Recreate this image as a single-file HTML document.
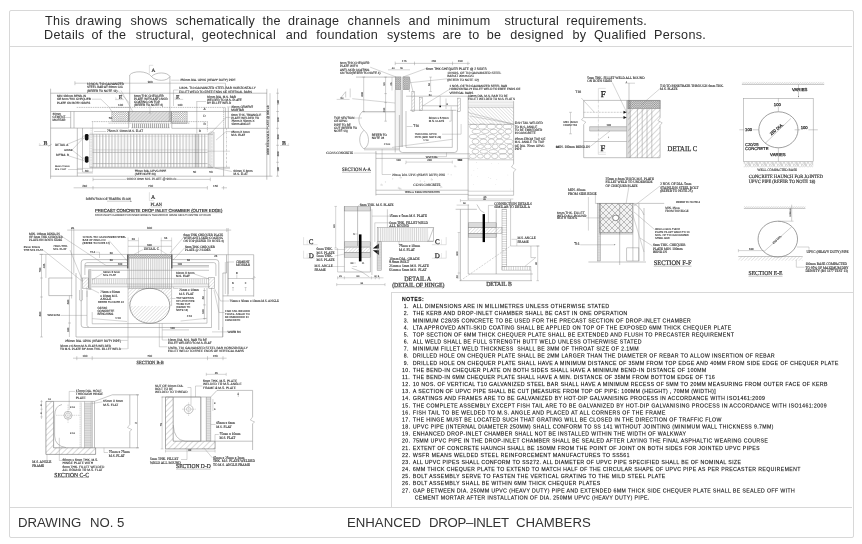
<!DOCTYPE html>
<html><head><meta charset="utf-8">
<style>
html,body{margin:0;padding:0;background:#fff;}
body{width:862px;height:544px;position:relative;overflow:hidden;font-family:"Liberation Sans",sans-serif;}
.hl,#notes,.tb{will-change:transform;}
.box{position:absolute;border:1px solid #d8d8d8;}
.hl{position:absolute;left:0;font-size:12.6px;letter-spacing:0.3px;color:#2a2a2a;white-space:nowrap;line-height:15px;}
.hl span{position:absolute;top:0;}
#notes{position:absolute;left:402.2px;top:295.65px;font-size:10.4px;line-height:14.18px;letter-spacing:0.82px;color:#1a1a1a;white-space:nowrap;transform:scale(0.5);transform-origin:0 0;-webkit-text-stroke:0.3px #1a1a1a;}
#notes .l{position:relative;height:14.18px;}
#notes .n{position:absolute;left:0;}
#notes .t{position:absolute;left:21.8px;}
.tb{position:absolute;top:515.3px;font-size:13.2px;color:#333;white-space:nowrap;line-height:15px;}
svg{position:absolute;left:0;top:0;will-change:transform;}
</style></head><body>
<div class="box" style="left:9px;top:10px;width:843px;height:526px;border-radius:2px;"></div>
<div class="box" style="left:9px;top:46px;width:843px;height:0;border-width:1px 0 0 0"></div>
<div class="box" style="left:9px;top:507px;width:843px;height:0;border-width:1px 0 0 0"></div>
<div class="box" style="left:391px;top:292px;width:461px;height:215px;border-width:1px 0 0 1px"></div>
<div class="hl" style="top:14.2px"><span style="left:45.1px">This</span><span style="left:75.5px">drawing</span><span style="left:130.5px">shows</span><span style="left:175.7px">schematically</span><span style="left:262.5px">the</span><span style="left:288.0px">drainage</span><span style="left:347.6px">channels</span><span style="left:408.4px">and</span><span style="left:437.3px">minimum</span><span style="left:504.4px">structural</span><span style="left:566.2px">requirements.</span></div>
<div class="hl" style="top:27.8px"><span style="left:44.1px">Details</span><span style="left:91.5px">of</span><span style="left:108.0px">the</span><span style="left:135.8px">structural,</span><span style="left:201.7px">geotechnical</span><span style="left:285.7px">and</span><span style="left:316.3px">foundation</span><span style="left:387.0px">systems</span><span style="left:442.5px">are</span><span style="left:468.4px">to</span><span style="left:486.7px">be</span><span style="left:510.2px">designed</span><span style="left:572.4px">by</span><span style="left:594.0px">Qualified</span><span style="left:654.0px">Persons.</span></div>
<div class="tb" style="left:17.7px">DRAWING</div>
<div class="tb" style="left:89.7px">NO. 5</div>
<div class="tb" style="left:346.5px">ENHANCED</div>
<div class="tb" style="left:428.9px;letter-spacing:-0.3px">DROP–INLET</div>
<div class="tb" style="left:516px">CHAMBERS</div>
<svg width="862" height="544" viewBox="0 0 862 544" text-rendering="geometricPrecision"><defs>
<pattern id="xh" width="2.2" height="2.2" patternUnits="userSpaceOnUse"><path d="M0,0L2.2,2.2M2.2,0L0,2.2" stroke="#777" stroke-width="0.35"/></pattern>
<pattern id="dh" width="2.4" height="2.4" patternUnits="userSpaceOnUse" patternTransform="rotate(45)"><line x1="0" y1="0" x2="0" y2="2.4" stroke="#888" stroke-width="0.4"/></pattern>
<pattern id="dh2" width="2.4" height="2.4" patternUnits="userSpaceOnUse" patternTransform="rotate(-45)"><line x1="0" y1="0" x2="0" y2="2.4" stroke="#888" stroke-width="0.4"/></pattern>
<pattern id="dhw" width="4" height="4" patternUnits="userSpaceOnUse" patternTransform="rotate(45)"><line x1="0" y1="0" x2="0" y2="4" stroke="#666" stroke-width="0.5"/></pattern>
<pattern id="dhw2" width="4" height="4" patternUnits="userSpaceOnUse" patternTransform="rotate(-45)"><line x1="0" y1="0" x2="0" y2="4" stroke="#666" stroke-width="0.5"/></pattern>
</defs><line x1="50.6" y1="93.2" x2="267.0" y2="93.2" stroke="#858585" stroke-width="0.5"/>
<line x1="50.6" y1="88.7" x2="50.6" y2="178.8" stroke="#858585" stroke-width="0.5"/>
<line x1="266.8" y1="88.9" x2="266.8" y2="179.7" stroke="#858585" stroke-width="0.5"/>
<line x1="50.6" y1="111.5" x2="266.5" y2="111.5" stroke="#858585" stroke-width="0.5"/>
<line x1="50.6" y1="128.1" x2="128.7" y2="128.1" stroke="#858585" stroke-width="0.5"/>
<line x1="171.8" y1="128.3" x2="266.5" y2="128.3" stroke="#858585" stroke-width="0.5"/>
<line x1="50.6" y1="176.2" x2="272.4" y2="176.2" stroke="#858585" stroke-width="0.5"/>
<line x1="70.7" y1="111.5" x2="70.7" y2="128.1" stroke="#858585" stroke-width="0.5"/>
<line x1="74.0" y1="111.5" x2="74.0" y2="128.1" stroke="#858585" stroke-width="0.5"/>
<path d="M266.8,142.5 L265.2,144.3 L268.3,145.3 L266.8,147" fill="none" stroke="#858585" stroke-width="0.4"/>
<line x1="76.7" y1="107.4" x2="224.8" y2="107.4" stroke="#858585" stroke-width="0.5" stroke-dasharray="1.6,0.7"/>
<line x1="91.8" y1="121.6" x2="207.5" y2="121.6" stroke="#858585" stroke-width="0.5" stroke-dasharray="1.6,0.7"/>
<line x1="108.6" y1="123.2" x2="190.0" y2="123.2" stroke="#858585" stroke-width="0.5" stroke-dasharray="1.2,0.6"/>
<line x1="223.6" y1="107.4" x2="223.6" y2="128.3" stroke="#858585" stroke-width="0.5" stroke-dasharray="1.4,0.7"/>
<line x1="225.4" y1="107.4" x2="225.4" y2="128.3" stroke="#858585" stroke-width="0.5"/>
<line x1="228.3" y1="107.4" x2="228.3" y2="128.3" stroke="#858585" stroke-width="0.5"/>
<line x1="207.4" y1="121.6" x2="207.4" y2="131.5" stroke="#858585" stroke-width="0.5" stroke-dasharray="1.2,0.6"/>
<rect x="111.9" y="111.5" width="16.8" height="9.9" fill="url(#xh)"/>
<rect x="111.9" y="111.5" width="16.8" height="9.9" fill="none" stroke="#858585" stroke-width="0.4"/>
<rect x="128.7" y="111.5" width="43.1" height="9.9" fill="rgba(0,0,0,0.13)"/>
<rect x="128.7" y="111.5" width="43.1" height="9.9" fill="url(#dh)"/>
<rect x="128.7" y="111.5" width="43.1" height="9.9" fill="none" stroke="#858585" stroke-width="0.4"/>
<rect x="128.7" y="111.5" width="1.2" height="9.9" fill="rgba(0,0,0,0.2)"/>
<rect x="168.7" y="111.5" width="3.1" height="9.9" fill="rgba(0,0,0,0.15)"/>
<rect x="171.8" y="111.5" width="15.3" height="11.7" fill="url(#xh)"/>
<rect x="171.8" y="111.5" width="15.3" height="11.7" fill="none" stroke="#858585" stroke-width="0.4"/>
<line x1="128.7" y1="121.4" x2="128.7" y2="128.1" stroke="#858585" stroke-width="0.5"/>
<line x1="171.8" y1="121.4" x2="171.8" y2="128.3" stroke="#858585" stroke-width="0.5"/>
<rect x="132.2" y="123.6" width="0.9" height="4.4" fill="#999"/>
<rect x="134.2" y="123.6" width="0.9" height="4.4" fill="#999"/>
<rect x="136.2" y="123.6" width="0.9" height="4.4" fill="#999"/>
<rect x="138.2" y="123.6" width="0.9" height="4.4" fill="#999"/>
<rect x="140.2" y="123.6" width="0.9" height="4.4" fill="#999"/>
<rect x="142.2" y="123.6" width="0.9" height="4.4" fill="#999"/>
<rect x="144.2" y="123.6" width="0.9" height="4.4" fill="#999"/>
<rect x="146.2" y="123.6" width="0.9" height="4.4" fill="#999"/>
<rect x="148.2" y="123.6" width="0.9" height="4.4" fill="#999"/>
<rect x="150.2" y="123.6" width="0.9" height="4.4" fill="#999"/>
<rect x="152.2" y="123.6" width="0.9" height="4.4" fill="#999"/>
<rect x="154.2" y="123.6" width="0.9" height="4.4" fill="#999"/>
<rect x="156.2" y="123.6" width="0.9" height="4.4" fill="#999"/>
<rect x="158.2" y="123.6" width="0.9" height="4.4" fill="#999"/>
<rect x="160.2" y="123.6" width="0.9" height="4.4" fill="#999"/>
<rect x="162.2" y="123.6" width="0.9" height="4.4" fill="#999"/>
<rect x="164.2" y="123.6" width="0.9" height="4.4" fill="#999"/>
<rect x="166.2" y="123.6" width="0.9" height="4.4" fill="#999"/>
<rect x="168.2" y="123.6" width="0.9" height="4.4" fill="#999"/>
<line x1="131.0" y1="127.9" x2="170.0" y2="127.9" stroke="#858585" stroke-width="0.4"/>
<line x1="129.7" y1="75.0" x2="129.7" y2="111.5" stroke="#858585" stroke-width="0.5"/>
<line x1="169.9" y1="76.5" x2="169.9" y2="111.5" stroke="#858585" stroke-width="0.5"/>
<path d="M129.65,75 C133,70.5 147,70.5 151.5,76.5 C155.5,71.8 167.5,71.8 169.9,76.5 C167.5,81.6 155.5,81.6 151.5,76.5" fill="none" stroke="#858585" stroke-width="0.5"/>
<line x1="149.4" y1="65.2" x2="149.4" y2="73.6" stroke="#b6b6b6" stroke-width="0.4"/>
<line x1="149.4" y1="65.3" x2="153.2" y2="65.3" stroke="#b6b6b6" stroke-width="0.4"/>
<text x="153.3" y="71.9" font-size="5.2" font-family='"Liberation Serif",serif' fill="#333" stroke="#333" stroke-width="0.18" text-anchor="middle">A</text>
<line x1="74.9" y1="83.2" x2="225.5" y2="83.2" stroke="#858585" stroke-width="0.4"/>
<line x1="74.9" y1="81.2" x2="74.9" y2="85.2" stroke="#858585" stroke-width="0.4"/>
<line x1="225.5" y1="83.2" x2="225.5" y2="93.2" stroke="#858585" stroke-width="0.4"/>
<text x="150.2" y="82.5" font-size="3.0" font-family='"Liberation Sans",sans-serif' fill="#444" stroke="#444" stroke-width="0.11" text-anchor="middle">900</text>
<text x="87.0" y="84.9" font-size="3.11" font-family='"Liberation Sans",sans-serif' fill="#333" stroke="#333" stroke-width="0.11" textLength="37.0" lengthAdjust="spacingAndGlyphs">10 NOS. T10 GALVANIZED</text>
<text x="87.0" y="88.2" font-size="3.11" font-family='"Liberation Sans",sans-serif' fill="#333" stroke="#333" stroke-width="0.11" textLength="35.9" lengthAdjust="spacingAndGlyphs">STEEL BAR AT 20mm C/C</text>
<text x="87.0" y="91.5" font-size="3.11" font-family='"Liberation Sans",sans-serif' fill="#333" stroke="#333" stroke-width="0.11" textLength="30.5" lengthAdjust="spacingAndGlyphs">(REFER TO NOTE 12)</text>
<line x1="118.0" y1="90.5" x2="129.9" y2="103.5" stroke="#858585" stroke-width="0.35"/>
<line x1="121.0" y1="90.5" x2="133.0" y2="112.0" stroke="#858585" stroke-width="0.35"/>
<text x="56.9" y="97.1" font-size="3.07" font-family='"Liberation Sans",sans-serif' fill="#333" stroke="#333" stroke-width="0.11" textLength="29.3" lengthAdjust="spacingAndGlyphs">MIN 100mm BEND-IN</text>
<text x="56.9" y="100.3" font-size="3.07" font-family='"Liberation Sans",sans-serif' fill="#333" stroke="#333" stroke-width="0.11" textLength="34.0" lengthAdjust="spacingAndGlyphs">OF 6mm THK CHEQUER</text>
<text x="56.9" y="103.5" font-size="3.07" font-family='"Liberation Sans",sans-serif' fill="#333" stroke="#333" stroke-width="0.11" textLength="33.3" lengthAdjust="spacingAndGlyphs">PLATE ON BOTH SIDES</text>
<line x1="92.0" y1="99.2" x2="100.9" y2="99.2" stroke="#858585" stroke-width="0.35"/>
<line x1="100.9" y1="99.2" x2="108.4" y2="106.4" stroke="#858585" stroke-width="0.35"/>
<line x1="108.4" y1="106.4" x2="111.9" y2="111.5" stroke="#858585" stroke-width="0.35"/>
<line x1="115.2" y1="99.6" x2="123.8" y2="99.6" stroke="#9d9d9d" stroke-width="0.4"/>
<line x1="115.7" y1="99.6" x2="115.7" y2="97.2" stroke="#b6b6b6" stroke-width="0.35"/>
<line x1="116.6" y1="99.6" x2="116.6" y2="98.0" stroke="#c2c2c2" stroke-width="0.3"/>
<text x="120.5" y="99.0" font-size="5.9" font-family='"Liberation Serif",serif' fill="#333" stroke="#333" stroke-width="0.21" text-anchor="middle">E</text>
<text x="120.6" y="106.0" font-size="3.0" font-family='"Liberation Sans",sans-serif' fill="#444" stroke="#444" stroke-width="0.11" text-anchor="middle">100</text>
<line x1="110.5" y1="107.4" x2="129.6" y2="107.4" stroke="#858585" stroke-width="0.35"/>
<text x="134.0" y="96.7" font-size="3.12" font-family='"Liberation Sans",sans-serif' fill="#333" stroke="#333" stroke-width="0.11" textLength="29.6" lengthAdjust="spacingAndGlyphs">6mm THK CHEQUER</text>
<text x="134.0" y="99.8" font-size="3.12" font-family='"Liberation Sans",sans-serif' fill="#333" stroke="#333" stroke-width="0.11" textLength="33.6" lengthAdjust="spacingAndGlyphs">PLATE WITH ANTI-SKID</text>
<text x="134.0" y="102.9" font-size="3.12" font-family='"Liberation Sans",sans-serif' fill="#333" stroke="#333" stroke-width="0.11" textLength="25.9" lengthAdjust="spacingAndGlyphs">COATING ON TOP</text>
<text x="134.0" y="106.0" font-size="3.12" font-family='"Liberation Sans",sans-serif' fill="#333" stroke="#333" stroke-width="0.11" textLength="29.0" lengthAdjust="spacingAndGlyphs">(REFER TO NOTE 4)</text>
<line x1="150.0" y1="105.0" x2="150.0" y2="113.0" stroke="#858585" stroke-width="0.35"/>
<polygon points="150.0,114.0 149.6,112.8 150.4,112.8" fill="#555"/>
<text x="52.5" y="114.7" font-size="3.16" font-family='"Liberation Sans",sans-serif' fill="#333" stroke="#333" stroke-width="0.11" textLength="8.5" lengthAdjust="spacingAndGlyphs">20mm</text>
<text x="52.5" y="117.7" font-size="3.16" font-family='"Liberation Sans",sans-serif' fill="#333" stroke="#333" stroke-width="0.11" textLength="12.9" lengthAdjust="spacingAndGlyphs">CEMENT</text>
<text x="52.5" y="120.7" font-size="3.16" font-family='"Liberation Sans",sans-serif' fill="#333" stroke="#333" stroke-width="0.11" textLength="13.0" lengthAdjust="spacingAndGlyphs">MORTAR</text>
<line x1="63.0" y1="117.5" x2="70.7" y2="117.5" stroke="#858585" stroke-width="0.35"/>
<text x="110.5" y="118.5" font-size="3.0" font-family='"Liberation Sans",sans-serif' fill="#444" stroke="#444" stroke-width="0.11" text-anchor="middle">50</text>
<text x="107.0" y="132.4" font-size="3.16" font-family='"Liberation Sans",sans-serif' fill="#333" stroke="#333" stroke-width="0.11" textLength="36.0" lengthAdjust="spacingAndGlyphs">75mm X 10mm M.S. FLAT</text>
<line x1="94.0" y1="131.5" x2="106.0" y2="131.5" stroke="#858585" stroke-width="0.35"/>
<text x="180.2" y="81.3" font-size="3.1" font-family='"Liberation Sans",sans-serif' fill="#333" stroke="#333" stroke-width="0.11" textLength="55.3" lengthAdjust="spacingAndGlyphs">250mm DIA. UPVC (HEAVY DUTY) PIPE</text>
<line x1="171.2" y1="80.2" x2="179.5" y2="80.2" stroke="#858585" stroke-width="0.35"/>
<text x="179.0" y="89.2" font-size="3.16" font-family='"Liberation Sans",sans-serif' fill="#333" stroke="#333" stroke-width="0.11" textLength="76.8" lengthAdjust="spacingAndGlyphs">1/4/26. T10 GALVANIZED STEEL BAR HORIZONTALLY</text>
<text x="179.0" y="92.7" font-size="3.16" font-family='"Liberation Sans",sans-serif' fill="#333" stroke="#333" stroke-width="0.11" textLength="73.1" lengthAdjust="spacingAndGlyphs">FILLET WELD TO FREE ENDS OF VERTICAL BARS</text>
<line x1="173.5" y1="90.0" x2="178.5" y2="90.0" stroke="#858585" stroke-width="0.35"/>
<line x1="173.5" y1="90.0" x2="173.5" y2="106.0" stroke="#858585" stroke-width="0.35"/>
<line x1="174.6" y1="99.4" x2="183.2" y2="99.4" stroke="#9d9d9d" stroke-width="0.4"/>
<line x1="175.1" y1="99.4" x2="175.1" y2="97.0" stroke="#b6b6b6" stroke-width="0.35"/>
<line x1="176.0" y1="99.4" x2="176.0" y2="97.8" stroke="#c2c2c2" stroke-width="0.3"/>
<text x="177.8" y="98.8" font-size="5.9" font-family='"Liberation Serif",serif' fill="#333" stroke="#333" stroke-width="0.21" text-anchor="middle">E</text>
<text x="180.0" y="106.0" font-size="3.0" font-family='"Liberation Sans",sans-serif' fill="#444" stroke="#444" stroke-width="0.11" text-anchor="middle">100</text>
<text x="206.9" y="97.6" font-size="3.11" font-family='"Liberation Sans",sans-serif' fill="#333" stroke="#333" stroke-width="0.11" textLength="29.1" lengthAdjust="spacingAndGlyphs">10mm DIA. M.S. BAR</text>
<text x="206.9" y="100.8" font-size="3.11" font-family='"Liberation Sans",sans-serif' fill="#333" stroke="#333" stroke-width="0.11" textLength="35.0" lengthAdjust="spacingAndGlyphs">WELDED TO M.S. PLATE</text>
<text x="206.9" y="103.9" font-size="3.11" font-family='"Liberation Sans",sans-serif' fill="#333" stroke="#333" stroke-width="0.11" textLength="24.2" lengthAdjust="spacingAndGlyphs">BY FILLET WELD</text>
<line x1="196.4" y1="101.5" x2="206.0" y2="101.5" stroke="#858585" stroke-width="0.35"/>
<line x1="196.8" y1="101.5" x2="196.8" y2="133.5" stroke="#858585" stroke-width="0.4"/>
<text x="231.2" y="107.5" font-size="3.12" font-family='"Liberation Sans",sans-serif' fill="#333" stroke="#333" stroke-width="0.11" textLength="22.0" lengthAdjust="spacingAndGlyphs">20mm CEMENT</text>
<text x="231.2" y="110.6" font-size="3.12" font-family='"Liberation Sans",sans-serif' fill="#333" stroke="#333" stroke-width="0.11" textLength="12.8" lengthAdjust="spacingAndGlyphs">MORTAR</text>
<line x1="226.9" y1="107.0" x2="230.5" y2="107.0" stroke="#858585" stroke-width="0.35"/>
<text x="231.2" y="115.6" font-size="3.1" font-family='"Liberation Sans",sans-serif' fill="#333" stroke="#333" stroke-width="0.11" textLength="30.1" lengthAdjust="spacingAndGlyphs">6mm THK. TRIANGLE</text>
<text x="231.2" y="118.7" font-size="3.1" font-family='"Liberation Sans",sans-serif' fill="#333" stroke="#333" stroke-width="0.11" textLength="27.9" lengthAdjust="spacingAndGlyphs">PLATE WELDED TO</text>
<text x="231.2" y="121.8" font-size="3.1" font-family='"Liberation Sans",sans-serif' fill="#333" stroke="#333" stroke-width="0.11" textLength="23.2" lengthAdjust="spacingAndGlyphs">75mm X 50mm X</text>
<text x="231.2" y="124.9" font-size="3.1" font-family='"Liberation Sans",sans-serif' fill="#333" stroke="#333" stroke-width="0.11" textLength="19.2" lengthAdjust="spacingAndGlyphs">10mm ANGLE</text>
<line x1="230.6" y1="117.4" x2="226.0" y2="117.4" stroke="#858585" stroke-width="0.35"/>
<line x1="226.0" y1="117.4" x2="210.3" y2="133.6" stroke="#858585" stroke-width="0.35"/>
<text x="231.2" y="132.7" font-size="3.06" font-family='"Liberation Sans",sans-serif' fill="#333" stroke="#333" stroke-width="0.11" textLength="18.5" lengthAdjust="spacingAndGlyphs">65mm X 6mm</text>
<text x="231.2" y="135.7" font-size="3.06" font-family='"Liberation Sans",sans-serif' fill="#333" stroke="#333" stroke-width="0.11" textLength="14.0" lengthAdjust="spacingAndGlyphs">M.S. FLAT</text>
<line x1="230.6" y1="131.6" x2="226.0" y2="131.6" stroke="#858585" stroke-width="0.35"/>
<line x1="226.0" y1="131.6" x2="216.1" y2="140.0" stroke="#858585" stroke-width="0.35"/>
<text x="233.5" y="171.5" font-size="3.16" font-family='"Liberation Sans",sans-serif' fill="#333" stroke="#333" stroke-width="0.11" textLength="19.1" lengthAdjust="spacingAndGlyphs">60mm X 8mm</text>
<text x="233.5" y="174.6" font-size="3.16" font-family='"Liberation Sans",sans-serif' fill="#333" stroke="#333" stroke-width="0.11" textLength="14.4" lengthAdjust="spacingAndGlyphs">M.S. FLAT</text>
<line x1="231.8" y1="171.5" x2="215.0" y2="168.0" stroke="#858585" stroke-width="0.35"/>
<text x="204.5" y="110.2" font-size="3.25" font-family='"Liberation Sans",sans-serif' fill="#444" stroke="#444" stroke-width="0.11" text-anchor="middle">A</text>
<text x="204.5" y="117.1" font-size="3.25" font-family='"Liberation Sans",sans-serif' fill="#444" stroke="#444" stroke-width="0.11" text-anchor="middle">D</text>
<text x="204.5" y="125.3" font-size="3.25" font-family='"Liberation Sans",sans-serif' fill="#444" stroke="#444" stroke-width="0.11" text-anchor="middle">B</text>
<text x="199.9" y="132.0" font-size="3.25" font-family='"Liberation Sans",sans-serif' fill="#444" stroke="#444" stroke-width="0.11" text-anchor="middle">B</text>
<line x1="77.3" y1="128.1" x2="77.3" y2="176.2" stroke="#858585" stroke-width="0.5"/>
<line x1="82.5" y1="128.1" x2="82.5" y2="172.0" stroke="#858585" stroke-width="0.5"/>
<line x1="92.6" y1="121.6" x2="92.6" y2="172.0" stroke="#a9a9a9" stroke-width="0.4"/>
<line x1="91.1" y1="128.1" x2="91.1" y2="168.0" stroke="#858585" stroke-width="0.3" stroke-dasharray="1,0.8"/>
<line x1="82.5" y1="172.0" x2="92.6" y2="172.0" stroke="#858585" stroke-width="0.4"/>
<line x1="89.5" y1="134.2" x2="213.0" y2="134.2" stroke="#858585" stroke-width="0.5"/>
<line x1="92.6" y1="136.3" x2="207.5" y2="136.3" stroke="#b6b6b6" stroke-width="0.35"/>
<line x1="89.5" y1="167.3" x2="213.0" y2="167.3" stroke="#858585" stroke-width="0.6"/>
<line x1="92.6" y1="149.9" x2="207.5" y2="149.9" stroke="#858585" stroke-width="0.3"/>
<line x1="92.6" y1="152.4" x2="207.5" y2="152.4" stroke="#858585" stroke-width="0.5"/>
<line x1="92.6" y1="163.6" x2="207.5" y2="163.6" stroke="#858585" stroke-width="0.5"/>
<line x1="93.3" y1="134.2" x2="93.3" y2="167.3" stroke="#919191" stroke-width="0.45"/>
<line x1="94.1" y1="134.2" x2="94.1" y2="167.3" stroke="#b6b6b6" stroke-width="0.35"/>
<line x1="96.4" y1="134.2" x2="96.4" y2="167.3" stroke="#919191" stroke-width="0.45"/>
<line x1="97.2" y1="134.2" x2="97.2" y2="167.3" stroke="#b6b6b6" stroke-width="0.35"/>
<line x1="99.5" y1="134.2" x2="99.5" y2="167.3" stroke="#919191" stroke-width="0.45"/>
<line x1="100.3" y1="134.2" x2="100.3" y2="167.3" stroke="#b6b6b6" stroke-width="0.35"/>
<line x1="102.6" y1="134.2" x2="102.6" y2="167.3" stroke="#919191" stroke-width="0.45"/>
<line x1="103.4" y1="134.2" x2="103.4" y2="167.3" stroke="#b6b6b6" stroke-width="0.35"/>
<line x1="105.7" y1="134.2" x2="105.7" y2="167.3" stroke="#919191" stroke-width="0.45"/>
<line x1="106.5" y1="134.2" x2="106.5" y2="167.3" stroke="#b6b6b6" stroke-width="0.35"/>
<line x1="108.8" y1="134.2" x2="108.8" y2="167.3" stroke="#919191" stroke-width="0.45"/>
<line x1="109.6" y1="134.2" x2="109.6" y2="167.3" stroke="#b6b6b6" stroke-width="0.35"/>
<line x1="111.8" y1="134.2" x2="111.8" y2="167.3" stroke="#919191" stroke-width="0.45"/>
<line x1="112.6" y1="134.2" x2="112.6" y2="167.3" stroke="#b6b6b6" stroke-width="0.35"/>
<line x1="114.9" y1="134.2" x2="114.9" y2="167.3" stroke="#919191" stroke-width="0.45"/>
<line x1="115.7" y1="134.2" x2="115.7" y2="167.3" stroke="#b6b6b6" stroke-width="0.35"/>
<line x1="118.0" y1="134.2" x2="118.0" y2="167.3" stroke="#919191" stroke-width="0.45"/>
<line x1="118.8" y1="134.2" x2="118.8" y2="167.3" stroke="#b6b6b6" stroke-width="0.35"/>
<line x1="121.1" y1="134.2" x2="121.1" y2="167.3" stroke="#919191" stroke-width="0.45"/>
<line x1="121.9" y1="134.2" x2="121.9" y2="167.3" stroke="#b6b6b6" stroke-width="0.35"/>
<line x1="124.2" y1="134.2" x2="124.2" y2="167.3" stroke="#919191" stroke-width="0.45"/>
<line x1="125.0" y1="134.2" x2="125.0" y2="167.3" stroke="#b6b6b6" stroke-width="0.35"/>
<line x1="127.3" y1="134.2" x2="127.3" y2="167.3" stroke="#919191" stroke-width="0.45"/>
<line x1="128.1" y1="134.2" x2="128.1" y2="167.3" stroke="#b6b6b6" stroke-width="0.35"/>
<line x1="130.4" y1="134.2" x2="130.4" y2="167.3" stroke="#919191" stroke-width="0.45"/>
<line x1="131.2" y1="134.2" x2="131.2" y2="167.3" stroke="#b6b6b6" stroke-width="0.35"/>
<line x1="133.5" y1="134.2" x2="133.5" y2="167.3" stroke="#919191" stroke-width="0.45"/>
<line x1="134.3" y1="134.2" x2="134.3" y2="167.3" stroke="#b6b6b6" stroke-width="0.35"/>
<line x1="136.6" y1="134.2" x2="136.6" y2="167.3" stroke="#919191" stroke-width="0.45"/>
<line x1="137.4" y1="134.2" x2="137.4" y2="167.3" stroke="#b6b6b6" stroke-width="0.35"/>
<line x1="139.7" y1="134.2" x2="139.7" y2="167.3" stroke="#919191" stroke-width="0.45"/>
<line x1="140.5" y1="134.2" x2="140.5" y2="167.3" stroke="#b6b6b6" stroke-width="0.35"/>
<line x1="142.7" y1="134.2" x2="142.7" y2="167.3" stroke="#919191" stroke-width="0.45"/>
<line x1="143.5" y1="134.2" x2="143.5" y2="167.3" stroke="#b6b6b6" stroke-width="0.35"/>
<line x1="145.8" y1="134.2" x2="145.8" y2="167.3" stroke="#919191" stroke-width="0.45"/>
<line x1="146.6" y1="134.2" x2="146.6" y2="167.3" stroke="#b6b6b6" stroke-width="0.35"/>
<line x1="148.9" y1="134.2" x2="148.9" y2="167.3" stroke="#919191" stroke-width="0.45"/>
<line x1="149.7" y1="134.2" x2="149.7" y2="167.3" stroke="#b6b6b6" stroke-width="0.35"/>
<line x1="152.0" y1="134.2" x2="152.0" y2="167.3" stroke="#919191" stroke-width="0.45"/>
<line x1="152.8" y1="134.2" x2="152.8" y2="167.3" stroke="#b6b6b6" stroke-width="0.35"/>
<line x1="155.1" y1="134.2" x2="155.1" y2="167.3" stroke="#919191" stroke-width="0.45"/>
<line x1="155.9" y1="134.2" x2="155.9" y2="167.3" stroke="#b6b6b6" stroke-width="0.35"/>
<line x1="158.2" y1="134.2" x2="158.2" y2="167.3" stroke="#919191" stroke-width="0.45"/>
<line x1="159.0" y1="134.2" x2="159.0" y2="167.3" stroke="#b6b6b6" stroke-width="0.35"/>
<line x1="161.3" y1="134.2" x2="161.3" y2="167.3" stroke="#919191" stroke-width="0.45"/>
<line x1="162.1" y1="134.2" x2="162.1" y2="167.3" stroke="#b6b6b6" stroke-width="0.35"/>
<line x1="164.4" y1="134.2" x2="164.4" y2="167.3" stroke="#919191" stroke-width="0.45"/>
<line x1="165.2" y1="134.2" x2="165.2" y2="167.3" stroke="#b6b6b6" stroke-width="0.35"/>
<line x1="167.5" y1="134.2" x2="167.5" y2="167.3" stroke="#919191" stroke-width="0.45"/>
<line x1="168.3" y1="134.2" x2="168.3" y2="167.3" stroke="#b6b6b6" stroke-width="0.35"/>
<line x1="170.6" y1="134.2" x2="170.6" y2="167.3" stroke="#919191" stroke-width="0.45"/>
<line x1="171.4" y1="134.2" x2="171.4" y2="167.3" stroke="#b6b6b6" stroke-width="0.35"/>
<line x1="173.6" y1="134.2" x2="173.6" y2="167.3" stroke="#919191" stroke-width="0.45"/>
<line x1="174.4" y1="134.2" x2="174.4" y2="167.3" stroke="#b6b6b6" stroke-width="0.35"/>
<line x1="176.7" y1="134.2" x2="176.7" y2="167.3" stroke="#919191" stroke-width="0.45"/>
<line x1="177.5" y1="134.2" x2="177.5" y2="167.3" stroke="#b6b6b6" stroke-width="0.35"/>
<line x1="179.8" y1="134.2" x2="179.8" y2="167.3" stroke="#919191" stroke-width="0.45"/>
<line x1="180.6" y1="134.2" x2="180.6" y2="167.3" stroke="#b6b6b6" stroke-width="0.35"/>
<line x1="182.9" y1="134.2" x2="182.9" y2="167.3" stroke="#919191" stroke-width="0.45"/>
<line x1="183.7" y1="134.2" x2="183.7" y2="167.3" stroke="#b6b6b6" stroke-width="0.35"/>
<line x1="186.0" y1="134.2" x2="186.0" y2="167.3" stroke="#919191" stroke-width="0.45"/>
<line x1="186.8" y1="134.2" x2="186.8" y2="167.3" stroke="#b6b6b6" stroke-width="0.35"/>
<line x1="189.1" y1="134.2" x2="189.1" y2="167.3" stroke="#919191" stroke-width="0.45"/>
<line x1="189.9" y1="134.2" x2="189.9" y2="167.3" stroke="#b6b6b6" stroke-width="0.35"/>
<line x1="192.2" y1="134.2" x2="192.2" y2="167.3" stroke="#919191" stroke-width="0.45"/>
<line x1="193.0" y1="134.2" x2="193.0" y2="167.3" stroke="#b6b6b6" stroke-width="0.35"/>
<line x1="195.3" y1="134.2" x2="195.3" y2="167.3" stroke="#919191" stroke-width="0.45"/>
<line x1="196.1" y1="134.2" x2="196.1" y2="167.3" stroke="#b6b6b6" stroke-width="0.35"/>
<line x1="198.4" y1="134.2" x2="198.4" y2="167.3" stroke="#919191" stroke-width="0.45"/>
<line x1="199.2" y1="134.2" x2="199.2" y2="167.3" stroke="#b6b6b6" stroke-width="0.35"/>
<line x1="201.5" y1="134.2" x2="201.5" y2="167.3" stroke="#919191" stroke-width="0.45"/>
<line x1="202.3" y1="134.2" x2="202.3" y2="167.3" stroke="#b6b6b6" stroke-width="0.35"/>
<line x1="204.5" y1="134.2" x2="204.5" y2="167.3" stroke="#919191" stroke-width="0.45"/>
<line x1="205.3" y1="134.2" x2="205.3" y2="167.3" stroke="#b6b6b6" stroke-width="0.35"/>
<rect x="194.6" y="134.2" width="4.1" height="33.1" fill="rgba(0,0,0,0.12)"/>
<line x1="89.5" y1="134.2" x2="89.5" y2="167.3" stroke="#b6b6b6" stroke-width="0.35"/>
<line x1="89.5" y1="135.0" x2="92.3" y2="135.0" stroke="#c2c2c2" stroke-width="0.3"/>
<line x1="89.5" y1="136.5" x2="92.3" y2="136.5" stroke="#c2c2c2" stroke-width="0.3"/>
<line x1="89.5" y1="138.0" x2="92.3" y2="138.0" stroke="#c2c2c2" stroke-width="0.3"/>
<line x1="89.5" y1="139.5" x2="92.3" y2="139.5" stroke="#c2c2c2" stroke-width="0.3"/>
<line x1="89.5" y1="141.0" x2="92.3" y2="141.0" stroke="#c2c2c2" stroke-width="0.3"/>
<line x1="89.5" y1="142.5" x2="92.3" y2="142.5" stroke="#c2c2c2" stroke-width="0.3"/>
<line x1="89.5" y1="144.0" x2="92.3" y2="144.0" stroke="#c2c2c2" stroke-width="0.3"/>
<line x1="89.5" y1="145.5" x2="92.3" y2="145.5" stroke="#c2c2c2" stroke-width="0.3"/>
<line x1="89.5" y1="147.0" x2="92.3" y2="147.0" stroke="#c2c2c2" stroke-width="0.3"/>
<line x1="89.5" y1="148.5" x2="92.3" y2="148.5" stroke="#c2c2c2" stroke-width="0.3"/>
<line x1="89.5" y1="150.0" x2="92.3" y2="150.0" stroke="#c2c2c2" stroke-width="0.3"/>
<line x1="89.5" y1="151.5" x2="92.3" y2="151.5" stroke="#c2c2c2" stroke-width="0.3"/>
<line x1="89.5" y1="153.0" x2="92.3" y2="153.0" stroke="#c2c2c2" stroke-width="0.3"/>
<line x1="89.5" y1="154.5" x2="92.3" y2="154.5" stroke="#c2c2c2" stroke-width="0.3"/>
<line x1="89.5" y1="156.0" x2="92.3" y2="156.0" stroke="#c2c2c2" stroke-width="0.3"/>
<line x1="89.5" y1="157.5" x2="92.3" y2="157.5" stroke="#c2c2c2" stroke-width="0.3"/>
<line x1="89.5" y1="159.0" x2="92.3" y2="159.0" stroke="#c2c2c2" stroke-width="0.3"/>
<line x1="89.5" y1="160.5" x2="92.3" y2="160.5" stroke="#c2c2c2" stroke-width="0.3"/>
<line x1="89.5" y1="162.0" x2="92.3" y2="162.0" stroke="#c2c2c2" stroke-width="0.3"/>
<line x1="89.5" y1="163.5" x2="92.3" y2="163.5" stroke="#c2c2c2" stroke-width="0.3"/>
<line x1="89.5" y1="165.0" x2="92.3" y2="165.0" stroke="#c2c2c2" stroke-width="0.3"/>
<line x1="89.5" y1="166.5" x2="92.3" y2="166.5" stroke="#c2c2c2" stroke-width="0.3"/>
<rect x="208.2" y="133.0" width="5.8" height="34.3" fill="rgba(0,0,0,0.06)"/>
<line x1="208.2" y1="134.0" x2="208.2" y2="167.3" stroke="#858585" stroke-width="0.45"/>
<line x1="214.0" y1="132.1" x2="214.0" y2="167.3" stroke="#858585" stroke-width="0.45"/>
<line x1="210.0" y1="133.0" x2="210.0" y2="167.3" stroke="#b6b6b6" stroke-width="0.35"/>
<line x1="211.8" y1="134.0" x2="211.8" y2="166.0" stroke="#a9a9a9" stroke-width="0.4" stroke-dasharray="0.6,0.9"/>
<line x1="208.2" y1="134.0" x2="210.5" y2="132.1" stroke="#858585" stroke-width="0.4"/>
<line x1="210.5" y1="132.1" x2="214.0" y2="132.1" stroke="#858585" stroke-width="0.4"/>
<line x1="207.5" y1="167.5" x2="230.0" y2="167.3" stroke="#858585" stroke-width="0.45"/>
<line x1="208.7" y1="164.0" x2="212.0" y2="167.5" stroke="#858585" stroke-width="0.35"/>
<line x1="223.6" y1="128.3" x2="223.6" y2="176.2" stroke="#858585" stroke-width="0.5"/>
<line x1="226.5" y1="128.3" x2="226.5" y2="167.0" stroke="#858585" stroke-width="0.4" stroke-dasharray="2,0.8,0.5,0.8"/>
<line x1="207.5" y1="151.2" x2="230.0" y2="151.2" stroke="#858585" stroke-width="0.3"/>
<rect x="84.9" y="133.9" width="3.6" height="6.5" rx="1.4" fill="#111"/>
<rect x="84.9" y="156.2" width="3.6" height="6.5" rx="1.4" fill="#111"/>
<circle cx="83.6" cy="137.3" r="1.2" fill="none" stroke="#858585" stroke-width="0.35"/>
<circle cx="83.6" cy="159.2" r="1.2" fill="none" stroke="#858585" stroke-width="0.35"/>
<text x="55.0" y="145.5" font-size="3.18" font-family='"Liberation Sans",sans-serif' fill="#333" stroke="#333" stroke-width="0.11" textLength="13.2" lengthAdjust="spacingAndGlyphs">DETAIL A</text>
<text x="64.2" y="151.1" font-size="2.7" font-family='"Liberation Sans",sans-serif' fill="#333" stroke="#333" stroke-width="0.09" textLength="8.3" lengthAdjust="spacingAndGlyphs">HINGE</text>
<text x="56.0" y="156.0" font-size="3.07" font-family='"Liberation Sans",sans-serif' fill="#333" stroke="#333" stroke-width="0.11" textLength="12.9" lengthAdjust="spacingAndGlyphs">DETAIL B</text>
<text x="55.0" y="167.1" font-size="2.44" font-family='"Liberation Sans",sans-serif' fill="#333" stroke="#333" stroke-width="0.09" textLength="14.7" lengthAdjust="spacingAndGlyphs">65mm X 6mm</text>
<text x="55.0" y="170.3" font-size="2.43" font-family='"Liberation Sans",sans-serif' fill="#333" stroke="#333" stroke-width="0.09" textLength="11.1" lengthAdjust="spacingAndGlyphs">M.S. FLAT</text>
<line x1="68.0" y1="144.0" x2="82.4" y2="138.0" stroke="#858585" stroke-width="0.35"/>
<line x1="72.0" y1="150.0" x2="82.4" y2="139.0" stroke="#858585" stroke-width="0.35"/>
<line x1="72.0" y1="150.0" x2="82.4" y2="158.2" stroke="#858585" stroke-width="0.35"/>
<line x1="68.5" y1="155.8" x2="82.4" y2="160.2" stroke="#858585" stroke-width="0.35"/>
<line x1="68.0" y1="169.5" x2="82.5" y2="169.5" stroke="#858585" stroke-width="0.35"/>
<line x1="38.9" y1="145.5" x2="50.4" y2="145.5" stroke="#9d9d9d" stroke-width="0.4"/>
<line x1="39.4" y1="145.5" x2="39.4" y2="143.1" stroke="#b6b6b6" stroke-width="0.35"/>
<line x1="40.3" y1="145.5" x2="40.3" y2="143.9" stroke="#c2c2c2" stroke-width="0.3"/>
<text x="45.5" y="144.9" font-size="5.9" font-family='"Liberation Serif",serif' fill="#333" stroke="#333" stroke-width="0.21" text-anchor="middle">B</text>
<line x1="48.0" y1="146.5" x2="52.0" y2="144.0" stroke="#858585" stroke-width="0.35"/>
<line x1="270.0" y1="93.2" x2="270.0" y2="176.2" stroke="#858585" stroke-width="0.4"/>
<text x="269.4" y="130.0" font-size="3.12" font-family='"Liberation Sans",sans-serif' fill="#444" stroke="#444" stroke-width="0.11" text-anchor="middle" transform="rotate(-90 269.4 130.0)">1000 X 8mm M.S. PLATE @ 900 c/c</text>
<line x1="277.6" y1="88.5" x2="277.6" y2="176.2" stroke="#858585" stroke-width="0.4"/>
<line x1="276.2" y1="93.2" x2="279.0" y2="93.2" stroke="#858585" stroke-width="0.4"/>
<line x1="276.2" y1="111.5" x2="279.0" y2="111.5" stroke="#858585" stroke-width="0.4"/>
<line x1="276.2" y1="128.3" x2="279.0" y2="128.3" stroke="#858585" stroke-width="0.4"/>
<line x1="276.2" y1="145.3" x2="279.0" y2="145.3" stroke="#858585" stroke-width="0.4"/>
<line x1="276.2" y1="162.3" x2="279.0" y2="162.3" stroke="#858585" stroke-width="0.4"/>
<line x1="276.2" y1="176.2" x2="279.0" y2="176.2" stroke="#858585" stroke-width="0.4"/>
<text x="278.6" y="102.3" font-size="2.88" font-family='"Liberation Sans",sans-serif' fill="#444" stroke="#444" stroke-width="0.10" text-anchor="middle" transform="rotate(-90 278.6 102.3)">100</text>
<text x="278.6" y="119.9" font-size="2.88" font-family='"Liberation Sans",sans-serif' fill="#444" stroke="#444" stroke-width="0.10" text-anchor="middle" transform="rotate(-90 278.6 119.9)">100</text>
<text x="278.6" y="136.8" font-size="2.88" font-family='"Liberation Sans",sans-serif' fill="#444" stroke="#444" stroke-width="0.10" text-anchor="middle" transform="rotate(-90 278.6 136.8)">300</text>
<text x="278.6" y="153.8" font-size="2.88" font-family='"Liberation Sans",sans-serif' fill="#444" stroke="#444" stroke-width="0.10" text-anchor="middle" transform="rotate(-90 278.6 153.8)">300</text>
<text x="278.6" y="169.2" font-size="2.88" font-family='"Liberation Sans",sans-serif' fill="#444" stroke="#444" stroke-width="0.10" text-anchor="middle" transform="rotate(-90 278.6 169.2)">100</text>
<line x1="280.1" y1="145.5" x2="289.1" y2="145.5" stroke="#9d9d9d" stroke-width="0.4"/>
<line x1="288.6" y1="145.5" x2="288.6" y2="143.1" stroke="#b6b6b6" stroke-width="0.35"/>
<line x1="287.7" y1="145.5" x2="287.7" y2="143.9" stroke="#c2c2c2" stroke-width="0.3"/>
<text x="284.0" y="144.9" font-size="5.9" font-family='"Liberation Serif",serif' fill="#333" stroke="#333" stroke-width="0.21" text-anchor="middle">B</text>
<line x1="77.3" y1="173.0" x2="93.0" y2="173.0" stroke="#858585" stroke-width="0.35"/>
<text x="86.7" y="172.4" font-size="3.0" font-family='"Liberation Sans",sans-serif' fill="#444" stroke="#444" stroke-width="0.11" text-anchor="middle">60</text>
<line x1="77.3" y1="168.4" x2="230.0" y2="168.4" stroke="#858585" stroke-width="0.35"/>
<text x="194.6" y="173.2" font-size="3.0" font-family='"Liberation Sans",sans-serif' fill="#444" stroke="#444" stroke-width="0.11" text-anchor="middle">50</text>
<text x="210.9" y="173.2" font-size="3.0" font-family='"Liberation Sans",sans-serif' fill="#444" stroke="#444" stroke-width="0.11" text-anchor="middle">50</text>
<line x1="93.0" y1="179.4" x2="210.3" y2="179.4" stroke="#858585" stroke-width="0.4"/>
<line x1="93.0" y1="177.6" x2="93.0" y2="181.2" stroke="#858585" stroke-width="0.4"/>
<line x1="210.3" y1="177.6" x2="210.3" y2="181.2" stroke="#858585" stroke-width="0.4"/>
<rect x="126.0" y="177.6" width="51.0" height="3.6" fill="#fff"/>
<text x="151.5" y="180.4" font-size="3.19" font-family='"Liberation Sans",sans-serif' fill="#444" stroke="#444" stroke-width="0.11" text-anchor="middle" textLength="50.0" lengthAdjust="spacingAndGlyphs">1000 X 8mm M.S. PLATE @ 900 c/c</text>
<text x="134.7" y="172.4" font-size="3.06" font-family='"Liberation Sans",sans-serif' fill="#333" stroke="#333" stroke-width="0.11" textLength="31.5" lengthAdjust="spacingAndGlyphs">75mm DIA. UPVC PIPE</text>
<text x="134.7" y="175.4" font-size="3.06" font-family='"Liberation Sans",sans-serif' fill="#333" stroke="#333" stroke-width="0.11" textLength="21.1" lengthAdjust="spacingAndGlyphs">(SEE NOTE 20)</text>
<line x1="73.6" y1="187.8" x2="207.4" y2="187.8" stroke="#858585" stroke-width="0.4"/>
<line x1="93.0" y1="186.0" x2="93.0" y2="189.6" stroke="#858585" stroke-width="0.4"/>
<line x1="207.4" y1="186.0" x2="207.4" y2="189.6" stroke="#858585" stroke-width="0.4"/>
<text x="84.7" y="187.1" font-size="3.0" font-family='"Liberation Sans",sans-serif' fill="#444" stroke="#444" stroke-width="0.11" text-anchor="middle">240</text>
<text x="150.6" y="187.1" font-size="3.0" font-family='"Liberation Sans",sans-serif' fill="#444" stroke="#444" stroke-width="0.11" text-anchor="middle">700</text>
<text x="215.5" y="187.1" font-size="3.0" font-family='"Liberation Sans",sans-serif' fill="#444" stroke="#444" stroke-width="0.11" text-anchor="middle">150</text>
<line x1="223.6" y1="186.0" x2="223.6" y2="189.6" stroke="#858585" stroke-width="0.4"/>
<line x1="221.6" y1="187.8" x2="227.0" y2="187.8" stroke="#858585" stroke-width="0.4"/>
<text x="85.7" y="199.7" font-size="3.15" font-family='"Liberation Sans",sans-serif' fill="#333" stroke="#333" stroke-width="0.11" textLength="45.3" lengthAdjust="spacingAndGlyphs">DIRECTION OF TRAFFIC FLOW</text>
<line x1="107.0" y1="201.2" x2="131.0" y2="201.2" stroke="#858585" stroke-width="0.4"/>
<polygon points="132.0,201.2 130.4,201.8 130.4,200.6" fill="#555"/>
<line x1="149.4" y1="192.2" x2="149.4" y2="200.6" stroke="#b6b6b6" stroke-width="0.4"/>
<line x1="149.4" y1="200.6" x2="153.6" y2="200.6" stroke="#b6b6b6" stroke-width="0.4"/>
<text x="153.0" y="198.8" font-size="5.8" font-family='"Liberation Serif",serif' fill="#333" stroke="#333" stroke-width="0.20" text-anchor="middle">A</text>
<text x="156.3" y="206.3" font-size="4.69" font-family='"Liberation Serif",serif' fill="#333" stroke="#333" stroke-width="0.16" text-anchor="middle" textLength="11.4" lengthAdjust="spacingAndGlyphs">PLAN</text>
<line x1="150.6" y1="207.0" x2="162.0" y2="207.0" stroke="#858585" stroke-width="0.35"/>
<text x="95.0" y="211.7" font-size="4.43" font-family='"Liberation Sans",sans-serif' fill="#222" stroke="#222" stroke-width="0.16" textLength="127.4" lengthAdjust="spacingAndGlyphs">PRECAST CONCRETE DROP INLET CHAMBER (OUTER EDGE)</text>
<line x1="95.0" y1="212.6" x2="222.4" y2="212.6" stroke="#858585" stroke-width="0.45"/>
<text x="95.0" y="215.8" font-size="2.69" font-family='"Liberation Sans",sans-serif' fill="#555" stroke="#555" stroke-width="0.09" textLength="116.0" lengthAdjust="spacingAndGlyphs">DROP-INLET CHAMBER FOR INNER EDGE IS THE MIRROR IMAGE ABOUT CENTRE OF ROAD</text>
<line x1="67.2" y1="230.1" x2="231.2" y2="230.1" stroke="#858585" stroke-width="0.4"/>
<line x1="71.6" y1="228.0" x2="71.6" y2="298.5" stroke="#858585" stroke-width="0.4"/>
<line x1="73.8" y1="228.0" x2="73.8" y2="273.5" stroke="#858585" stroke-width="0.4"/>
<line x1="226.8" y1="228.0" x2="226.8" y2="232.0" stroke="#858585" stroke-width="0.4"/>
<line x1="228.2" y1="228.0" x2="228.2" y2="294.0" stroke="#858585" stroke-width="0.4"/>
<line x1="225.3" y1="262.0" x2="225.3" y2="294.0" stroke="#858585" stroke-width="0.35"/>
<text x="149.6" y="229.4" font-size="3.0" font-family='"Liberation Sans",sans-serif' fill="#444" stroke="#444" stroke-width="0.11" text-anchor="middle">900</text>
<text x="72.5" y="228.6" font-size="2.75" font-family='"Liberation Sans",sans-serif' fill="#444" stroke="#444" stroke-width="0.10" text-anchor="middle">25</text>
<line x1="39.3" y1="254.4" x2="215.0" y2="254.4" stroke="#858585" stroke-width="0.45"/>
<line x1="215.0" y1="254.7" x2="253.7" y2="254.7" stroke="#858585" stroke-width="0.45"/>
<line x1="41.5" y1="254.4" x2="41.5" y2="337.0" stroke="#858585" stroke-width="0.4"/>
<line x1="45.9" y1="254.4" x2="45.9" y2="278.0" stroke="#858585" stroke-width="0.4"/>
<line x1="40.2" y1="254.4" x2="42.8" y2="254.4" stroke="#858585" stroke-width="0.4"/>
<line x1="40.2" y1="278.0" x2="42.8" y2="278.0" stroke="#858585" stroke-width="0.4"/>
<line x1="40.2" y1="297.0" x2="42.8" y2="297.0" stroke="#858585" stroke-width="0.4"/>
<line x1="40.2" y1="337.0" x2="42.8" y2="337.0" stroke="#858585" stroke-width="0.4"/>
<text x="45.2" y="266.0" font-size="2.75" font-family='"Liberation Sans",sans-serif' fill="#444" stroke="#444" stroke-width="0.10" text-anchor="middle" transform="rotate(-90 45.2 266.0)">425</text>
<text x="41.0" y="270.0" font-size="2.75" font-family='"Liberation Sans",sans-serif' fill="#444" stroke="#444" stroke-width="0.10" text-anchor="middle" transform="rotate(-90 41.0 270.0)">700</text>
<text x="41.0" y="314.0" font-size="2.75" font-family='"Liberation Sans",sans-serif' fill="#444" stroke="#444" stroke-width="0.10" text-anchor="middle" transform="rotate(-90 41.0 314.0)">800</text>
<line x1="48.8" y1="278.0" x2="72.4" y2="278.0" stroke="#858585" stroke-width="0.5"/>
<line x1="48.8" y1="295.6" x2="72.4" y2="295.6" stroke="#858585" stroke-width="0.5"/>
<line x1="48.8" y1="278.0" x2="48.8" y2="295.6" stroke="#858585" stroke-width="0.5"/>
<line x1="69.4" y1="295.6" x2="69.4" y2="337.0" stroke="#858585" stroke-width="0.4"/>
<line x1="68.0" y1="323.0" x2="71.0" y2="323.0" stroke="#858585" stroke-width="0.4"/>
<text x="69.2" y="302.0" font-size="2.75" font-family='"Liberation Sans",sans-serif' fill="#444" stroke="#444" stroke-width="0.10" text-anchor="middle" transform="rotate(-90 69.2 302.0)">500</text>
<text x="69.2" y="330.0" font-size="2.75" font-family='"Liberation Sans",sans-serif' fill="#444" stroke="#444" stroke-width="0.10" text-anchor="middle" transform="rotate(-90 69.2 330.0)">100</text>
<line x1="76.0" y1="273.0" x2="76.0" y2="337.0" stroke="#858585" stroke-width="0.5"/>
<line x1="76.0" y1="337.0" x2="222.9" y2="337.0" stroke="#858585" stroke-width="0.5"/>
<line x1="222.9" y1="273.0" x2="222.9" y2="337.0" stroke="#858585" stroke-width="0.5"/>
<line x1="226.5" y1="254.7" x2="226.5" y2="273.0" stroke="#858585" stroke-width="0.5"/>
<line x1="222.8" y1="273.0" x2="226.5" y2="273.0" stroke="#858585" stroke-width="0.5"/>
<line x1="227.9" y1="262.0" x2="227.9" y2="295.9" stroke="#858585" stroke-width="0.5"/>
<line x1="226.5" y1="262.0" x2="227.9" y2="262.0" stroke="#858585" stroke-width="0.4"/>
<line x1="253.7" y1="254.7" x2="253.7" y2="296.6" stroke="#858585" stroke-width="0.5"/>
<path d="M253.7,276 L255.2,277.5 L252.2,278.5 L253.7,280" fill="none" stroke="#858585" stroke-width="0.4"/>
<line x1="222.8" y1="295.9" x2="253.7" y2="295.9" stroke="#858585" stroke-width="0.5"/>
<line x1="227.9" y1="278.5" x2="252.5" y2="278.5" stroke="#858585" stroke-width="0.4"/>
<path d="M129,259.6 L84,259.6 Q81.2,259.6 81.2,262.5 L81.2,325 Q81.2,327.5 84,327.5 L211.5,327.5" fill="none" stroke="#858585" stroke-width="0.5"/>
<path d="M128,262.6 L87,262.6 Q84.9,262.6 84.9,265 L84.9,275" fill="none" stroke="#858585" stroke-width="0.45"/>
<path d="M171.6,259.6 L216,259.6 Q218.8,259.6 218.8,262.5 L218.8,330" fill="none" stroke="#858585" stroke-width="0.5"/>
<path d="M171.6,262.6 L213.8,262.6 Q215.9,262.6 215.9,265 L215.9,276" fill="none" stroke="#858585" stroke-width="0.45"/>
<line x1="87.0" y1="288.0" x2="87.0" y2="325.3" stroke="#858585" stroke-width="0.45"/>
<path d="M87,325.3 Q87,327 89,327" fill="none" stroke="#858585" stroke-width="0.4"/>
<line x1="92.2" y1="312.0" x2="92.2" y2="323.8" stroke="#858585" stroke-width="0.4"/>
<line x1="92.2" y1="323.8" x2="207.0" y2="323.2" stroke="#858585" stroke-width="0.45"/>
<line x1="207.0" y1="288.0" x2="207.0" y2="323.2" stroke="#858585" stroke-width="0.45"/>
<line x1="211.5" y1="288.0" x2="211.5" y2="327.5" stroke="#858585" stroke-width="0.45"/>
<line x1="222.5" y1="327.0" x2="222.5" y2="337.0" stroke="#858585" stroke-width="0.4"/>
<line x1="92.2" y1="318.6" x2="127.0" y2="321.5" stroke="#858585" stroke-width="0.35"/>
<text x="118.0" y="318.7" font-size="2.75" font-family='"Liberation Sans",sans-serif' fill="#444" stroke="#444" stroke-width="0.10" text-anchor="middle">1:10</text>
<line x1="180.6" y1="321.0" x2="207.0" y2="318.3" stroke="#858585" stroke-width="0.35"/>
<text x="189.4" y="317.3" font-size="2.75" font-family='"Liberation Sans",sans-serif' fill="#444" stroke="#444" stroke-width="0.10" text-anchor="middle">1:10</text>
<line x1="84.9" y1="265.5" x2="128.0" y2="265.5" stroke="#858585" stroke-width="0.5"/>
<line x1="84.9" y1="266.9" x2="128.0" y2="266.9" stroke="#858585" stroke-width="0.5"/>
<line x1="171.6" y1="265.5" x2="209.0" y2="265.5" stroke="#858585" stroke-width="0.5"/>
<line x1="171.6" y1="266.9" x2="209.0" y2="266.9" stroke="#858585" stroke-width="0.5"/>
<line x1="91.5" y1="270.3" x2="209.0" y2="270.3" stroke="#858585" stroke-width="0.45"/>
<line x1="91.5" y1="286.8" x2="210.0" y2="286.8" stroke="#858585" stroke-width="0.45"/>
<line x1="91.5" y1="285.0" x2="210.0" y2="285.0" stroke="#b6b6b6" stroke-width="0.35"/>
<line x1="92.5" y1="278.7" x2="92.5" y2="283.8" stroke="#a9a9a9" stroke-width="0.5"/>
<line x1="94.4" y1="278.7" x2="94.4" y2="283.8" stroke="#a9a9a9" stroke-width="0.5"/>
<line x1="96.3" y1="278.7" x2="96.3" y2="283.8" stroke="#a9a9a9" stroke-width="0.5"/>
<line x1="98.2" y1="278.7" x2="98.2" y2="283.8" stroke="#a9a9a9" stroke-width="0.5"/>
<line x1="100.1" y1="278.7" x2="100.1" y2="283.8" stroke="#a9a9a9" stroke-width="0.5"/>
<line x1="102.0" y1="278.7" x2="102.0" y2="283.8" stroke="#a9a9a9" stroke-width="0.5"/>
<line x1="103.9" y1="278.7" x2="103.9" y2="283.8" stroke="#a9a9a9" stroke-width="0.5"/>
<line x1="105.8" y1="278.7" x2="105.8" y2="283.8" stroke="#a9a9a9" stroke-width="0.5"/>
<line x1="107.7" y1="278.7" x2="107.7" y2="283.8" stroke="#a9a9a9" stroke-width="0.5"/>
<line x1="109.6" y1="278.7" x2="109.6" y2="283.8" stroke="#a9a9a9" stroke-width="0.5"/>
<line x1="111.5" y1="278.7" x2="111.5" y2="283.8" stroke="#a9a9a9" stroke-width="0.5"/>
<line x1="113.4" y1="278.7" x2="113.4" y2="283.8" stroke="#a9a9a9" stroke-width="0.5"/>
<line x1="115.3" y1="278.7" x2="115.3" y2="283.8" stroke="#a9a9a9" stroke-width="0.5"/>
<line x1="117.2" y1="278.7" x2="117.2" y2="283.8" stroke="#a9a9a9" stroke-width="0.5"/>
<line x1="119.1" y1="278.7" x2="119.1" y2="283.8" stroke="#a9a9a9" stroke-width="0.5"/>
<line x1="121.0" y1="278.7" x2="121.0" y2="283.8" stroke="#a9a9a9" stroke-width="0.5"/>
<line x1="122.9" y1="278.7" x2="122.9" y2="283.8" stroke="#a9a9a9" stroke-width="0.5"/>
<line x1="124.8" y1="278.7" x2="124.8" y2="283.8" stroke="#a9a9a9" stroke-width="0.5"/>
<line x1="126.7" y1="278.7" x2="126.7" y2="283.8" stroke="#a9a9a9" stroke-width="0.5"/>
<line x1="174.2" y1="278.7" x2="174.2" y2="283.8" stroke="#a9a9a9" stroke-width="0.5"/>
<line x1="176.1" y1="278.7" x2="176.1" y2="283.8" stroke="#a9a9a9" stroke-width="0.5"/>
<line x1="178.0" y1="278.7" x2="178.0" y2="283.8" stroke="#a9a9a9" stroke-width="0.5"/>
<line x1="179.9" y1="278.7" x2="179.9" y2="283.8" stroke="#a9a9a9" stroke-width="0.5"/>
<line x1="181.8" y1="278.7" x2="181.8" y2="283.8" stroke="#a9a9a9" stroke-width="0.5"/>
<line x1="183.7" y1="278.7" x2="183.7" y2="283.8" stroke="#a9a9a9" stroke-width="0.5"/>
<line x1="185.6" y1="278.7" x2="185.6" y2="283.8" stroke="#a9a9a9" stroke-width="0.5"/>
<line x1="187.5" y1="278.7" x2="187.5" y2="283.8" stroke="#a9a9a9" stroke-width="0.5"/>
<line x1="189.4" y1="278.7" x2="189.4" y2="283.8" stroke="#a9a9a9" stroke-width="0.5"/>
<line x1="191.3" y1="278.7" x2="191.3" y2="283.8" stroke="#a9a9a9" stroke-width="0.5"/>
<line x1="193.2" y1="278.7" x2="193.2" y2="283.8" stroke="#a9a9a9" stroke-width="0.5"/>
<line x1="195.1" y1="278.7" x2="195.1" y2="283.8" stroke="#a9a9a9" stroke-width="0.5"/>
<line x1="197.0" y1="278.7" x2="197.0" y2="283.8" stroke="#a9a9a9" stroke-width="0.5"/>
<line x1="198.9" y1="278.7" x2="198.9" y2="283.8" stroke="#a9a9a9" stroke-width="0.5"/>
<line x1="200.8" y1="278.7" x2="200.8" y2="283.8" stroke="#a9a9a9" stroke-width="0.5"/>
<line x1="202.7" y1="278.7" x2="202.7" y2="283.8" stroke="#a9a9a9" stroke-width="0.5"/>
<line x1="204.6" y1="278.7" x2="204.6" y2="283.8" stroke="#a9a9a9" stroke-width="0.5"/>
<line x1="206.5" y1="278.7" x2="206.5" y2="283.8" stroke="#a9a9a9" stroke-width="0.5"/>
<line x1="91.5" y1="278.6" x2="209.0" y2="278.6" stroke="#858585" stroke-width="0.35"/>
<line x1="91.5" y1="283.9" x2="209.0" y2="283.9" stroke="#858585" stroke-width="0.35"/>
<rect x="82.6" y="278.0" width="6.0" height="10.2" fill="url(#dh)"/>
<rect x="82.6" y="278.0" width="6.0" height="10.2" fill="none" stroke="#858585" stroke-width="0.45"/>
<rect x="88.3" y="269.0" width="3.0" height="21.0" fill="rgba(0,0,0,0.2)"/>
<line x1="88.6" y1="270.3" x2="88.6" y2="288.2" stroke="#858585" stroke-width="0.4"/>
<rect x="208.8" y="277.5" width="5.9" height="11.0" fill="url(#dh)"/>
<rect x="208.8" y="277.5" width="5.9" height="11.0" fill="none" stroke="#858585" stroke-width="0.45"/>
<path d="M79.5,290 L79.5,300 Q81,302 82.5,300 L82.5,290" fill="none" stroke="#858585" stroke-width="0.4"/>
<line x1="87.0" y1="291.0" x2="87.0" y2="297.0" stroke="#858585" stroke-width="0.4"/>
<rect x="128.0" y="254.4" width="43.6" height="3.8" fill="rgba(0,0,0,0.12)"/>
<rect x="128.0" y="254.4" width="43.6" height="3.8" fill="url(#xh)"/>
<rect x="128.0" y="254.4" width="43.6" height="33.8" fill="none" stroke="#858585" stroke-width="0.5"/>
<line x1="129.5" y1="258.2" x2="129.5" y2="288.2" stroke="#919191" stroke-width="0.45"/>
<line x1="131.4" y1="258.2" x2="131.4" y2="288.2" stroke="#919191" stroke-width="0.45"/>
<line x1="133.3" y1="258.2" x2="133.3" y2="288.2" stroke="#919191" stroke-width="0.45"/>
<line x1="135.2" y1="258.2" x2="135.2" y2="288.2" stroke="#919191" stroke-width="0.45"/>
<line x1="137.1" y1="258.2" x2="137.1" y2="288.2" stroke="#919191" stroke-width="0.45"/>
<line x1="139.0" y1="258.2" x2="139.0" y2="288.2" stroke="#919191" stroke-width="0.45"/>
<line x1="140.9" y1="258.2" x2="140.9" y2="288.2" stroke="#919191" stroke-width="0.45"/>
<line x1="142.8" y1="258.2" x2="142.8" y2="288.2" stroke="#919191" stroke-width="0.45"/>
<line x1="144.7" y1="258.2" x2="144.7" y2="288.2" stroke="#919191" stroke-width="0.45"/>
<line x1="146.6" y1="258.2" x2="146.6" y2="288.2" stroke="#919191" stroke-width="0.45"/>
<line x1="148.5" y1="258.2" x2="148.5" y2="288.2" stroke="#919191" stroke-width="0.45"/>
<line x1="150.4" y1="258.2" x2="150.4" y2="288.2" stroke="#919191" stroke-width="0.45"/>
<line x1="152.3" y1="258.2" x2="152.3" y2="288.2" stroke="#919191" stroke-width="0.45"/>
<line x1="154.2" y1="258.2" x2="154.2" y2="288.2" stroke="#919191" stroke-width="0.45"/>
<line x1="156.1" y1="258.2" x2="156.1" y2="288.2" stroke="#919191" stroke-width="0.45"/>
<line x1="158.0" y1="258.2" x2="158.0" y2="288.2" stroke="#919191" stroke-width="0.45"/>
<line x1="159.9" y1="258.2" x2="159.9" y2="288.2" stroke="#919191" stroke-width="0.45"/>
<line x1="161.8" y1="258.2" x2="161.8" y2="288.2" stroke="#919191" stroke-width="0.45"/>
<line x1="163.7" y1="258.2" x2="163.7" y2="288.2" stroke="#919191" stroke-width="0.45"/>
<line x1="165.6" y1="258.2" x2="165.6" y2="288.2" stroke="#919191" stroke-width="0.45"/>
<line x1="167.5" y1="258.2" x2="167.5" y2="288.2" stroke="#919191" stroke-width="0.45"/>
<line x1="169.4" y1="258.2" x2="169.4" y2="288.2" stroke="#919191" stroke-width="0.45"/>
<line x1="128.0" y1="258.2" x2="171.6" y2="258.2" stroke="#858585" stroke-width="0.4"/>
<rect x="127.0" y="254.4" width="1.5" height="14.0" fill="#666"/>
<rect x="171.0" y="254.4" width="1.5" height="14.0" fill="#666"/>
<path d="M128,288.2 L171.6,288.2 L171.6,306 L128,306 Z M129.8,305.8 A20,17.5 0 1 0 169.8,305.8 A20,17.5 0 1 0 129.8,305.8 Z" fill-rule="evenodd" fill="url(#dh)"/>
<ellipse cx="149.8" cy="305.8" rx="20" ry="17.5" fill="none" stroke="#666" stroke-width="0.6"/>
<line x1="128.0" y1="288.2" x2="128.0" y2="349.0" stroke="#858585" stroke-width="0.4"/>
<line x1="171.6" y1="288.2" x2="171.6" y2="306.0" stroke="#858585" stroke-width="0.4"/>
<line x1="159.3" y1="323.3" x2="159.3" y2="346.8" stroke="#858585" stroke-width="0.35"/>
<line x1="162.2" y1="323.3" x2="162.2" y2="340.0" stroke="#858585" stroke-width="0.35"/>
<line x1="204.4" y1="288.0" x2="204.4" y2="319.6" stroke="#858585" stroke-width="0.4"/>
<line x1="203.0" y1="290.5" x2="205.8" y2="290.5" stroke="#858585" stroke-width="0.4"/>
<line x1="203.0" y1="304.9" x2="205.8" y2="304.9" stroke="#858585" stroke-width="0.4"/>
<line x1="203.0" y1="318.6" x2="205.8" y2="318.6" stroke="#858585" stroke-width="0.4"/>
<text x="204.0" y="297.7" font-size="2.75" font-family='"Liberation Sans",sans-serif' fill="#444" stroke="#444" stroke-width="0.10" text-anchor="middle" transform="rotate(-90 204.0 297.7)">50</text>
<text x="204.0" y="311.7" font-size="2.75" font-family='"Liberation Sans",sans-serif' fill="#444" stroke="#444" stroke-width="0.10" text-anchor="middle" transform="rotate(-90 204.0 311.7)">100</text>
<line x1="73.0" y1="358.2" x2="226.6" y2="358.2" stroke="#858585" stroke-width="0.4"/>
<line x1="76.8" y1="356.2" x2="76.8" y2="360.2" stroke="#858585" stroke-width="0.4"/>
<line x1="92.2" y1="356.2" x2="92.2" y2="360.2" stroke="#858585" stroke-width="0.4"/>
<line x1="207.5" y1="356.2" x2="207.5" y2="360.2" stroke="#858585" stroke-width="0.4"/>
<line x1="223.0" y1="356.2" x2="223.0" y2="360.2" stroke="#858585" stroke-width="0.4"/>
<text x="84.9" y="357.4" font-size="3.0" font-family='"Liberation Sans",sans-serif' fill="#444" stroke="#444" stroke-width="0.11" text-anchor="middle">100</text>
<text x="149.7" y="357.4" font-size="3.0" font-family='"Liberation Sans",sans-serif' fill="#444" stroke="#444" stroke-width="0.11" text-anchor="middle">700</text>
<text x="215.3" y="357.4" font-size="3.0" font-family='"Liberation Sans",sans-serif' fill="#444" stroke="#444" stroke-width="0.11" text-anchor="middle">150</text>
<line x1="162.2" y1="329.9" x2="189.0" y2="329.9" stroke="#858585" stroke-width="0.4"/>
<text x="172.5" y="329.3" font-size="2.75" font-family='"Liberation Sans",sans-serif' fill="#444" stroke="#444" stroke-width="0.10" text-anchor="middle">100</text>
<text x="29.0" y="235.0" font-size="3.35" font-family='"Liberation Serif",serif' fill="#333" stroke="#333" stroke-width="0.12" textLength="30.7" lengthAdjust="spacingAndGlyphs">MIN. 100mm BEND-IN</text>
<text x="29.0" y="238.2" font-size="3.35" font-family='"Liberation Serif",serif' fill="#333" stroke="#333" stroke-width="0.12" textLength="33.8" lengthAdjust="spacingAndGlyphs">OF 6mm THK CHEQUER</text>
<text x="29.0" y="241.3" font-size="3.35" font-family='"Liberation Serif",serif' fill="#333" stroke="#333" stroke-width="0.12" textLength="33.3" lengthAdjust="spacingAndGlyphs">PLATE ON BOTH SIDES</text>
<line x1="62.8" y1="237.0" x2="106.0" y2="265.5" stroke="#858585" stroke-width="0.35"/>
<line x1="106.0" y1="265.5" x2="128.0" y2="265.5" stroke="#858585" stroke-width="0.35"/>
<text x="23.8" y="248.1" font-size="3.0" font-family='"Liberation Serif",serif' fill="#333" stroke="#333" stroke-width="0.11" textLength="16.3" lengthAdjust="spacingAndGlyphs">65mm X 6mm</text>
<text x="23.8" y="251.1" font-size="3.0" font-family='"Liberation Serif",serif' fill="#333" stroke="#333" stroke-width="0.11" textLength="19.2" lengthAdjust="spacingAndGlyphs">THK M.S. FLAT</text>
<line x1="43.0" y1="250.0" x2="82.6" y2="281.6" stroke="#858585" stroke-width="0.35"/>
<text x="53.2" y="246.7" font-size="3.12" font-family='"Liberation Serif",serif' fill="#333" stroke="#333" stroke-width="0.11" textLength="14.8" lengthAdjust="spacingAndGlyphs">75mm THK.</text>
<text x="53.2" y="249.9" font-size="3.12" font-family='"Liberation Serif",serif' fill="#333" stroke="#333" stroke-width="0.11" textLength="13.3" lengthAdjust="spacingAndGlyphs">M.S. FLAT</text>
<line x1="70.0" y1="250.0" x2="82.6" y2="280.9" stroke="#858585" stroke-width="0.35"/>
<text x="82.6" y="237.6" font-size="3.09" font-family='"Liberation Serif",serif' fill="#333" stroke="#333" stroke-width="0.11" textLength="43.4" lengthAdjust="spacingAndGlyphs">10 NOS. T10 GALVANIZED STEEL</text>
<text x="82.6" y="240.6" font-size="3.09" font-family='"Liberation Serif",serif' fill="#333" stroke="#333" stroke-width="0.11" textLength="23.3" lengthAdjust="spacingAndGlyphs">BAR AT 20mm C/C</text>
<text x="82.6" y="243.5" font-size="3.09" font-family='"Liberation Serif",serif' fill="#333" stroke="#333" stroke-width="0.11" textLength="27.2" lengthAdjust="spacingAndGlyphs">(REFER TO NOTE 12)</text>
<line x1="109.0" y1="240.5" x2="128.0" y2="261.8" stroke="#858585" stroke-width="0.35"/>
<text x="92.5" y="253.2" font-size="3.0" font-family='"Liberation Serif",serif' fill="#444" stroke="#444" stroke-width="0.11" text-anchor="middle">T14</text>
<line x1="95.5" y1="252.2" x2="99.5" y2="252.2" stroke="#858585" stroke-width="0.35"/>
<line x1="99.5" y1="252.2" x2="99.5" y2="258.0" stroke="#858585" stroke-width="0.35"/>
<text x="111.3" y="261.2" font-size="2.75" font-family='"Liberation Sans",sans-serif' fill="#444" stroke="#444" stroke-width="0.10" text-anchor="middle">50</text>
<text x="120.1" y="265.0" font-size="2.75" font-family='"Liberation Sans",sans-serif' fill="#444" stroke="#444" stroke-width="0.10" text-anchor="middle">100</text>
<text x="179.7" y="265.0" font-size="2.75" font-family='"Liberation Sans",sans-serif' fill="#444" stroke="#444" stroke-width="0.10" text-anchor="middle">100</text>
<text x="111.3" y="253.5" font-size="2.75" font-family='"Liberation Sans",sans-serif' fill="#444" stroke="#444" stroke-width="0.10" text-anchor="middle">50</text>
<text x="188.5" y="261.0" font-size="2.75" font-family='"Liberation Sans",sans-serif' fill="#444" stroke="#444" stroke-width="0.10" text-anchor="middle">50</text>
<text x="215.7" y="257.4" font-size="2.75" font-family='"Liberation Sans",sans-serif' fill="#444" stroke="#444" stroke-width="0.10" text-anchor="middle">25</text>
<text x="103.2" y="273.0" font-size="2.8" font-family='"Liberation Sans",sans-serif' fill="#333" stroke="#333" stroke-width="0.10" textLength="16.9" lengthAdjust="spacingAndGlyphs">60mm X 6mm</text>
<text x="103.2" y="276.0" font-size="2.8" font-family='"Liberation Sans",sans-serif' fill="#333" stroke="#333" stroke-width="0.10" textLength="12.8" lengthAdjust="spacingAndGlyphs">M.S. FLAT</text>
<line x1="102.5" y1="273.5" x2="92.0" y2="280.0" stroke="#858585" stroke-width="0.35"/>
<text x="176.0" y="273.5" font-size="3.05" font-family='"Liberation Sans",sans-serif' fill="#333" stroke="#333" stroke-width="0.11" textLength="18.4" lengthAdjust="spacingAndGlyphs">60mm X 6mm</text>
<text x="176.0" y="276.8" font-size="3.05" font-family='"Liberation Sans",sans-serif' fill="#333" stroke="#333" stroke-width="0.11" textLength="13.9" lengthAdjust="spacingAndGlyphs">M.S. FLAT</text>
<line x1="194.4" y1="274.0" x2="209.0" y2="279.0" stroke="#858585" stroke-width="0.35"/>
<text x="100.3" y="293.2" font-size="3.48" font-family='"Liberation Serif",serif' fill="#333" stroke="#333" stroke-width="0.12" textLength="19.8" lengthAdjust="spacingAndGlyphs">75mm x 65mm</text>
<text x="100.3" y="296.5" font-size="3.48" font-family='"Liberation Serif",serif' fill="#333" stroke="#333" stroke-width="0.12" textLength="17.8" lengthAdjust="spacingAndGlyphs">x 10mm M.S.</text>
<text x="100.3" y="299.8" font-size="3.48" font-family='"Liberation Serif",serif' fill="#333" stroke="#333" stroke-width="0.12" textLength="11.0" lengthAdjust="spacingAndGlyphs">ANGLE</text>
<text x="98.0" y="303.2" font-size="2.81" font-family='"Liberation Sans",sans-serif' fill="#333" stroke="#333" stroke-width="0.10" textLength="25.8" lengthAdjust="spacingAndGlyphs">REFER TO NOTE 24</text>
<line x1="99.0" y1="293.0" x2="89.0" y2="288.0" stroke="#858585" stroke-width="0.35"/>
<text x="133.4" y="239.8" font-size="2.75" font-family='"Liberation Sans",sans-serif' fill="#444" stroke="#444" stroke-width="0.10" text-anchor="middle">65</text>
<text x="165.7" y="239.4" font-size="2.75" font-family='"Liberation Sans",sans-serif' fill="#444" stroke="#444" stroke-width="0.10" text-anchor="middle">65</text>
<line x1="128.0" y1="240.7" x2="138.5" y2="240.7" stroke="#858585" stroke-width="0.35"/>
<line x1="160.5" y1="240.7" x2="171.6" y2="240.7" stroke="#858585" stroke-width="0.35"/>
<line x1="128.0" y1="246.3" x2="171.6" y2="246.3" stroke="#858585" stroke-width="0.4"/>
<text x="149.6" y="245.6" font-size="2.75" font-family='"Liberation Sans",sans-serif' fill="#444" stroke="#444" stroke-width="0.10" text-anchor="middle">500</text>
<line x1="128.0" y1="237.5" x2="128.0" y2="254.4" stroke="#858585" stroke-width="0.3"/>
<line x1="138.5" y1="237.5" x2="138.5" y2="254.4" stroke="#858585" stroke-width="0.3"/>
<line x1="161.3" y1="237.5" x2="161.3" y2="254.4" stroke="#858585" stroke-width="0.3"/>
<line x1="171.6" y1="237.5" x2="171.6" y2="254.4" stroke="#858585" stroke-width="0.3"/>
<text x="151.4" y="250.3" font-size="3.76" font-family='"Liberation Serif",serif' fill="#444" stroke="#444" stroke-width="0.13" text-anchor="middle" textLength="15.4" lengthAdjust="spacingAndGlyphs">DETAIL C</text>
<line x1="143.0" y1="249.5" x2="134.0" y2="254.4" stroke="#858585" stroke-width="0.3"/>
<line x1="159.5" y1="249.5" x2="167.0" y2="254.4" stroke="#858585" stroke-width="0.3"/>
<text x="183.4" y="235.8" font-size="3.41" font-family='"Liberation Serif",serif' fill="#333" stroke="#333" stroke-width="0.12" textLength="39.8" lengthAdjust="spacingAndGlyphs">6mm THK CHEQUER PLATE</text>
<text x="183.4" y="239.0" font-size="3.41" font-family='"Liberation Serif",serif' fill="#333" stroke="#333" stroke-width="0.12" textLength="39.6" lengthAdjust="spacingAndGlyphs">WITH ANTI-SKID COATING</text>
<text x="183.4" y="242.1" font-size="3.41" font-family='"Liberation Serif",serif' fill="#333" stroke="#333" stroke-width="0.12" textLength="40.4" lengthAdjust="spacingAndGlyphs">ON TOP (REFER TO NOTE 4)</text>
<line x1="183.4" y1="237.5" x2="170.0" y2="253.0" stroke="#858585" stroke-width="0.35"/>
<text x="184.9" y="247.6" font-size="3.47" font-family='"Liberation Serif",serif' fill="#333" stroke="#333" stroke-width="0.12" textLength="30.1" lengthAdjust="spacingAndGlyphs">6mm THK CHEQUER</text>
<text x="184.9" y="250.9" font-size="3.47" font-family='"Liberation Serif",serif' fill="#333" stroke="#333" stroke-width="0.12" textLength="25.7" lengthAdjust="spacingAndGlyphs">PLATE @ 2 SIDES</text>
<line x1="184.5" y1="248.0" x2="173.0" y2="260.0" stroke="#858585" stroke-width="0.35"/>
<text x="236.0" y="262.6" font-size="3.64" font-family='"Liberation Serif",serif' fill="#333" stroke="#333" stroke-width="0.13" textLength="13.9" lengthAdjust="spacingAndGlyphs">CEMENT</text>
<text x="236.0" y="266.0" font-size="3.64" font-family='"Liberation Serif",serif' fill="#333" stroke="#333" stroke-width="0.13" textLength="14.0" lengthAdjust="spacingAndGlyphs">MORTAR</text>
<line x1="227.9" y1="262.0" x2="234.0" y2="262.0" stroke="#858585" stroke-width="0.35"/>
<text x="233.0" y="284.0" font-size="2.88" font-family='"Liberation Sans",sans-serif' fill="#444" stroke="#444" stroke-width="0.10" text-anchor="middle">B</text>
<line x1="233.0" y1="287.5" x2="233.0" y2="291.0" stroke="#858585" stroke-width="0.35"/>
<line x1="232.0" y1="287.5" x2="234.0" y2="287.5" stroke="#858585" stroke-width="0.35"/>
<text x="245.6" y="284.0" font-size="2.88" font-family='"Liberation Sans",sans-serif' fill="#444" stroke="#444" stroke-width="0.10" text-anchor="middle">F</text>
<line x1="245.6" y1="287.5" x2="245.6" y2="291.0" stroke="#858585" stroke-width="0.35"/>
<line x1="244.6" y1="287.5" x2="246.6" y2="287.5" stroke="#858585" stroke-width="0.35"/>
<text x="236.8" y="273.8" font-size="2.75" font-family='"Liberation Sans",sans-serif' fill="#444" stroke="#444" stroke-width="0.10" text-anchor="middle">E</text>
<line x1="236.8" y1="274.5" x2="236.8" y2="278.5" stroke="#858585" stroke-width="0.35"/>
<text x="229.6" y="301.9" font-size="3.43" font-family='"Liberation Serif",serif' fill="#333" stroke="#333" stroke-width="0.12" textLength="49.3" lengthAdjust="spacingAndGlyphs">75mm x 50mm x 10mm M.S. ANGLE</text>
<line x1="229.0" y1="301.0" x2="220.5" y2="301.0" stroke="#858585" stroke-width="0.35"/>
<line x1="220.5" y1="301.0" x2="214.5" y2="288.5" stroke="#858585" stroke-width="0.35"/>
<text x="225.0" y="312.3" font-size="2.83" font-family='"Liberation Sans",sans-serif' fill="#333" stroke="#333" stroke-width="0.10" textLength="25.0" lengthAdjust="spacingAndGlyphs">FISH TAIL WELDED</text>
<text x="225.0" y="315.1" font-size="2.83" font-family='"Liberation Sans",sans-serif' fill="#333" stroke="#333" stroke-width="0.10" textLength="24.6" lengthAdjust="spacingAndGlyphs">TO M.S. ANGLE TO</text>
<text x="225.0" y="317.8" font-size="2.83" font-family='"Liberation Sans",sans-serif' fill="#333" stroke="#333" stroke-width="0.10" textLength="23.5" lengthAdjust="spacingAndGlyphs">BE EMBEDDED IN</text>
<text x="225.0" y="320.6" font-size="2.83" font-family='"Liberation Sans",sans-serif' fill="#333" stroke="#333" stroke-width="0.10" textLength="15.4" lengthAdjust="spacingAndGlyphs">CONCRETE</text>
<line x1="224.5" y1="312.5" x2="219.0" y2="312.5" stroke="#858585" stroke-width="0.35"/>
<line x1="219.0" y1="312.5" x2="214.0" y2="290.0" stroke="#858585" stroke-width="0.35"/>
<text x="227.4" y="333.0" font-size="3.06" font-family='"Liberation Sans",sans-serif' fill="#333" stroke="#333" stroke-width="0.11" textLength="13.2" lengthAdjust="spacingAndGlyphs">WSFR B4</text>
<line x1="212.0" y1="331.9" x2="227.0" y2="331.9" stroke="#858585" stroke-width="0.35"/>
<text x="47.4" y="316.4" font-size="2.9" font-family='"Liberation Sans",sans-serif' fill="#333" stroke="#333" stroke-width="0.10" textLength="12.5" lengthAdjust="spacingAndGlyphs">WSFR B4</text>
<line x1="60.5" y1="315.4" x2="87.0" y2="315.4" stroke="#858585" stroke-width="0.35"/>
<text x="97.4" y="308.7" font-size="3.1" font-family='"Liberation Sans",sans-serif' fill="#333" stroke="#333" stroke-width="0.11" textLength="9.7" lengthAdjust="spacingAndGlyphs">C32/40</text>
<text x="97.4" y="312.0" font-size="3.1" font-family='"Liberation Sans",sans-serif' fill="#333" stroke="#333" stroke-width="0.11" textLength="16.9" lengthAdjust="spacingAndGlyphs">CONCRETE</text>
<text x="97.4" y="315.3" font-size="3.11" font-family='"Liberation Sans",sans-serif' fill="#333" stroke="#333" stroke-width="0.11" textLength="15.9" lengthAdjust="spacingAndGlyphs">BENCHING</text>
<text x="65.0" y="341.5" font-size="3.13" font-family='"Liberation Sans",sans-serif' fill="#333" stroke="#333" stroke-width="0.11" textLength="55.9" lengthAdjust="spacingAndGlyphs">250mm DIA. UPVC (HEAVY DUTY PIPE)</text>
<line x1="121.0" y1="340.4" x2="127.6" y2="340.4" stroke="#858585" stroke-width="0.35"/>
<text x="59.9" y="346.7" font-size="3.08" font-family='"Liberation Sans",sans-serif' fill="#333" stroke="#333" stroke-width="0.11" textLength="51.1" lengthAdjust="spacingAndGlyphs">32mm x 6.5mm M.S. FLATS WELDED</text>
<text x="59.9" y="349.9" font-size="3.08" font-family='"Liberation Sans",sans-serif' fill="#333" stroke="#333" stroke-width="0.11" textLength="61.0" lengthAdjust="spacingAndGlyphs">TO M.S. PLATE BY 4mm THK. FILLET WELD</text>
<line x1="121.0" y1="348.8" x2="127.6" y2="348.8" stroke="#858585" stroke-width="0.35"/>
<text x="168.0" y="340.5" font-size="3.11" font-family='"Liberation Sans",sans-serif' fill="#333" stroke="#333" stroke-width="0.11" textLength="38.9" lengthAdjust="spacingAndGlyphs">10mm DIA. M.S. BAR TO BE</text>
<text x="168.0" y="343.5" font-size="3.11" font-family='"Liberation Sans",sans-serif' fill="#333" stroke="#333" stroke-width="0.11" textLength="43.5" lengthAdjust="spacingAndGlyphs">FILLET WELDED TO M.S. FLAT</text>
<text x="168.0" y="348.7" font-size="3.29" font-family='"Liberation Sans",sans-serif' fill="#333" stroke="#333" stroke-width="0.12" textLength="79.9" lengthAdjust="spacingAndGlyphs">1/4/26. T10 GALVANIZED STEEL BAR HORIZONTALLY</text>
<text x="168.0" y="352.4" font-size="3.29" font-family='"Liberation Sans",sans-serif' fill="#333" stroke="#333" stroke-width="0.12" textLength="76.0" lengthAdjust="spacingAndGlyphs">FILLET WELD TO FREE ENDS OF VERTICAL BARS</text>
<line x1="159.3" y1="346.8" x2="167.5" y2="346.8" stroke="#858585" stroke-width="0.35"/>
<line x1="162.2" y1="340.0" x2="167.5" y2="340.0" stroke="#858585" stroke-width="0.35"/>
<text x="179.0" y="291.3" font-size="3.48" font-family='"Liberation Serif",serif' fill="#333" stroke="#333" stroke-width="0.12" textLength="19.8" lengthAdjust="spacingAndGlyphs">75mm x 10mm</text>
<text x="179.0" y="294.7" font-size="3.48" font-family='"Liberation Serif",serif' fill="#333" stroke="#333" stroke-width="0.12" textLength="14.8" lengthAdjust="spacingAndGlyphs">M.S. FLAT</text>
<line x1="178.5" y1="288.5" x2="173.5" y2="288.5" stroke="#858585" stroke-width="0.35"/>
<line x1="173.5" y1="286.8" x2="173.5" y2="288.5" stroke="#858585" stroke-width="0.35"/>
<text x="176.2" y="298.5" font-size="2.71" font-family='"Liberation Sans",sans-serif' fill="#333" stroke="#333" stroke-width="0.09" textLength="17.7" lengthAdjust="spacingAndGlyphs">TOP SECTION</text>
<text x="176.2" y="301.6" font-size="2.71" font-family='"Liberation Sans",sans-serif' fill="#333" stroke="#333" stroke-width="0.09" textLength="18.4" lengthAdjust="spacingAndGlyphs">OF UPVC PIPE</text>
<text x="176.2" y="304.7" font-size="2.71" font-family='"Liberation Sans",sans-serif' fill="#333" stroke="#333" stroke-width="0.09" textLength="14.0" lengthAdjust="spacingAndGlyphs">TO BE CUT</text>
<text x="176.2" y="307.8" font-size="2.71" font-family='"Liberation Sans",sans-serif' fill="#333" stroke="#333" stroke-width="0.09" textLength="14.1" lengthAdjust="spacingAndGlyphs">(REFER TO</text>
<text x="176.2" y="310.9" font-size="2.71" font-family='"Liberation Sans",sans-serif' fill="#333" stroke="#333" stroke-width="0.09" textLength="11.8" lengthAdjust="spacingAndGlyphs">NOTE 13)</text>
<line x1="175.5" y1="298.5" x2="171.6" y2="298.5" stroke="#858585" stroke-width="0.35"/>
<text x="150.2" y="363.8" font-size="4.76" font-family='"Liberation Serif",serif' fill="#333" stroke="#333" stroke-width="0.17" text-anchor="middle" textLength="27.2" lengthAdjust="spacingAndGlyphs">SECTION B-B</text>
<line x1="136.5" y1="364.6" x2="163.7" y2="364.6" stroke="#858585" stroke-width="0.4"/>
<path d="M45.9,401.4 L53.6,401.4 L53.6,447.8 L95.6,447.8 L95.6,454.4 L45.9,454.4 Z" fill="url(#dhw)" stroke="#555" stroke-width="0.5"/>
<path d="M62,404.5 Q54.6,406 54.6,416 L54.6,436 Q55,446 66,447.6" fill="none" stroke="#858585" stroke-width="0.5"/>
<line x1="53.6" y1="401.4" x2="94.5" y2="401.4" stroke="#858585" stroke-width="0.5"/>
<circle cx="68.0" cy="415.3" r="4.0" fill="none" stroke="#858585" stroke-width="0.5"/>
<circle cx="68.0" cy="415.3" r="2.4" fill="none" stroke="#858585" stroke-width="0.4"/>
<line x1="56.0" y1="415.3" x2="80.0" y2="415.3" stroke="#858585" stroke-width="0.3" stroke-dasharray="1.5,0.7"/>
<line x1="68.0" y1="404.5" x2="68.0" y2="423.0" stroke="#858585" stroke-width="0.3" stroke-dasharray="1.5,0.7"/>
<line x1="80.1" y1="402.5" x2="80.1" y2="447.8" stroke="#858585" stroke-width="0.35" stroke-dasharray="1.2,0.6"/>
<line x1="81.3" y1="402.5" x2="81.3" y2="447.8" stroke="#858585" stroke-width="0.3"/>
<rect x="84.5" y="402.5" width="6.7" height="45.3" fill="rgba(0,0,0,0.10)"/>
<line x1="84.5" y1="403.3" x2="91.2" y2="403.3" stroke="#a9a9a9" stroke-width="0.4"/>
<line x1="84.5" y1="405.0" x2="91.2" y2="405.0" stroke="#a9a9a9" stroke-width="0.4"/>
<line x1="84.5" y1="406.7" x2="91.2" y2="406.7" stroke="#a9a9a9" stroke-width="0.4"/>
<line x1="84.5" y1="408.4" x2="91.2" y2="408.4" stroke="#a9a9a9" stroke-width="0.4"/>
<line x1="84.5" y1="410.1" x2="91.2" y2="410.1" stroke="#a9a9a9" stroke-width="0.4"/>
<line x1="84.5" y1="411.8" x2="91.2" y2="411.8" stroke="#a9a9a9" stroke-width="0.4"/>
<line x1="84.5" y1="413.5" x2="91.2" y2="413.5" stroke="#a9a9a9" stroke-width="0.4"/>
<line x1="84.5" y1="415.2" x2="91.2" y2="415.2" stroke="#a9a9a9" stroke-width="0.4"/>
<line x1="84.5" y1="416.9" x2="91.2" y2="416.9" stroke="#a9a9a9" stroke-width="0.4"/>
<line x1="84.5" y1="418.6" x2="91.2" y2="418.6" stroke="#a9a9a9" stroke-width="0.4"/>
<line x1="84.5" y1="420.3" x2="91.2" y2="420.3" stroke="#a9a9a9" stroke-width="0.4"/>
<line x1="84.5" y1="422.0" x2="91.2" y2="422.0" stroke="#a9a9a9" stroke-width="0.4"/>
<line x1="84.5" y1="423.7" x2="91.2" y2="423.7" stroke="#a9a9a9" stroke-width="0.4"/>
<line x1="84.5" y1="425.4" x2="91.2" y2="425.4" stroke="#a9a9a9" stroke-width="0.4"/>
<line x1="84.5" y1="427.1" x2="91.2" y2="427.1" stroke="#a9a9a9" stroke-width="0.4"/>
<line x1="84.5" y1="428.8" x2="91.2" y2="428.8" stroke="#a9a9a9" stroke-width="0.4"/>
<line x1="84.5" y1="430.5" x2="91.2" y2="430.5" stroke="#a9a9a9" stroke-width="0.4"/>
<line x1="84.5" y1="432.2" x2="91.2" y2="432.2" stroke="#a9a9a9" stroke-width="0.4"/>
<line x1="84.5" y1="433.9" x2="91.2" y2="433.9" stroke="#a9a9a9" stroke-width="0.4"/>
<line x1="84.5" y1="435.6" x2="91.2" y2="435.6" stroke="#a9a9a9" stroke-width="0.4"/>
<line x1="84.5" y1="437.3" x2="91.2" y2="437.3" stroke="#a9a9a9" stroke-width="0.4"/>
<line x1="84.5" y1="439.0" x2="91.2" y2="439.0" stroke="#a9a9a9" stroke-width="0.4"/>
<line x1="84.5" y1="440.7" x2="91.2" y2="440.7" stroke="#a9a9a9" stroke-width="0.4"/>
<line x1="84.5" y1="442.4" x2="91.2" y2="442.4" stroke="#a9a9a9" stroke-width="0.4"/>
<line x1="84.5" y1="444.1" x2="91.2" y2="444.1" stroke="#a9a9a9" stroke-width="0.4"/>
<line x1="84.5" y1="445.8" x2="91.2" y2="445.8" stroke="#a9a9a9" stroke-width="0.4"/>
<line x1="84.5" y1="447.5" x2="91.2" y2="447.5" stroke="#a9a9a9" stroke-width="0.4"/>
<line x1="84.5" y1="401.4" x2="84.5" y2="447.8" stroke="#858585" stroke-width="0.4"/>
<line x1="91.2" y1="401.4" x2="91.2" y2="447.8" stroke="#858585" stroke-width="0.4"/>
<line x1="92.3" y1="401.4" x2="92.3" y2="447.8" stroke="#858585" stroke-width="0.5"/>
<line x1="94.5" y1="401.4" x2="94.5" y2="447.8" stroke="#858585" stroke-width="0.5"/>
<line x1="94.5" y1="401.4" x2="112.3" y2="394.8" stroke="#858585" stroke-width="0.45"/>
<line x1="112.3" y1="394.8" x2="138.6" y2="394.8" stroke="#858585" stroke-width="0.5"/>
<line x1="129.8" y1="394.8" x2="129.8" y2="424.6" stroke="#858585" stroke-width="0.5"/>
<path d="M129.8,424.6 L127.5,427.5 L131.8,429.6 L129.8,431.3" fill="none" stroke="#858585" stroke-width="0.4"/>
<line x1="129.8" y1="431.3" x2="129.8" y2="447.8" stroke="#858585" stroke-width="0.5"/>
<line x1="137.5" y1="394.8" x2="137.5" y2="447.8" stroke="#858585" stroke-width="0.4"/>
<line x1="136.0" y1="394.8" x2="139.0" y2="394.8" stroke="#858585" stroke-width="0.4"/>
<line x1="136.0" y1="447.8" x2="139.0" y2="447.8" stroke="#858585" stroke-width="0.4"/>
<text x="136.9" y="423.0" font-size="3.0" font-family='"Liberation Sans",sans-serif' fill="#444" stroke="#444" stroke-width="0.11" text-anchor="middle" transform="rotate(-90 136.9 423.0)">2</text>
<line x1="95.6" y1="447.8" x2="138.6" y2="447.8" stroke="#858585" stroke-width="0.5"/>
<line x1="41.5" y1="400.0" x2="41.5" y2="419.0" stroke="#858585" stroke-width="0.35"/>
<line x1="40.3" y1="401.4" x2="42.7" y2="401.4" stroke="#858585" stroke-width="0.35"/>
<line x1="40.3" y1="409.2" x2="42.7" y2="409.2" stroke="#858585" stroke-width="0.35"/>
<line x1="40.3" y1="416.9" x2="42.7" y2="416.9" stroke="#858585" stroke-width="0.35"/>
<text x="41.3" y="406.0" font-size="2.5" font-family='"Liberation Sans",sans-serif' fill="#444" stroke="#444" stroke-width="0.09" text-anchor="middle">8</text>
<text x="41.3" y="413.7" font-size="2.5" font-family='"Liberation Sans",sans-serif' fill="#444" stroke="#444" stroke-width="0.09" text-anchor="middle">6</text>
<text x="49.5" y="400.2" font-size="2.5" font-family='"Liberation Sans",sans-serif' fill="#444" stroke="#444" stroke-width="0.09" text-anchor="middle">16</text>
<text x="72.4" y="408.4" font-size="2.5" font-family='"Liberation Sans",sans-serif' fill="#444" stroke="#444" stroke-width="0.09" text-anchor="middle">8 16</text>
<text x="72.4" y="433.6" font-size="2.5" font-family='"Liberation Sans",sans-serif' fill="#444" stroke="#444" stroke-width="0.09" text-anchor="middle">8 16</text>
<text x="75.7" y="391.6" font-size="3.35" font-family='"Liberation Sans",sans-serif' fill="#333" stroke="#333" stroke-width="0.12" textLength="26.0" lengthAdjust="spacingAndGlyphs">12mm DIA. HOLE</text>
<text x="75.7" y="395.3" font-size="3.35" font-family='"Liberation Sans",sans-serif' fill="#333" stroke="#333" stroke-width="0.12" textLength="27.6" lengthAdjust="spacingAndGlyphs">THROUGH HINGE</text>
<text x="75.7" y="398.9" font-size="3.35" font-family='"Liberation Sans",sans-serif' fill="#333" stroke="#333" stroke-width="0.12" textLength="10.1" lengthAdjust="spacingAndGlyphs">PLATE</text>
<line x1="75.0" y1="391.4" x2="69.2" y2="391.4" stroke="#858585" stroke-width="0.35"/>
<line x1="69.2" y1="391.4" x2="69.2" y2="410.0" stroke="#858585" stroke-width="0.35"/>
<text x="103.3" y="402.0" font-size="3.3" font-family='"Liberation Sans",sans-serif' fill="#333" stroke="#333" stroke-width="0.12" textLength="19.9" lengthAdjust="spacingAndGlyphs">65mm X 6mm</text>
<text x="103.3" y="405.9" font-size="3.3" font-family='"Liberation Sans",sans-serif' fill="#333" stroke="#333" stroke-width="0.12" textLength="15.0" lengthAdjust="spacingAndGlyphs">M.S. FLAT</text>
<line x1="102.5" y1="401.8" x2="91.5" y2="403.6" stroke="#858585" stroke-width="0.35"/>
<text x="108.8" y="453.1" font-size="3.69" font-family='"Liberation Serif",serif' fill="#333" stroke="#333" stroke-width="0.13" textLength="21.0" lengthAdjust="spacingAndGlyphs">75mm x 75mm</text>
<text x="108.8" y="456.8" font-size="3.69" font-family='"Liberation Serif",serif' fill="#333" stroke="#333" stroke-width="0.13" textLength="15.8" lengthAdjust="spacingAndGlyphs">M.S. FLAT</text>
<line x1="104.0" y1="447.8" x2="104.0" y2="452.5" stroke="#858585" stroke-width="0.35"/>
<line x1="104.0" y1="452.5" x2="108.0" y2="452.5" stroke="#858585" stroke-width="0.35"/>
<text x="32.2" y="463.4" font-size="3.73" font-family='"Liberation Serif",serif' fill="#333" stroke="#333" stroke-width="0.13" textLength="19.2" lengthAdjust="spacingAndGlyphs">M.S. ANGLE</text>
<text x="32.2" y="467.4" font-size="3.74" font-family='"Liberation Serif",serif' fill="#333" stroke="#333" stroke-width="0.13" textLength="12.0" lengthAdjust="spacingAndGlyphs">FRAME</text>
<line x1="47.0" y1="454.4" x2="47.0" y2="461.0" stroke="#858585" stroke-width="0.35"/>
<text x="62.5" y="460.7" font-size="3.36" font-family='"Liberation Sans",sans-serif' fill="#333" stroke="#333" stroke-width="0.12" textLength="35.6" lengthAdjust="spacingAndGlyphs">60mm x 6mm THK. M.S.</text>
<text x="62.5" y="464.2" font-size="3.36" font-family='"Liberation Sans",sans-serif' fill="#333" stroke="#333" stroke-width="0.12" textLength="30.6" lengthAdjust="spacingAndGlyphs">HINGE PLATE WITH</text>
<text x="62.5" y="467.6" font-size="3.36" font-family='"Liberation Sans",sans-serif' fill="#333" stroke="#333" stroke-width="0.12" textLength="41.9" lengthAdjust="spacingAndGlyphs">6mm THK. FILLET WELDED</text>
<text x="62.5" y="471.1" font-size="3.36" font-family='"Liberation Sans",sans-serif' fill="#333" stroke="#333" stroke-width="0.12" textLength="40.1" lengthAdjust="spacingAndGlyphs">ALL ROUND TO M.S. FLAT</text>
<line x1="59.3" y1="437.8" x2="59.3" y2="460.5" stroke="#858585" stroke-width="0.35"/>
<line x1="59.3" y1="460.5" x2="62.0" y2="460.5" stroke="#858585" stroke-width="0.35"/>
<text x="71.6" y="476.6" font-size="6.08" font-family='"Liberation Serif",serif' fill="#333" stroke="#333" stroke-width="0.21" text-anchor="middle" textLength="34.7" lengthAdjust="spacingAndGlyphs">SECTION C-C</text>
<line x1="54.3" y1="477.5" x2="89.0" y2="477.5" stroke="#858585" stroke-width="0.45"/>
<path d="M165.5,397 L173.2,397 L173.2,441.2 L215.1,441.2 L215.1,448.9 L165.5,448.9 Z" fill="url(#dhw)" stroke="#555" stroke-width="0.5"/>
<path d="M173.2,397 L200.8,397 L200.8,441.2 L185,441.2 Q174,440 173.2,425" fill="none" stroke="#858585" stroke-width="0.5"/>
<circle cx="188.6" cy="409.2" r="4.4" fill="none" stroke="#858585" stroke-width="0.5"/>
<circle cx="188.6" cy="409.2" r="2.2" fill="none" stroke="#858585" stroke-width="0.35"/>
<line x1="182.0" y1="409.2" x2="196.0" y2="409.2" stroke="#858585" stroke-width="0.3" stroke-dasharray="1.2,0.6"/>
<line x1="188.6" y1="402.5" x2="188.6" y2="416.0" stroke="#858585" stroke-width="0.3" stroke-dasharray="1.2,0.6"/>
<line x1="200.8" y1="397.0" x2="200.8" y2="441.2" stroke="#858585" stroke-width="0.5"/>
<line x1="206.3" y1="397.0" x2="206.3" y2="441.2" stroke="#858585" stroke-width="0.5"/>
<rect x="206.3" y="397.0" width="4.4" height="44.2" fill="rgba(0,0,0,0.08)"/>
<line x1="206.3" y1="398.0" x2="210.7" y2="398.0" stroke="#a9a9a9" stroke-width="0.4"/>
<line x1="206.3" y1="399.7" x2="210.7" y2="399.7" stroke="#a9a9a9" stroke-width="0.4"/>
<line x1="206.3" y1="401.4" x2="210.7" y2="401.4" stroke="#a9a9a9" stroke-width="0.4"/>
<line x1="206.3" y1="403.1" x2="210.7" y2="403.1" stroke="#a9a9a9" stroke-width="0.4"/>
<line x1="206.3" y1="404.8" x2="210.7" y2="404.8" stroke="#a9a9a9" stroke-width="0.4"/>
<line x1="206.3" y1="406.5" x2="210.7" y2="406.5" stroke="#a9a9a9" stroke-width="0.4"/>
<line x1="206.3" y1="408.2" x2="210.7" y2="408.2" stroke="#a9a9a9" stroke-width="0.4"/>
<line x1="206.3" y1="409.9" x2="210.7" y2="409.9" stroke="#a9a9a9" stroke-width="0.4"/>
<line x1="206.3" y1="411.6" x2="210.7" y2="411.6" stroke="#a9a9a9" stroke-width="0.4"/>
<line x1="206.3" y1="413.3" x2="210.7" y2="413.3" stroke="#a9a9a9" stroke-width="0.4"/>
<line x1="206.3" y1="415.0" x2="210.7" y2="415.0" stroke="#a9a9a9" stroke-width="0.4"/>
<line x1="206.3" y1="416.7" x2="210.7" y2="416.7" stroke="#a9a9a9" stroke-width="0.4"/>
<line x1="206.3" y1="418.4" x2="210.7" y2="418.4" stroke="#a9a9a9" stroke-width="0.4"/>
<line x1="206.3" y1="420.1" x2="210.7" y2="420.1" stroke="#a9a9a9" stroke-width="0.4"/>
<line x1="206.3" y1="421.8" x2="210.7" y2="421.8" stroke="#a9a9a9" stroke-width="0.4"/>
<line x1="206.3" y1="423.5" x2="210.7" y2="423.5" stroke="#a9a9a9" stroke-width="0.4"/>
<line x1="206.3" y1="425.2" x2="210.7" y2="425.2" stroke="#a9a9a9" stroke-width="0.4"/>
<line x1="206.3" y1="426.9" x2="210.7" y2="426.9" stroke="#a9a9a9" stroke-width="0.4"/>
<line x1="206.3" y1="428.6" x2="210.7" y2="428.6" stroke="#a9a9a9" stroke-width="0.4"/>
<line x1="206.3" y1="430.3" x2="210.7" y2="430.3" stroke="#a9a9a9" stroke-width="0.4"/>
<line x1="206.3" y1="432.0" x2="210.7" y2="432.0" stroke="#a9a9a9" stroke-width="0.4"/>
<line x1="206.3" y1="433.7" x2="210.7" y2="433.7" stroke="#a9a9a9" stroke-width="0.4"/>
<line x1="206.3" y1="435.4" x2="210.7" y2="435.4" stroke="#a9a9a9" stroke-width="0.4"/>
<line x1="206.3" y1="437.1" x2="210.7" y2="437.1" stroke="#a9a9a9" stroke-width="0.4"/>
<line x1="206.3" y1="438.8" x2="210.7" y2="438.8" stroke="#a9a9a9" stroke-width="0.4"/>
<line x1="206.3" y1="440.5" x2="210.7" y2="440.5" stroke="#a9a9a9" stroke-width="0.4"/>
<line x1="210.7" y1="397.0" x2="210.7" y2="441.2" stroke="#858585" stroke-width="0.45"/>
<line x1="162.0" y1="397.0" x2="210.7" y2="397.0" stroke="#858585" stroke-width="0.5"/>
<line x1="210.7" y1="397.0" x2="217.0" y2="390.4" stroke="#858585" stroke-width="0.45"/>
<line x1="217.0" y1="390.4" x2="252.6" y2="390.4" stroke="#858585" stroke-width="0.5"/>
<line x1="252.6" y1="390.4" x2="252.6" y2="417.0" stroke="#858585" stroke-width="0.5"/>
<path d="M252.6,417 L250.3,420 L254.6,422 L252.6,423.6" fill="none" stroke="#858585" stroke-width="0.4"/>
<line x1="252.6" y1="423.6" x2="252.6" y2="450.0" stroke="#858585" stroke-width="0.5"/>
<line x1="215.1" y1="441.2" x2="252.6" y2="441.2" stroke="#858585" stroke-width="0.5"/>
<line x1="162.1" y1="397.0" x2="162.1" y2="448.9" stroke="#858585" stroke-width="0.35"/>
<line x1="160.8" y1="397.0" x2="163.4" y2="397.0" stroke="#858585" stroke-width="0.35"/>
<line x1="160.8" y1="448.9" x2="163.4" y2="448.9" stroke="#858585" stroke-width="0.35"/>
<text x="161.7" y="424.6" font-size="2.75" font-family='"Liberation Sans",sans-serif' fill="#444" stroke="#444" stroke-width="0.10" text-anchor="middle" transform="rotate(-90 161.7 424.6)">75</text>
<line x1="165.5" y1="451.1" x2="215.1" y2="451.1" stroke="#858585" stroke-width="0.35"/>
<line x1="165.5" y1="449.5" x2="165.5" y2="452.5" stroke="#858585" stroke-width="0.35"/>
<line x1="215.1" y1="449.5" x2="215.1" y2="452.5" stroke="#858585" stroke-width="0.35"/>
<text x="189.7" y="450.5" font-size="2.75" font-family='"Liberation Sans",sans-serif' fill="#444" stroke="#444" stroke-width="0.10" text-anchor="middle">80</text>
<line x1="206.3" y1="374.3" x2="226.2" y2="374.3" stroke="#858585" stroke-width="0.35"/>
<line x1="206.3" y1="372.8" x2="206.3" y2="375.8" stroke="#858585" stroke-width="0.35"/>
<line x1="226.2" y1="372.8" x2="226.2" y2="375.8" stroke="#858585" stroke-width="0.35"/>
<text x="216.2" y="373.6" font-size="2.75" font-family='"Liberation Sans",sans-serif' fill="#444" stroke="#444" stroke-width="0.10" text-anchor="middle">25</text>
<line x1="212.9" y1="399.0" x2="212.9" y2="411.0" stroke="#858585" stroke-width="0.35"/>
<text x="214.0" y="404.0" font-size="2.5" font-family='"Liberation Sans",sans-serif' fill="#444" stroke="#444" stroke-width="0.09">8</text>
<text x="214.0" y="410.0" font-size="2.5" font-family='"Liberation Sans",sans-serif' fill="#444" stroke="#444" stroke-width="0.09">6</text>
<line x1="238.3" y1="392.0" x2="238.3" y2="397.0" stroke="#858585" stroke-width="0.35"/>
<text x="238.3" y="395.4" font-size="2.5" font-family='"Liberation Sans",sans-serif' fill="#444" stroke="#444" stroke-width="0.09" text-anchor="middle">6</text>
<text x="154.9" y="386.5" font-size="3.27" font-family='"Liberation Sans",sans-serif' fill="#333" stroke="#333" stroke-width="0.11" textLength="28.5" lengthAdjust="spacingAndGlyphs">NUT OF 10mm DIA.</text>
<text x="154.9" y="389.9" font-size="3.27" font-family='"Liberation Sans",sans-serif' fill="#333" stroke="#333" stroke-width="0.11" textLength="18.3" lengthAdjust="spacingAndGlyphs">BOLT TO BE</text>
<text x="154.9" y="393.4" font-size="3.27" font-family='"Liberation Sans",sans-serif' fill="#333" stroke="#333" stroke-width="0.11" textLength="32.6" lengthAdjust="spacingAndGlyphs">WELDED TO THREAD</text>
<line x1="187.5" y1="387.5" x2="191.0" y2="387.5" stroke="#858585" stroke-width="0.35"/>
<line x1="191.0" y1="387.5" x2="191.0" y2="404.8" stroke="#858585" stroke-width="0.35"/>
<text x="203.0" y="381.7" font-size="3.36" font-family='"Liberation Sans",sans-serif' fill="#333" stroke="#333" stroke-width="0.12" textLength="34.1" lengthAdjust="spacingAndGlyphs">6mm THK. M.S. PLATE</text>
<text x="203.0" y="385.2" font-size="3.36" font-family='"Liberation Sans",sans-serif' fill="#333" stroke="#333" stroke-width="0.12" textLength="38.6" lengthAdjust="spacingAndGlyphs">WELDED TO M.S. ANGLE</text>
<text x="203.0" y="388.7" font-size="3.36" font-family='"Liberation Sans",sans-serif' fill="#333" stroke="#333" stroke-width="0.12" textLength="33.0" lengthAdjust="spacingAndGlyphs">FRAME & M.S. PLATE</text>
<line x1="202.5" y1="386.0" x2="195.5" y2="386.0" stroke="#858585" stroke-width="0.35"/>
<line x1="195.5" y1="386.0" x2="195.5" y2="397.0" stroke="#858585" stroke-width="0.35"/>
<text x="216.2" y="424.3" font-size="3.6" font-family='"Liberation Serif",serif' fill="#333" stroke="#333" stroke-width="0.13" textLength="18.8" lengthAdjust="spacingAndGlyphs">65mm x 6mm</text>
<text x="216.2" y="427.7" font-size="3.6" font-family='"Liberation Serif",serif' fill="#333" stroke="#333" stroke-width="0.13" textLength="15.4" lengthAdjust="spacingAndGlyphs">M.S. FLAT</text>
<line x1="215.5" y1="424.5" x2="210.7" y2="424.5" stroke="#858585" stroke-width="0.35"/>
<text x="219.5" y="435.2" font-size="3.69" font-family='"Liberation Serif",serif' fill="#333" stroke="#333" stroke-width="0.13" textLength="21.0" lengthAdjust="spacingAndGlyphs">75mm x 10mm</text>
<text x="219.5" y="438.5" font-size="3.69" font-family='"Liberation Serif",serif' fill="#333" stroke="#333" stroke-width="0.13" textLength="15.8" lengthAdjust="spacingAndGlyphs">M.S. FLAT</text>
<line x1="215.0" y1="434.5" x2="218.8" y2="434.5" stroke="#858585" stroke-width="0.35"/>
<line x1="215.0" y1="434.5" x2="215.0" y2="441.2" stroke="#858585" stroke-width="0.35"/>
<text x="150.0" y="460.2" font-size="3.78" font-family='"Liberation Serif",serif' fill="#333" stroke="#333" stroke-width="0.13" textLength="28.7" lengthAdjust="spacingAndGlyphs">5mm THK. FILLET</text>
<text x="150.0" y="463.5" font-size="3.78" font-family='"Liberation Serif",serif' fill="#333" stroke="#333" stroke-width="0.13" textLength="30.9" lengthAdjust="spacingAndGlyphs">WELD ALL ROUND</text>
<line x1="181.0" y1="459.5" x2="187.0" y2="459.5" stroke="#858585" stroke-width="0.35"/>
<line x1="187.0" y1="459.5" x2="187.0" y2="448.9" stroke="#858585" stroke-width="0.35"/>
<text x="212.9" y="458.6" font-size="3.7" font-family='"Liberation Serif",serif' fill="#333" stroke="#333" stroke-width="0.13" textLength="31.6" lengthAdjust="spacingAndGlyphs">65mm x 25mm x 3mm</text>
<text x="212.9" y="462.1" font-size="3.7" font-family='"Liberation Serif",serif' fill="#333" stroke="#333" stroke-width="0.13" textLength="42.0" lengthAdjust="spacingAndGlyphs">THK. M.S. PLATE WELDED</text>
<text x="212.9" y="465.6" font-size="3.7" font-family='"Liberation Serif",serif' fill="#333" stroke="#333" stroke-width="0.13" textLength="37.1" lengthAdjust="spacingAndGlyphs">TO M.S. ANGLE FRAME</text>
<line x1="212.3" y1="457.8" x2="204.0" y2="448.0" stroke="#858585" stroke-width="0.35"/>
<text x="193.4" y="468.2" font-size="5.97" font-family='"Liberation Serif",serif' fill="#333" stroke="#333" stroke-width="0.21" text-anchor="middle" textLength="34.7" lengthAdjust="spacingAndGlyphs">SECTION D-D</text>
<line x1="176.0" y1="469.1" x2="210.7" y2="469.1" stroke="#858585" stroke-width="0.45"/>
<line x1="395.2" y1="63.4" x2="470.0" y2="63.4" stroke="#858585" stroke-width="0.4"/>
<line x1="395.2" y1="61.6" x2="395.2" y2="65.2" stroke="#858585" stroke-width="0.4"/>
<line x1="414.5" y1="61.6" x2="414.5" y2="65.2" stroke="#858585" stroke-width="0.4"/>
<line x1="452.5" y1="61.6" x2="452.5" y2="65.2" stroke="#858585" stroke-width="0.4"/>
<line x1="467.9" y1="61.6" x2="467.9" y2="65.2" stroke="#858585" stroke-width="0.4"/>
<text x="404.2" y="62.0" font-size="2.88" font-family='"Liberation Sans",sans-serif' fill="#444" stroke="#444" stroke-width="0.10" text-anchor="middle">175</text>
<text x="433.8" y="62.0" font-size="2.88" font-family='"Liberation Sans",sans-serif' fill="#444" stroke="#444" stroke-width="0.10" text-anchor="middle">250</text>
<text x="460.2" y="62.0" font-size="2.88" font-family='"Liberation Sans",sans-serif' fill="#444" stroke="#444" stroke-width="0.10" text-anchor="middle">150</text>
<line x1="388.0" y1="69.8" x2="410.0" y2="69.8" stroke="#858585" stroke-width="0.35"/>
<text x="393.3" y="69.2" font-size="2.62" font-family='"Liberation Sans",sans-serif' fill="#444" stroke="#444" stroke-width="0.09" text-anchor="middle">40</text>
<text x="401.6" y="69.2" font-size="2.62" font-family='"Liberation Sans",sans-serif' fill="#444" stroke="#444" stroke-width="0.09" text-anchor="middle">50</text>
<text x="339.9" y="64.1" font-size="3.13" font-family='"Liberation Sans",sans-serif' fill="#333" stroke="#333" stroke-width="0.11" textLength="29.6" lengthAdjust="spacingAndGlyphs">6mm THK CHEQUER</text>
<text x="339.9" y="67.4" font-size="3.13" font-family='"Liberation Sans",sans-serif' fill="#333" stroke="#333" stroke-width="0.11" textLength="18.0" lengthAdjust="spacingAndGlyphs">PLATE WITH</text>
<text x="339.9" y="70.6" font-size="3.13" font-family='"Liberation Sans",sans-serif' fill="#333" stroke="#333" stroke-width="0.11" textLength="29.5" lengthAdjust="spacingAndGlyphs">ANTI-SKID COATING</text>
<text x="339.9" y="73.8" font-size="3.13" font-family='"Liberation Sans",sans-serif' fill="#333" stroke="#333" stroke-width="0.11" textLength="40.6" lengthAdjust="spacingAndGlyphs">ON TOP(REFER TO NOTE 4)</text>
<line x1="370.2" y1="67.2" x2="395.9" y2="76.9" stroke="#858585" stroke-width="0.35"/>
<text x="426.0" y="69.7" font-size="3.38" font-family='"Liberation Sans",sans-serif' fill="#333" stroke="#333" stroke-width="0.12" textLength="60.7" lengthAdjust="spacingAndGlyphs">6mm THK CHEQUER PLATE @ 2 SIDES</text>
<line x1="426.0" y1="68.5" x2="403.0" y2="77.0" stroke="#858585" stroke-width="0.35"/>
<line x1="356.0" y1="77.1" x2="395.2" y2="77.1" stroke="#858585" stroke-width="0.5"/>
<line x1="363.7" y1="77.1" x2="363.7" y2="111.6" stroke="#858585" stroke-width="0.4"/>
<line x1="362.4" y1="77.1" x2="365.0" y2="77.1" stroke="#858585" stroke-width="0.4"/>
<line x1="362.4" y1="111.6" x2="365.0" y2="111.6" stroke="#858585" stroke-width="0.4"/>
<text x="363.4" y="94.3" font-size="2.75" font-family='"Liberation Sans",sans-serif' fill="#444" stroke="#444" stroke-width="0.10" text-anchor="middle" transform="rotate(-90 363.4 94.3)">600</text>
<line x1="385.6" y1="77.1" x2="385.6" y2="121.2" stroke="#858585" stroke-width="0.4"/>
<line x1="384.3" y1="77.1" x2="386.9" y2="77.1" stroke="#858585" stroke-width="0.4"/>
<line x1="384.3" y1="93.6" x2="386.9" y2="93.6" stroke="#858585" stroke-width="0.4"/>
<line x1="384.3" y1="102.6" x2="386.9" y2="102.6" stroke="#858585" stroke-width="0.4"/>
<line x1="384.3" y1="121.2" x2="386.9" y2="121.2" stroke="#858585" stroke-width="0.4"/>
<text x="385.3" y="84.0" font-size="2.62" font-family='"Liberation Sans",sans-serif' fill="#444" stroke="#444" stroke-width="0.09" text-anchor="middle" transform="rotate(-90 385.3 84.0)">50</text>
<text x="385.3" y="110.0" font-size="2.62" font-family='"Liberation Sans",sans-serif' fill="#444" stroke="#444" stroke-width="0.09" text-anchor="middle" transform="rotate(-90 385.3 110.0)">200</text>
<line x1="392.0" y1="77.1" x2="392.0" y2="90.5" stroke="#858585" stroke-width="0.35"/>
<text x="391.7" y="84.0" font-size="2.62" font-family='"Liberation Sans",sans-serif' fill="#444" stroke="#444" stroke-width="0.09" text-anchor="middle" transform="rotate(-90 391.7 84.0)">25</text>
<polyline points="341.2,97.4 345.7,91.7 345.7,97.4" fill="none" stroke="#858585" stroke-width="0.4"/>
<line x1="336.7" y1="99.4" x2="349.6" y2="99.4" stroke="#858585" stroke-width="0.35"/>
<text x="342.0" y="98.6" font-size="2.62" font-family='"Liberation Sans",sans-serif' fill="#444" stroke="#444" stroke-width="0.09" text-anchor="middle">50</text>
<line x1="350.2" y1="88.5" x2="350.2" y2="97.4" stroke="#858585" stroke-width="0.35"/>
<line x1="352.2" y1="98.7" x2="395.0" y2="103.0" stroke="#858585" stroke-width="0.35"/>
<rect x="395.2" y="76.9" width="5.8" height="12.8" fill="rgba(0,0,0,0.18)"/>
<rect x="395.2" y="76.9" width="5.8" height="12.8" fill="url(#xh)"/>
<rect x="395.2" y="76.9" width="5.8" height="12.8" fill="none" stroke="#858585" stroke-width="0.45"/>
<rect x="402.9" y="76.9" width="6.5" height="12.8" fill="rgba(0,0,0,0.18)"/>
<rect x="402.9" y="76.9" width="6.5" height="12.8" fill="url(#xh)"/>
<rect x="402.9" y="76.9" width="6.5" height="12.8" fill="none" stroke="#858585" stroke-width="0.45"/>
<line x1="395.2" y1="89.7" x2="395.2" y2="152.5" stroke="#858585" stroke-width="0.5"/>
<line x1="401.0" y1="89.7" x2="401.0" y2="147.0" stroke="#858585" stroke-width="0.5"/>
<line x1="402.3" y1="89.7" x2="402.3" y2="147.0" stroke="#858585" stroke-width="0.5"/>
<line x1="409.4" y1="77.5" x2="413.2" y2="92.3" stroke="#858585" stroke-width="0.4"/>
<line x1="409.4" y1="89.7" x2="409.4" y2="92.0" stroke="#858585" stroke-width="0.4"/>
<rect x="411.9" y="91.7" width="2.6" height="19.9" fill="url(#dh)"/>
<rect x="411.9" y="91.7" width="2.6" height="19.9" fill="none" stroke="#858585" stroke-width="0.4"/>
<line x1="397.0" y1="89.7" x2="397.0" y2="147.0" stroke="#b6b6b6" stroke-width="0.3"/>
<line x1="399.0" y1="89.7" x2="399.0" y2="147.0" stroke="#b6b6b6" stroke-width="0.3"/>
<line x1="406.1" y1="96.2" x2="472.0" y2="96.2" stroke="#858585" stroke-width="0.45"/>
<rect x="419.7" y="97.4" width="2.5" height="12.9" fill="url(#dh)"/>
<rect x="419.7" y="97.4" width="2.5" height="12.9" fill="none" stroke="#858585" stroke-width="0.4"/>
<line x1="422.2" y1="105.8" x2="458.0" y2="105.8" stroke="#858585" stroke-width="0.45"/>
<rect x="439.4" y="105.6" width="1.6" height="1.6" fill="#111"/>
<line x1="410.0" y1="110.3" x2="456.3" y2="110.3" stroke="#858585" stroke-width="0.45"/>
<line x1="440.2" y1="96.2" x2="440.2" y2="105.8" stroke="#858585" stroke-width="0.35"/>
<line x1="446.0" y1="98.5" x2="446.0" y2="109.0" stroke="#858585" stroke-width="0.35"/>
<text x="446.6" y="104.5" font-size="2.5" font-family='"Liberation Sans",sans-serif' fill="#444" stroke="#444" stroke-width="0.09">8</text>
<line x1="430.6" y1="77.1" x2="430.6" y2="91.5" stroke="#858585" stroke-width="0.35"/>
<line x1="429.3" y1="77.1" x2="431.9" y2="77.1" stroke="#858585" stroke-width="0.35"/>
<line x1="429.3" y1="91.5" x2="431.9" y2="91.5" stroke="#858585" stroke-width="0.35"/>
<text x="430.3" y="84.5" font-size="2.62" font-family='"Liberation Sans",sans-serif' fill="#444" stroke="#444" stroke-width="0.09" text-anchor="middle" transform="rotate(-90 430.3 84.5)">50</text>
<text x="430.3" y="96.2" font-size="2.62" font-family='"Liberation Sans",sans-serif' fill="#444" stroke="#444" stroke-width="0.09" text-anchor="middle">50</text>
<rect x="457.6" y="98.1" width="2.6" height="13.5" fill="url(#dh)"/>
<rect x="457.6" y="98.1" width="2.6" height="13.5" fill="none" stroke="#858585" stroke-width="0.4"/>
<text x="447.3" y="74.2" font-size="3.2" font-family='"Liberation Sans",sans-serif' fill="#333" stroke="#333" stroke-width="0.11" textLength="54.0" lengthAdjust="spacingAndGlyphs">10 NOS. OF T10 GALVANIZED STEEL</text>
<text x="447.3" y="77.4" font-size="3.2" font-family='"Liberation Sans",sans-serif' fill="#333" stroke="#333" stroke-width="0.11" textLength="26.4" lengthAdjust="spacingAndGlyphs">BAR AT 20mm C/C</text>
<text x="447.3" y="80.6" font-size="3.2" font-family='"Liberation Sans",sans-serif' fill="#333" stroke="#333" stroke-width="0.11" textLength="31.4" lengthAdjust="spacingAndGlyphs">(REFER TO NOTE 12)</text>
<line x1="447.3" y1="78.8" x2="410.0" y2="82.7" stroke="#858585" stroke-width="0.35"/>
<text x="449.6" y="86.8" font-size="3.1" font-family='"Liberation Sans",sans-serif' fill="#333" stroke="#333" stroke-width="0.11" textLength="57.6" lengthAdjust="spacingAndGlyphs">1 NOS. OF T10 GALVANIZED STEEL BAR</text>
<text x="449.6" y="90.3" font-size="3.1" font-family='"Liberation Sans",sans-serif' fill="#333" stroke="#333" stroke-width="0.11" textLength="70.7" lengthAdjust="spacingAndGlyphs">HORIZONTALLY FILLET WELD TO FREE ENDS OF</text>
<text x="449.6" y="93.7" font-size="3.1" font-family='"Liberation Sans",sans-serif' fill="#333" stroke="#333" stroke-width="0.11" textLength="23.6" lengthAdjust="spacingAndGlyphs">VERTICAL BARS</text>
<line x1="449.9" y1="89.1" x2="422.9" y2="105.8" stroke="#858585" stroke-width="0.35"/>
<text x="468.0" y="96.6" font-size="3.19" font-family='"Liberation Sans",sans-serif' fill="#333" stroke="#333" stroke-width="0.11" textLength="39.9" lengthAdjust="spacingAndGlyphs">10mm DIA. M.S. BAR TO BE</text>
<text x="468.0" y="99.6" font-size="3.19" font-family='"Liberation Sans",sans-serif' fill="#333" stroke="#333" stroke-width="0.11" textLength="46.7" lengthAdjust="spacingAndGlyphs">FILLET WELDED TO M.S. FLATS</text>
<text x="428.7" y="119.1" font-size="2.98" font-family='"Liberation Sans",sans-serif' fill="#333" stroke="#333" stroke-width="0.10" textLength="19.9" lengthAdjust="spacingAndGlyphs">30mm x 6.5mm</text>
<text x="428.7" y="122.3" font-size="2.98" font-family='"Liberation Sans",sans-serif' fill="#333" stroke="#333" stroke-width="0.10" textLength="15.5" lengthAdjust="spacingAndGlyphs">M.S. FLATS</text>
<line x1="449.0" y1="121.2" x2="451.2" y2="121.2" stroke="#858585" stroke-width="0.35"/>
<line x1="451.2" y1="121.2" x2="451.2" y2="106.5" stroke="#858585" stroke-width="0.35"/>
<text x="413.3" y="127.3" font-size="3.53" font-family='"Liberation Sans",sans-serif' fill="#333" stroke="#333" stroke-width="0.12" textLength="5.9" lengthAdjust="spacingAndGlyphs">T16</text>
<line x1="406.7" y1="126.5" x2="412.5" y2="126.5" stroke="#858585" stroke-width="0.35"/>
<text x="414.8" y="134.8" font-size="2.83" font-family='"Liberation Sans",sans-serif' fill="#333" stroke="#333" stroke-width="0.10" textLength="22.1" lengthAdjust="spacingAndGlyphs">75mm DIA. UPVC</text>
<text x="414.8" y="138.1" font-size="2.83" font-family='"Liberation Sans",sans-serif' fill="#333" stroke="#333" stroke-width="0.10" textLength="26.5" lengthAdjust="spacingAndGlyphs">PIPE (SEE NOTE 20)</text>
<line x1="442.0" y1="134.2" x2="461.1" y2="134.2" stroke="#858585" stroke-width="0.35"/>
<line x1="461.1" y1="124.0" x2="461.1" y2="134.2" stroke="#858585" stroke-width="0.35"/>
<path d="M399.4,115 L399.4,149.5 Q399.4,152.5 402.4,152.5 L454.4,152.5 Q457.4,152.5 457.4,149.5 L457.4,110" fill="none" stroke="#858585" stroke-width="0.5"/>
<path d="M406,111 L406,147.4 L452.3,147.4 L452.3,110" fill="none" stroke="#858585" stroke-width="0.45"/>
<line x1="392.0" y1="147.4" x2="452.3" y2="139.3" stroke="#858585" stroke-width="0.35"/>
<text x="425.8" y="141.4" font-size="2.62" font-family='"Liberation Sans",sans-serif' fill="#444" stroke="#444" stroke-width="0.09" text-anchor="middle">1:10</text>
<text x="387.0" y="144.6" font-size="2.62" font-family='"Liberation Sans",sans-serif' fill="#444" stroke="#444" stroke-width="0.09" text-anchor="middle">1:100</text>
<text x="425.8" y="157.6" font-size="2.74" font-family='"Liberation Sans",sans-serif' fill="#333" stroke="#333" stroke-width="0.10" textLength="11.8" lengthAdjust="spacingAndGlyphs">WSFR B4</text>
<line x1="438.0" y1="156.6" x2="446.5" y2="156.6" stroke="#858585" stroke-width="0.35"/>
<line x1="446.5" y1="152.5" x2="446.5" y2="156.6" stroke="#858585" stroke-width="0.35"/>
<line x1="362.4" y1="111.6" x2="395.2" y2="111.6" stroke="#858585" stroke-width="0.5"/>
<line x1="362.4" y1="112.6" x2="395.2" y2="112.6" stroke="#b6b6b6" stroke-width="0.3"/>
<line x1="364.1" y1="149.0" x2="399.4" y2="149.0" stroke="#858585" stroke-width="0.5"/>
<line x1="364.1" y1="148.0" x2="399.4" y2="148.0" stroke="#b6b6b6" stroke-width="0.3"/>
<path d="M362.4,111.6 C357.5,116 357.5,124 364,130.3 C369.5,134 370.5,145 364.1,149 C358.5,145.5 358,134.5 364,130.3" fill="none" stroke="#858585" stroke-width="0.45"/>
<text x="334.1" y="119.1" font-size="3.11" font-family='"Liberation Sans",sans-serif' fill="#333" stroke="#333" stroke-width="0.11" textLength="20.3" lengthAdjust="spacingAndGlyphs">TOP SECTION</text>
<text x="334.1" y="122.4" font-size="3.11" font-family='"Liberation Sans",sans-serif' fill="#333" stroke="#333" stroke-width="0.11" textLength="13.4" lengthAdjust="spacingAndGlyphs">OF UPVC</text>
<text x="334.1" y="125.7" font-size="3.11" font-family='"Liberation Sans",sans-serif' fill="#333" stroke="#333" stroke-width="0.11" textLength="16.6" lengthAdjust="spacingAndGlyphs">PIPE TO BE</text>
<text x="334.1" y="129.0" font-size="3.11" font-family='"Liberation Sans",sans-serif' fill="#333" stroke="#333" stroke-width="0.11" textLength="23.1" lengthAdjust="spacingAndGlyphs">CUT (REFER TO</text>
<text x="334.1" y="132.3" font-size="3.11" font-family='"Liberation Sans",sans-serif' fill="#333" stroke="#333" stroke-width="0.11" textLength="13.6" lengthAdjust="spacingAndGlyphs">NOTE 13)</text>
<line x1="354.5" y1="118.0" x2="362.0" y2="118.0" stroke="#858585" stroke-width="0.35"/>
<text x="371.7" y="135.6" font-size="3.12" font-family='"Liberation Sans",sans-serif' fill="#333" stroke="#333" stroke-width="0.11" textLength="15.2" lengthAdjust="spacingAndGlyphs">REFER TO</text>
<text x="371.7" y="139.0" font-size="3.12" font-family='"Liberation Sans",sans-serif' fill="#333" stroke="#333" stroke-width="0.11" textLength="12.6" lengthAdjust="spacingAndGlyphs">NOTE 24</text>
<line x1="364.1" y1="150.0" x2="399.4" y2="150.0" stroke="#a9a9a9" stroke-width="0.35"/>
<text x="326.2" y="154.1" font-size="3.41" font-family='"Liberation Serif",serif' fill="#333" stroke="#333" stroke-width="0.12" textLength="26.9" lengthAdjust="spacingAndGlyphs">C12/15 CONCRETE</text>
<line x1="354.0" y1="153.1" x2="376.6" y2="153.1" stroke="#858585" stroke-width="0.35"/>
<line x1="375.9" y1="151.0" x2="375.9" y2="195.5" stroke="#858585" stroke-width="0.5"/>
<line x1="375.9" y1="153.8" x2="470.0" y2="153.8" stroke="#858585" stroke-width="0.45"/>
<line x1="375.9" y1="158.4" x2="470.0" y2="158.4" stroke="#858585" stroke-width="0.45"/>
<line x1="406.0" y1="162.1" x2="452.3" y2="162.1" stroke="#858585" stroke-width="0.35"/>
<line x1="406.0" y1="160.6" x2="406.0" y2="163.6" stroke="#858585" stroke-width="0.35"/>
<line x1="452.3" y1="160.6" x2="452.3" y2="163.6" stroke="#858585" stroke-width="0.35"/>
<text x="398.6" y="161.3" font-size="2.75" font-family='"Liberation Sans",sans-serif' fill="#444" stroke="#444" stroke-width="0.10" text-anchor="middle">100</text>
<text x="429.5" y="161.3" font-size="2.75" font-family='"Liberation Sans",sans-serif' fill="#444" stroke="#444" stroke-width="0.10" text-anchor="middle">200</text>
<text x="459.6" y="161.3" font-size="2.75" font-family='"Liberation Sans",sans-serif' fill="#444" stroke="#444" stroke-width="0.10" text-anchor="middle">150</text>
<text x="356.5" y="171.4" font-size="5.03" font-family='"Liberation Serif",serif' fill="#333" stroke="#333" stroke-width="0.18" text-anchor="middle" textLength="29.0" lengthAdjust="spacingAndGlyphs">SECTION A-A</text>
<line x1="342.0" y1="172.3" x2="371.0" y2="172.3" stroke="#858585" stroke-width="0.45"/>
<line x1="382.1" y1="149.0" x2="382.1" y2="174.5" stroke="#858585" stroke-width="0.35"/>
<line x1="382.1" y1="174.5" x2="391.0" y2="174.5" stroke="#858585" stroke-width="0.35"/>
<text x="392.0" y="175.6" font-size="3.2" font-family='"Liberation Serif",serif' fill="#333" stroke="#333" stroke-width="0.11" textLength="53.0" lengthAdjust="spacingAndGlyphs">250mm DIA. UPVC (HEAVY DUTY) PIPE</text>
<text x="413.3" y="186.0" font-size="3.45" font-family='"Liberation Serif",serif' fill="#333" stroke="#333" stroke-width="0.12" textLength="27.2" lengthAdjust="spacingAndGlyphs">C12/15 CONCRETE</text>
<line x1="375.9" y1="190.2" x2="468.5" y2="190.2" stroke="#858585" stroke-width="0.45"/>
<text x="404.5" y="193.3" font-size="2.88" font-family='"Liberation Serif",serif' fill="#333" stroke="#333" stroke-width="0.10" textLength="35.3" lengthAdjust="spacingAndGlyphs">1000mm KERB FOUNDATION</text>
<line x1="375.9" y1="194.4" x2="468.5" y2="194.4" stroke="#858585" stroke-width="0.45"/>
<polygon points="400.2,176.6 401.8,177.8 399.9,178.1" fill="none" stroke="#a9a9a9" stroke-width="0.3"/>
<polygon points="431.3,178.6 432.9,179.8 431.0,180.1" fill="none" stroke="#a9a9a9" stroke-width="0.3"/>
<polygon points="381.1,183.9 382.7,185.1 380.8,185.4" fill="none" stroke="#a9a9a9" stroke-width="0.3"/>
<polygon points="399.9,187.9 401.5,189.1 399.6,189.4" fill="none" stroke="#a9a9a9" stroke-width="0.3"/>
<circle cx="451.1" cy="174.9" r="0.3" fill="none" stroke="#a9a9a9" stroke-width="0.3"/>
<circle cx="392.8" cy="178.9" r="0.3" fill="none" stroke="#a9a9a9" stroke-width="0.3"/>
<circle cx="424.5" cy="181.5" r="0.3" fill="none" stroke="#a9a9a9" stroke-width="0.3"/>
<circle cx="385.4" cy="182.0" r="0.3" fill="none" stroke="#a9a9a9" stroke-width="0.3"/>
<circle cx="405.6" cy="163.8" r="0.3" fill="none" stroke="#a9a9a9" stroke-width="0.3"/>
<circle cx="420.2" cy="181.0" r="0.3" fill="none" stroke="#a9a9a9" stroke-width="0.3"/>
<polygon points="440.7,186.0 442.3,187.2 440.4,187.5" fill="none" stroke="#a9a9a9" stroke-width="0.3"/>
<circle cx="448.1" cy="174.1" r="0.3" fill="none" stroke="#a9a9a9" stroke-width="0.3"/>
<polygon points="454.7,165.4 456.3,166.6 454.4,166.9" fill="none" stroke="#a9a9a9" stroke-width="0.3"/>
<polygon points="398.4,187.1 400.0,188.3 398.1,188.6" fill="none" stroke="#a9a9a9" stroke-width="0.3"/>
<line x1="468.1" y1="96.2" x2="468.1" y2="200.0" stroke="#858585" stroke-width="0.5"/>
<line x1="513.6" y1="101.1" x2="513.6" y2="164.0" stroke="#858585" stroke-width="0.5"/>
<path d="M513.6,164 L511.4,167 L515.8,169.5 L513.6,172" fill="none" stroke="#858585" stroke-width="0.4"/>
<line x1="513.6" y1="172.0" x2="513.6" y2="195.3" stroke="#858585" stroke-width="0.45"/>
<line x1="468.1" y1="101.1" x2="513.6" y2="101.1" stroke="#b6b6b6" stroke-width="0.35"/>
<line x1="468.1" y1="102.6" x2="513.6" y2="102.6" stroke="#b6b6b6" stroke-width="0.35"/>
<line x1="468.1" y1="104.1" x2="513.6" y2="104.1" stroke="#b6b6b6" stroke-width="0.35"/>
<line x1="468.1" y1="105.6" x2="513.6" y2="105.6" stroke="#b6b6b6" stroke-width="0.35"/>
<line x1="468.1" y1="107.2" x2="513.6" y2="107.2" stroke="#858585" stroke-width="0.45"/>
<rect x="468.1" y="107.2" width="45.5" height="17.2" fill="url(#dh2)"/>
<line x1="468.1" y1="124.4" x2="513.6" y2="124.4" stroke="#858585" stroke-width="0.4"/>
<line x1="468.1" y1="112.5" x2="514.5" y2="124.5" stroke="#858585" stroke-width="0.35"/>
<ellipse cx="473.3" cy="126.5" rx="3.9" ry="2.4" fill="none" stroke="#888" stroke-width="0.4"/>
<ellipse cx="482.2" cy="126.5" rx="4.1" ry="2.6" fill="none" stroke="#888" stroke-width="0.4"/>
<ellipse cx="491.3" cy="126.5" rx="4.1" ry="2.6" fill="none" stroke="#888" stroke-width="0.4"/>
<ellipse cx="499.3" cy="126.5" rx="3.0" ry="2.3" fill="none" stroke="#888" stroke-width="0.4"/>
<ellipse cx="507.5" cy="126.5" rx="4.4" ry="2.4" fill="none" stroke="#888" stroke-width="0.4"/>
<ellipse cx="476.4" cy="131.5" rx="4.3" ry="2.1" fill="none" stroke="#888" stroke-width="0.4"/>
<ellipse cx="485.3" cy="131.5" rx="3.7" ry="2.1" fill="none" stroke="#888" stroke-width="0.4"/>
<ellipse cx="493.6" cy="131.5" rx="3.8" ry="2.3" fill="none" stroke="#888" stroke-width="0.4"/>
<ellipse cx="501.2" cy="131.5" rx="3.0" ry="2.1" fill="none" stroke="#888" stroke-width="0.4"/>
<ellipse cx="508.4" cy="131.5" rx="3.4" ry="2.5" fill="none" stroke="#888" stroke-width="0.4"/>
<ellipse cx="473.5" cy="136.5" rx="4.1" ry="2.1" fill="none" stroke="#888" stroke-width="0.4"/>
<ellipse cx="482.6" cy="136.5" rx="4.1" ry="2.1" fill="none" stroke="#888" stroke-width="0.4"/>
<ellipse cx="491.6" cy="136.5" rx="3.9" ry="2.1" fill="none" stroke="#888" stroke-width="0.4"/>
<ellipse cx="499.3" cy="136.5" rx="3.0" ry="2.5" fill="none" stroke="#888" stroke-width="0.4"/>
<ellipse cx="506.4" cy="136.5" rx="3.3" ry="2.1" fill="none" stroke="#888" stroke-width="0.4"/>
<ellipse cx="475.5" cy="141.5" rx="3.4" ry="2.6" fill="none" stroke="#888" stroke-width="0.4"/>
<ellipse cx="483.5" cy="141.5" rx="3.8" ry="2.4" fill="none" stroke="#888" stroke-width="0.4"/>
<ellipse cx="491.4" cy="141.5" rx="3.3" ry="2.6" fill="none" stroke="#888" stroke-width="0.4"/>
<ellipse cx="499.6" cy="141.5" rx="4.0" ry="2.6" fill="none" stroke="#888" stroke-width="0.4"/>
<ellipse cx="508.7" cy="141.5" rx="4.2" ry="2.2" fill="none" stroke="#888" stroke-width="0.4"/>
<ellipse cx="472.9" cy="146.5" rx="3.5" ry="2.1" fill="none" stroke="#888" stroke-width="0.4"/>
<ellipse cx="480.5" cy="146.5" rx="3.2" ry="2.0" fill="none" stroke="#888" stroke-width="0.4"/>
<ellipse cx="487.9" cy="146.5" rx="3.4" ry="2.4" fill="none" stroke="#888" stroke-width="0.4"/>
<ellipse cx="495.2" cy="146.5" rx="3.0" ry="2.4" fill="none" stroke="#888" stroke-width="0.4"/>
<ellipse cx="502.5" cy="146.5" rx="3.5" ry="2.2" fill="none" stroke="#888" stroke-width="0.4"/>
<ellipse cx="509.9" cy="146.5" rx="3.0" ry="2.3" fill="none" stroke="#888" stroke-width="0.4"/>
<ellipse cx="475.5" cy="151.5" rx="3.4" ry="2.3" fill="none" stroke="#888" stroke-width="0.4"/>
<ellipse cx="483.9" cy="151.5" rx="4.0" ry="2.0" fill="none" stroke="#888" stroke-width="0.4"/>
<ellipse cx="493.2" cy="151.5" rx="4.4" ry="2.0" fill="none" stroke="#888" stroke-width="0.4"/>
<ellipse cx="502.6" cy="151.5" rx="4.1" ry="2.5" fill="none" stroke="#888" stroke-width="0.4"/>
<ellipse cx="510.2" cy="151.5" rx="2.7" ry="2.5" fill="none" stroke="#888" stroke-width="0.4"/>
<ellipse cx="472.9" cy="156.2" rx="3.5" ry="2.3" fill="none" stroke="#888" stroke-width="0.4"/>
<ellipse cx="480.3" cy="156.2" rx="3.0" ry="2.0" fill="none" stroke="#888" stroke-width="0.4"/>
<ellipse cx="487.3" cy="156.2" rx="3.2" ry="2.6" fill="none" stroke="#888" stroke-width="0.4"/>
<ellipse cx="494.7" cy="156.2" rx="3.2" ry="2.5" fill="none" stroke="#888" stroke-width="0.4"/>
<ellipse cx="503.2" cy="156.2" rx="4.3" ry="2.6" fill="none" stroke="#888" stroke-width="0.4"/>
<ellipse cx="510.7" cy="156.2" rx="2.2" ry="2.2" fill="none" stroke="#888" stroke-width="0.4"/>
<line x1="468.1" y1="159.8" x2="513.6" y2="159.8" stroke="#858585" stroke-width="0.4"/>
<circle cx="488.5" cy="177.7" r="0.3" fill="#bbb"/>
<circle cx="507.9" cy="175.0" r="0.3" fill="#bbb"/>
<circle cx="490.8" cy="178.4" r="0.3" fill="#bbb"/>
<circle cx="477.6" cy="176.3" r="0.3" fill="#bbb"/>
<circle cx="495.8" cy="184.2" r="0.3" fill="#bbb"/>
<circle cx="473.9" cy="170.5" r="0.3" fill="#bbb"/>
<circle cx="473.7" cy="184.7" r="0.3" fill="#bbb"/>
<circle cx="498.4" cy="163.2" r="0.3" fill="#bbb"/>
<circle cx="510.3" cy="189.0" r="0.3" fill="#bbb"/>
<circle cx="496.8" cy="179.2" r="0.3" fill="#bbb"/>
<circle cx="476.5" cy="162.4" r="0.3" fill="#bbb"/>
<circle cx="491.7" cy="163.7" r="0.3" fill="#bbb"/>
<circle cx="477.8" cy="168.8" r="0.3" fill="#bbb"/>
<circle cx="471.2" cy="175.0" r="0.3" fill="#bbb"/>
<line x1="468.1" y1="191.2" x2="513.6" y2="191.2" stroke="#858585" stroke-width="0.35"/>
<line x1="468.1" y1="195.3" x2="513.6" y2="195.3" stroke="#858585" stroke-width="0.45"/>
<text x="514.7" y="124.1" font-size="3.17" font-family='"Liberation Sans",sans-serif' fill="#333" stroke="#333" stroke-width="0.11" textLength="28.0" lengthAdjust="spacingAndGlyphs">FISH TAIL WELDED</text>
<text x="514.7" y="127.5" font-size="3.17" font-family='"Liberation Sans",sans-serif' fill="#333" stroke="#333" stroke-width="0.11" textLength="22.5" lengthAdjust="spacingAndGlyphs">TO M.S. ANGLE</text>
<text x="514.7" y="130.9" font-size="3.17" font-family='"Liberation Sans",sans-serif' fill="#333" stroke="#333" stroke-width="0.11" textLength="27.5" lengthAdjust="spacingAndGlyphs">TO BE EMBEDDED</text>
<text x="514.7" y="134.3" font-size="3.17" font-family='"Liberation Sans",sans-serif' fill="#333" stroke="#333" stroke-width="0.11" textLength="21.2" lengthAdjust="spacingAndGlyphs">IN CONCRETE</text>
<text x="514.7" y="140.1" font-size="3.17" font-family='"Liberation Sans",sans-serif' fill="#333" stroke="#333" stroke-width="0.11" textLength="30.6" lengthAdjust="spacingAndGlyphs">25mm FROM TOP OF</text>
<text x="514.7" y="143.4" font-size="3.17" font-family='"Liberation Sans",sans-serif' fill="#333" stroke="#333" stroke-width="0.11" textLength="29.5" lengthAdjust="spacingAndGlyphs">M.S. ANGLE TO TOP</text>
<text x="514.7" y="146.7" font-size="3.17" font-family='"Liberation Sans",sans-serif' fill="#333" stroke="#333" stroke-width="0.11" textLength="29.9" lengthAdjust="spacingAndGlyphs">OF DIA. 75mm UPVC</text>
<text x="514.7" y="150.0" font-size="3.17" font-family='"Liberation Sans",sans-serif' fill="#333" stroke="#333" stroke-width="0.11" textLength="7.0" lengthAdjust="spacingAndGlyphs">PIPE</text>
<line x1="514.0" y1="124.0" x2="470.0" y2="116.0" stroke="#858585" stroke-width="0.35"/>
<text x="557.3" y="147.8" font-size="2.75" font-family='"Liberation Sans",sans-serif' fill="#444" stroke="#444" stroke-width="0.10" text-anchor="middle">50</text>
<text x="460.0" y="160.8" font-size="2.75" font-family='"Liberation Sans",sans-serif' fill="#444" stroke="#444" stroke-width="0.10" text-anchor="middle">150</text>
<line x1="468.0" y1="199.0" x2="513.3" y2="199.0" stroke="#858585" stroke-width="0.35"/>
<text x="485.0" y="198.3" font-size="2.62" font-family='"Liberation Sans",sans-serif' fill="#444" stroke="#444" stroke-width="0.09" text-anchor="middle">65</text>
<line x1="344.4" y1="206.5" x2="344.4" y2="272.0" stroke="#858585" stroke-width="0.5"/>
<line x1="370.4" y1="206.5" x2="370.4" y2="272.0" stroke="#858585" stroke-width="0.5"/>
<line x1="357.6" y1="206.5" x2="357.6" y2="246.0" stroke="#858585" stroke-width="0.5"/>
<rect x="344.4" y="206.5" width="26.0" height="4.5" fill="rgba(0,0,0,0.14)"/>
<rect x="344.4" y="206.5" width="26.0" height="4.5" fill="none" stroke="#858585" stroke-width="0.4"/>
<rect x="344.4" y="241.8" width="26.0" height="4.4" fill="rgba(0,0,0,0.14)"/>
<rect x="344.4" y="241.8" width="26.0" height="4.4" fill="none" stroke="#858585" stroke-width="0.4"/>
<rect x="344.4" y="247.3" width="26.0" height="5.5" fill="url(#dh)"/>
<rect x="344.4" y="247.3" width="26.0" height="5.5" fill="none" stroke="#858585" stroke-width="0.4"/>
<rect x="344.4" y="252.8" width="26.0" height="4.4" fill="rgba(0,0,0,0.14)"/>
<rect x="344.4" y="252.8" width="26.0" height="4.4" fill="none" stroke="#858585" stroke-width="0.4"/>
<line x1="344.4" y1="272.0" x2="370.4" y2="272.0" stroke="#858585" stroke-width="0.5"/>
<line x1="337.6" y1="272.0" x2="344.4" y2="272.0" stroke="#858585" stroke-width="0.4"/>
<rect x="358.9" y="234.4" width="2.6" height="27.0" fill="#000"/>
<polygon points="372.8,248.6 378.8,243.6 378.8,248.6" fill="#111"/>
<polygon points="372.8,250.2 378.8,250.2 378.8,255" fill="#111"/>
<line x1="350.0" y1="263.0" x2="356.0" y2="263.0" stroke="#858585" stroke-width="0.35"/>
<line x1="352.5" y1="266.5" x2="357.0" y2="266.5" stroke="#858585" stroke-width="0.3"/>
<path d="M351.7,268.2 L362,272 L369.3,277" fill="none" stroke="#858585" stroke-width="0.4"/>
<text x="352.0" y="264.3" font-size="2.5" font-family='"Liberation Sans",sans-serif' fill="#444" stroke="#444" stroke-width="0.09" text-anchor="middle">24</text>
<text x="363.0" y="264.3" font-size="2.5" font-family='"Liberation Sans",sans-serif' fill="#444" stroke="#444" stroke-width="0.09" text-anchor="middle">11</text>
<text x="354.0" y="234.8" font-size="2.62" font-family='"Liberation Sans",sans-serif' fill="#444" stroke="#444" stroke-width="0.09" text-anchor="middle">5</text>
<line x1="355.0" y1="234.0" x2="357.9" y2="234.0" stroke="#858585" stroke-width="0.35"/>
<rect x="377.2" y="227.6" width="56.5" height="13.6" fill="none" stroke="#858585" stroke-width="0.45"/>
<line x1="378.5" y1="227.6" x2="378.5" y2="241.2" stroke="#a9a9a9" stroke-width="0.5"/>
<line x1="380.4" y1="227.6" x2="380.4" y2="241.2" stroke="#a9a9a9" stroke-width="0.5"/>
<line x1="382.3" y1="227.6" x2="382.3" y2="241.2" stroke="#a9a9a9" stroke-width="0.5"/>
<line x1="384.2" y1="227.6" x2="384.2" y2="241.2" stroke="#a9a9a9" stroke-width="0.5"/>
<line x1="386.1" y1="227.6" x2="386.1" y2="241.2" stroke="#a9a9a9" stroke-width="0.5"/>
<line x1="388.0" y1="227.6" x2="388.0" y2="241.2" stroke="#a9a9a9" stroke-width="0.5"/>
<line x1="389.9" y1="227.6" x2="389.9" y2="241.2" stroke="#a9a9a9" stroke-width="0.5"/>
<line x1="391.8" y1="227.6" x2="391.8" y2="241.2" stroke="#a9a9a9" stroke-width="0.5"/>
<line x1="393.7" y1="227.6" x2="393.7" y2="241.2" stroke="#a9a9a9" stroke-width="0.5"/>
<line x1="395.6" y1="227.6" x2="395.6" y2="241.2" stroke="#a9a9a9" stroke-width="0.5"/>
<line x1="397.5" y1="227.6" x2="397.5" y2="241.2" stroke="#a9a9a9" stroke-width="0.5"/>
<line x1="399.4" y1="227.6" x2="399.4" y2="241.2" stroke="#a9a9a9" stroke-width="0.5"/>
<line x1="401.3" y1="227.6" x2="401.3" y2="241.2" stroke="#a9a9a9" stroke-width="0.5"/>
<line x1="403.2" y1="227.6" x2="403.2" y2="241.2" stroke="#a9a9a9" stroke-width="0.5"/>
<line x1="405.1" y1="227.6" x2="405.1" y2="241.2" stroke="#a9a9a9" stroke-width="0.5"/>
<line x1="407.0" y1="227.6" x2="407.0" y2="241.2" stroke="#a9a9a9" stroke-width="0.5"/>
<line x1="408.9" y1="227.6" x2="408.9" y2="241.2" stroke="#a9a9a9" stroke-width="0.5"/>
<line x1="410.8" y1="227.6" x2="410.8" y2="241.2" stroke="#a9a9a9" stroke-width="0.5"/>
<line x1="412.7" y1="227.6" x2="412.7" y2="241.2" stroke="#a9a9a9" stroke-width="0.5"/>
<line x1="414.6" y1="227.6" x2="414.6" y2="241.2" stroke="#a9a9a9" stroke-width="0.5"/>
<line x1="416.5" y1="227.6" x2="416.5" y2="241.2" stroke="#a9a9a9" stroke-width="0.5"/>
<line x1="418.4" y1="227.6" x2="418.4" y2="241.2" stroke="#a9a9a9" stroke-width="0.5"/>
<line x1="420.3" y1="227.6" x2="420.3" y2="241.2" stroke="#a9a9a9" stroke-width="0.5"/>
<line x1="422.2" y1="227.6" x2="422.2" y2="241.2" stroke="#a9a9a9" stroke-width="0.5"/>
<line x1="424.1" y1="227.6" x2="424.1" y2="241.2" stroke="#a9a9a9" stroke-width="0.5"/>
<line x1="426.0" y1="227.6" x2="426.0" y2="241.2" stroke="#a9a9a9" stroke-width="0.5"/>
<line x1="427.9" y1="227.6" x2="427.9" y2="241.2" stroke="#a9a9a9" stroke-width="0.5"/>
<path d="M428,227.6 L433.7,227.6 L428.5,241.2" fill="#fff" stroke="#858585" stroke-width="0.45"/>
<line x1="427.0" y1="241.2" x2="433.7" y2="241.2" stroke="#858585" stroke-width="0.4"/>
<line x1="399.0" y1="241.2" x2="399.0" y2="245.0" stroke="#858585" stroke-width="0.35"/>
<line x1="399.0" y1="245.0" x2="403.0" y2="245.0" stroke="#858585" stroke-width="0.35"/>
<rect x="377.1" y="241.8" width="4.4" height="28.7" fill="rgba(0,0,0,0.12)"/>
<rect x="377.1" y="241.8" width="4.4" height="28.7" fill="none" stroke="#858585" stroke-width="0.4"/>
<line x1="377.1" y1="243.0" x2="381.5" y2="243.0" stroke="#a9a9a9" stroke-width="0.3"/>
<line x1="377.1" y1="244.6" x2="381.5" y2="244.6" stroke="#a9a9a9" stroke-width="0.3"/>
<line x1="377.1" y1="246.2" x2="381.5" y2="246.2" stroke="#a9a9a9" stroke-width="0.3"/>
<line x1="377.1" y1="247.8" x2="381.5" y2="247.8" stroke="#a9a9a9" stroke-width="0.3"/>
<line x1="377.1" y1="249.4" x2="381.5" y2="249.4" stroke="#a9a9a9" stroke-width="0.3"/>
<line x1="377.1" y1="251.0" x2="381.5" y2="251.0" stroke="#a9a9a9" stroke-width="0.3"/>
<line x1="377.1" y1="252.6" x2="381.5" y2="252.6" stroke="#a9a9a9" stroke-width="0.3"/>
<line x1="377.1" y1="254.2" x2="381.5" y2="254.2" stroke="#a9a9a9" stroke-width="0.3"/>
<line x1="377.1" y1="255.8" x2="381.5" y2="255.8" stroke="#a9a9a9" stroke-width="0.3"/>
<line x1="377.1" y1="257.4" x2="381.5" y2="257.4" stroke="#a9a9a9" stroke-width="0.3"/>
<line x1="377.1" y1="259.0" x2="381.5" y2="259.0" stroke="#a9a9a9" stroke-width="0.3"/>
<line x1="377.1" y1="260.6" x2="381.5" y2="260.6" stroke="#a9a9a9" stroke-width="0.3"/>
<line x1="377.1" y1="262.2" x2="381.5" y2="262.2" stroke="#a9a9a9" stroke-width="0.3"/>
<line x1="377.1" y1="263.8" x2="381.5" y2="263.8" stroke="#a9a9a9" stroke-width="0.3"/>
<line x1="377.1" y1="265.4" x2="381.5" y2="265.4" stroke="#a9a9a9" stroke-width="0.3"/>
<line x1="377.1" y1="267.0" x2="381.5" y2="267.0" stroke="#a9a9a9" stroke-width="0.3"/>
<line x1="377.1" y1="268.6" x2="381.5" y2="268.6" stroke="#a9a9a9" stroke-width="0.3"/>
<line x1="371.9" y1="209.3" x2="371.9" y2="275.0" stroke="#858585" stroke-width="0.4"/>
<line x1="374.8" y1="222.8" x2="374.8" y2="242.0" stroke="#858585" stroke-width="0.35"/>
<line x1="387.4" y1="209.3" x2="387.4" y2="227.6" stroke="#858585" stroke-width="0.4"/>
<line x1="371.9" y1="216.1" x2="389.0" y2="216.1" stroke="#858585" stroke-width="0.35"/>
<line x1="374.8" y1="222.8" x2="389.0" y2="222.8" stroke="#858585" stroke-width="0.35"/>
<line x1="335.7" y1="206.4" x2="335.7" y2="248.0" stroke="#858585" stroke-width="0.35"/>
<line x1="334.4" y1="206.4" x2="337.0" y2="206.4" stroke="#858585" stroke-width="0.35"/>
<line x1="334.4" y1="248.0" x2="337.0" y2="248.0" stroke="#858585" stroke-width="0.35"/>
<text x="335.3" y="226.0" font-size="2.62" font-family='"Liberation Sans",sans-serif' fill="#444" stroke="#444" stroke-width="0.09" text-anchor="middle" transform="rotate(-90 335.3 226.0)">60</text>
<line x1="337.6" y1="248.0" x2="337.6" y2="272.0" stroke="#858585" stroke-width="0.35"/>
<line x1="337.6" y1="277.8" x2="383.5" y2="277.8" stroke="#858585" stroke-width="0.35"/>
<line x1="337.6" y1="276.3" x2="337.6" y2="279.3" stroke="#858585" stroke-width="0.35"/>
<line x1="344.4" y1="276.3" x2="344.4" y2="279.3" stroke="#858585" stroke-width="0.35"/>
<line x1="371.4" y1="276.3" x2="371.4" y2="279.3" stroke="#858585" stroke-width="0.35"/>
<line x1="375.3" y1="276.3" x2="375.3" y2="279.3" stroke="#858585" stroke-width="0.35"/>
<line x1="379.2" y1="276.3" x2="379.2" y2="279.3" stroke="#858585" stroke-width="0.35"/>
<text x="340.5" y="277.1" font-size="2.5" font-family='"Liberation Sans",sans-serif' fill="#444" stroke="#444" stroke-width="0.09" text-anchor="middle">25</text>
<text x="357.9" y="277.1" font-size="2.5" font-family='"Liberation Sans",sans-serif' fill="#444" stroke="#444" stroke-width="0.09" text-anchor="middle">80</text>
<text x="376.8" y="277.1" font-size="2.5" font-family='"Liberation Sans",sans-serif' fill="#444" stroke="#444" stroke-width="0.09" text-anchor="middle">8 | 8</text>
<line x1="336.7" y1="284.6" x2="385.0" y2="284.6" stroke="#858585" stroke-width="0.35"/>
<text x="361.8" y="283.9" font-size="2.5" font-family='"Liberation Sans",sans-serif' fill="#444" stroke="#444" stroke-width="0.09" text-anchor="middle">95</text>
<line x1="336.7" y1="283.1" x2="336.7" y2="286.1" stroke="#858585" stroke-width="0.35"/>
<line x1="385.0" y1="283.1" x2="385.0" y2="286.1" stroke="#858585" stroke-width="0.35"/>
<line x1="303.6" y1="237.2" x2="303.6" y2="244.7" stroke="#b6b6b6" stroke-width="0.4"/>
<line x1="307.2" y1="240.0" x2="307.2" y2="244.7" stroke="#c2c2c2" stroke-width="0.35"/>
<line x1="303.3" y1="244.7" x2="317.6" y2="244.7" stroke="#b6b6b6" stroke-width="0.4"/>
<text x="311.2" y="244.2" font-size="7.0" font-family='"Liberation Serif",serif' fill="#222" stroke="#222" stroke-width="0.25" text-anchor="middle">C</text>
<line x1="303.6" y1="250.7" x2="303.6" y2="258.2" stroke="#b6b6b6" stroke-width="0.4"/>
<line x1="307.2" y1="253.5" x2="307.2" y2="258.2" stroke="#c2c2c2" stroke-width="0.35"/>
<line x1="303.3" y1="258.2" x2="314.9" y2="258.2" stroke="#b6b6b6" stroke-width="0.4"/>
<text x="311.2" y="257.7" font-size="7.0" font-family='"Liberation Serif",serif' fill="#222" stroke="#222" stroke-width="0.25" text-anchor="middle">D</text>
<text x="359.8" y="205.8" font-size="3.62" font-family='"Liberation Serif",serif' fill="#333" stroke="#333" stroke-width="0.13" textLength="33.8" lengthAdjust="spacingAndGlyphs">6mm THK. M.S. PLATE</text>
<line x1="359.0" y1="205.0" x2="358.0" y2="206.4" stroke="#858585" stroke-width="0.3"/>
<text x="389.3" y="217.0" font-size="3.67" font-family='"Liberation Serif",serif' fill="#333" stroke="#333" stroke-width="0.13" textLength="37.7" lengthAdjust="spacingAndGlyphs">15mm x 5mm M.S. PLATE</text>
<text x="389.3" y="223.5" font-size="3.69" font-family='"Liberation Serif",serif' fill="#333" stroke="#333" stroke-width="0.13" textLength="38.7" lengthAdjust="spacingAndGlyphs">6mm THK. FILLET WELD</text>
<text x="389.3" y="227.0" font-size="3.69" font-family='"Liberation Serif",serif' fill="#333" stroke="#333" stroke-width="0.13" textLength="19.6" lengthAdjust="spacingAndGlyphs">ALL ROUND</text>
<text x="399.0" y="247.3" font-size="3.73" font-family='"Liberation Serif",serif' fill="#333" stroke="#333" stroke-width="0.13" textLength="21.2" lengthAdjust="spacingAndGlyphs">75mm x 10mm</text>
<text x="399.0" y="250.6" font-size="3.73" font-family='"Liberation Serif",serif' fill="#333" stroke="#333" stroke-width="0.13" textLength="15.9" lengthAdjust="spacingAndGlyphs">M.S. FLAT</text>
<text x="316.4" y="250.3" font-size="3.79" font-family='"Liberation Serif",serif' fill="#333" stroke="#333" stroke-width="0.13" textLength="16.2" lengthAdjust="spacingAndGlyphs">6mm THK.</text>
<text x="316.4" y="253.7" font-size="3.79" font-family='"Liberation Serif",serif' fill="#333" stroke="#333" stroke-width="0.13" textLength="18.3" lengthAdjust="spacingAndGlyphs">M.S. PLATE</text>
<text x="316.4" y="257.1" font-size="3.79" font-family='"Liberation Serif",serif' fill="#333" stroke="#333" stroke-width="0.13" textLength="16.2" lengthAdjust="spacingAndGlyphs">5mm THK.</text>
<text x="316.4" y="260.5" font-size="3.79" font-family='"Liberation Serif",serif' fill="#333" stroke="#333" stroke-width="0.13" textLength="18.3" lengthAdjust="spacingAndGlyphs">M.S. PLATE</text>
<line x1="334.7" y1="249.5" x2="344.4" y2="249.5" stroke="#858585" stroke-width="0.3"/>
<line x1="334.7" y1="256.0" x2="344.4" y2="254.0" stroke="#858585" stroke-width="0.3"/>
<text x="314.5" y="267.0" font-size="3.56" font-family='"Liberation Serif",serif' fill="#333" stroke="#333" stroke-width="0.12" textLength="18.3" lengthAdjust="spacingAndGlyphs">M.S. ANGLE</text>
<text x="314.5" y="270.5" font-size="3.56" font-family='"Liberation Serif",serif' fill="#333" stroke="#333" stroke-width="0.12" textLength="11.4" lengthAdjust="spacingAndGlyphs">FRAME</text>
<line x1="333.0" y1="266.5" x2="344.4" y2="266.5" stroke="#858585" stroke-width="0.3"/>
<text x="389.3" y="259.9" font-size="3.85" font-family='"Liberation Serif",serif' fill="#333" stroke="#333" stroke-width="0.13" textLength="30.5" lengthAdjust="spacingAndGlyphs">10mm DIA. GRADE</text>
<text x="389.3" y="263.4" font-size="3.85" font-family='"Liberation Serif",serif' fill="#333" stroke="#333" stroke-width="0.13" textLength="20.0" lengthAdjust="spacingAndGlyphs">8.8mm BOLT</text>
<text x="389.3" y="267.0" font-size="3.85" font-family='"Liberation Serif",serif' fill="#333" stroke="#333" stroke-width="0.13" textLength="39.6" lengthAdjust="spacingAndGlyphs">25mm x 5mm M.S. PLATE</text>
<text x="389.3" y="270.5" font-size="3.85" font-family='"Liberation Serif",serif' fill="#333" stroke="#333" stroke-width="0.13" textLength="37.4" lengthAdjust="spacingAndGlyphs">65mm x 6mm M.S. FLAT</text>
<line x1="431.9" y1="244.7" x2="446.2" y2="244.7" stroke="#b6b6b6" stroke-width="0.4"/>
<line x1="446.2" y1="244.7" x2="446.2" y2="237.1" stroke="#b6b6b6" stroke-width="0.4"/>
<line x1="441.5" y1="244.7" x2="441.5" y2="239.5" stroke="#c2c2c2" stroke-width="0.35"/>
<text x="437.4" y="244.1" font-size="7.0" font-family='"Liberation Serif",serif' fill="#222" stroke="#222" stroke-width="0.25" text-anchor="middle">C</text>
<line x1="431.9" y1="258.2" x2="446.2" y2="258.2" stroke="#b6b6b6" stroke-width="0.4"/>
<line x1="446.2" y1="258.2" x2="446.2" y2="250.6" stroke="#b6b6b6" stroke-width="0.4"/>
<line x1="441.5" y1="258.2" x2="441.5" y2="253.0" stroke="#c2c2c2" stroke-width="0.35"/>
<text x="437.4" y="257.6" font-size="7.0" font-family='"Liberation Serif",serif' fill="#222" stroke="#222" stroke-width="0.25" text-anchor="middle">D</text>
<text x="417.7" y="281.2" font-size="6.58" font-family='"Liberation Serif",serif' fill="#333" stroke="#333" stroke-width="0.23" text-anchor="middle" textLength="27.0" lengthAdjust="spacingAndGlyphs">DETAIL A</text>
<text x="418.3" y="286.6" font-size="6.2" font-family='"Liberation Serif",serif' fill="#333" stroke="#333" stroke-width="0.22" text-anchor="middle" textLength="52.2" lengthAdjust="spacingAndGlyphs">(DETAIL OF HINGE)</text>
<line x1="392.2" y1="287.6" x2="444.3" y2="287.6" stroke="#858585" stroke-width="0.45"/>
<line x1="460.4" y1="200.6" x2="510.6" y2="200.6" stroke="#858585" stroke-width="0.35"/>
<line x1="460.4" y1="199.0" x2="460.4" y2="202.2" stroke="#858585" stroke-width="0.35"/>
<line x1="510.6" y1="199.0" x2="510.6" y2="202.2" stroke="#858585" stroke-width="0.35"/>
<text x="484.6" y="200.0" font-size="2.5" font-family='"Liberation Sans",sans-serif' fill="#444" stroke="#444" stroke-width="0.09" text-anchor="middle">65</text>
<line x1="456.6" y1="205.1" x2="469.1" y2="205.1" stroke="#858585" stroke-width="0.35"/>
<text x="464.3" y="204.4" font-size="2.5" font-family='"Liberation Sans",sans-serif' fill="#444" stroke="#444" stroke-width="0.09" text-anchor="middle">50</text>
<line x1="455.6" y1="209.3" x2="476.9" y2="209.3" stroke="#858585" stroke-width="0.45"/>
<polyline points="476.9,204.5 480.5,210.5 484.6,213.0" fill="none" stroke="#858585" stroke-width="0.45"/>
<line x1="460.4" y1="209.3" x2="460.4" y2="280.7" stroke="#858585" stroke-width="0.5"/>
<line x1="468.2" y1="204.5" x2="468.2" y2="274.0" stroke="#858585" stroke-width="0.5"/>
<line x1="496.2" y1="209.3" x2="496.2" y2="274.0" stroke="#858585" stroke-width="0.5"/>
<rect x="468.2" y="222.8" width="28.0" height="4.8" fill="rgba(0,0,0,0.14)"/>
<rect x="468.2" y="222.8" width="28.0" height="4.8" fill="none" stroke="#858585" stroke-width="0.4"/>
<rect x="468.2" y="227.6" width="33.8" height="5.8" fill="url(#dh)"/>
<rect x="468.2" y="227.6" width="33.8" height="5.8" fill="none" stroke="#858585" stroke-width="0.4"/>
<rect x="468.2" y="233.4" width="28.0" height="3.9" fill="rgba(0,0,0,0.14)"/>
<rect x="468.2" y="233.4" width="28.0" height="3.9" fill="none" stroke="#858585" stroke-width="0.4"/>
<rect x="482.6" y="214.1" width="2.4" height="28.0" fill="#000"/>
<text x="494.2" y="205.2" font-size="3.74" font-family='"Liberation Serif",serif' fill="#333" stroke="#333" stroke-width="0.13" textLength="37.7" lengthAdjust="spacingAndGlyphs">CONNECTION DETAILS</text>
<text x="494.2" y="208.3" font-size="3.74" font-family='"Liberation Serif",serif' fill="#333" stroke="#333" stroke-width="0.13" textLength="35.9" lengthAdjust="spacingAndGlyphs">SIMILAR TO DETAIL A</text>
<line x1="493.6" y1="205.4" x2="488.4" y2="205.4" stroke="#858585" stroke-width="0.35"/>
<line x1="488.4" y1="205.4" x2="488.4" y2="222.8" stroke="#858585" stroke-width="0.35"/>
<rect x="502.0" y="209.3" width="4.8" height="57.0" fill="none" stroke="#858585" stroke-width="0.4"/>
<line x1="502.0" y1="209.3" x2="506.8" y2="209.3" stroke="#858585" stroke-width="0.35"/>
<line x1="502.0" y1="211.6" x2="506.8" y2="211.6" stroke="#858585" stroke-width="0.35"/>
<line x1="502.0" y1="213.9" x2="506.8" y2="213.9" stroke="#858585" stroke-width="0.35"/>
<line x1="502.0" y1="216.2" x2="506.8" y2="216.2" stroke="#858585" stroke-width="0.35"/>
<line x1="502.0" y1="218.5" x2="506.8" y2="218.5" stroke="#858585" stroke-width="0.35"/>
<line x1="502.0" y1="220.8" x2="506.8" y2="220.8" stroke="#858585" stroke-width="0.35"/>
<line x1="502.0" y1="223.1" x2="506.8" y2="223.1" stroke="#858585" stroke-width="0.35"/>
<line x1="502.0" y1="225.4" x2="506.8" y2="225.4" stroke="#858585" stroke-width="0.35"/>
<line x1="502.0" y1="227.7" x2="506.8" y2="227.7" stroke="#858585" stroke-width="0.35"/>
<line x1="502.0" y1="230.0" x2="506.8" y2="230.0" stroke="#858585" stroke-width="0.35"/>
<line x1="502.0" y1="232.3" x2="506.8" y2="232.3" stroke="#858585" stroke-width="0.35"/>
<line x1="502.0" y1="234.6" x2="506.8" y2="234.6" stroke="#858585" stroke-width="0.35"/>
<line x1="502.0" y1="236.9" x2="506.8" y2="236.9" stroke="#858585" stroke-width="0.35"/>
<line x1="502.0" y1="239.2" x2="506.8" y2="239.2" stroke="#858585" stroke-width="0.35"/>
<line x1="502.0" y1="241.5" x2="506.8" y2="241.5" stroke="#858585" stroke-width="0.35"/>
<line x1="502.0" y1="243.8" x2="506.8" y2="243.8" stroke="#858585" stroke-width="0.35"/>
<line x1="502.0" y1="246.1" x2="506.8" y2="246.1" stroke="#858585" stroke-width="0.35"/>
<line x1="502.0" y1="248.4" x2="506.8" y2="248.4" stroke="#858585" stroke-width="0.35"/>
<line x1="502.0" y1="250.7" x2="506.8" y2="250.7" stroke="#858585" stroke-width="0.35"/>
<line x1="502.0" y1="253.0" x2="506.8" y2="253.0" stroke="#858585" stroke-width="0.35"/>
<line x1="502.0" y1="255.3" x2="506.8" y2="255.3" stroke="#858585" stroke-width="0.35"/>
<line x1="502.0" y1="257.6" x2="506.8" y2="257.6" stroke="#858585" stroke-width="0.35"/>
<line x1="502.0" y1="259.9" x2="506.8" y2="259.9" stroke="#858585" stroke-width="0.35"/>
<line x1="502.0" y1="262.2" x2="506.8" y2="262.2" stroke="#858585" stroke-width="0.35"/>
<line x1="502.0" y1="264.5" x2="506.8" y2="264.5" stroke="#858585" stroke-width="0.35"/>
<rect x="502.0" y="266.3" width="28.9" height="3.8" fill="none" stroke="#858585" stroke-width="0.4"/>
<line x1="502.0" y1="266.3" x2="502.0" y2="270.1" stroke="#858585" stroke-width="0.35"/>
<line x1="504.3" y1="266.3" x2="504.3" y2="270.1" stroke="#858585" stroke-width="0.35"/>
<line x1="506.6" y1="266.3" x2="506.6" y2="270.1" stroke="#858585" stroke-width="0.35"/>
<line x1="508.9" y1="266.3" x2="508.9" y2="270.1" stroke="#858585" stroke-width="0.35"/>
<line x1="511.2" y1="266.3" x2="511.2" y2="270.1" stroke="#858585" stroke-width="0.35"/>
<line x1="513.5" y1="266.3" x2="513.5" y2="270.1" stroke="#858585" stroke-width="0.35"/>
<line x1="515.8" y1="266.3" x2="515.8" y2="270.1" stroke="#858585" stroke-width="0.35"/>
<line x1="518.1" y1="266.3" x2="518.1" y2="270.1" stroke="#858585" stroke-width="0.35"/>
<line x1="520.4" y1="266.3" x2="520.4" y2="270.1" stroke="#858585" stroke-width="0.35"/>
<line x1="522.7" y1="266.3" x2="522.7" y2="270.1" stroke="#858585" stroke-width="0.35"/>
<line x1="525.0" y1="266.3" x2="525.0" y2="270.1" stroke="#858585" stroke-width="0.35"/>
<line x1="527.3" y1="266.3" x2="527.3" y2="270.1" stroke="#858585" stroke-width="0.35"/>
<line x1="529.6" y1="266.3" x2="529.6" y2="270.1" stroke="#858585" stroke-width="0.35"/>
<line x1="510.6" y1="200.6" x2="510.6" y2="246.0" stroke="#858585" stroke-width="0.4"/>
<line x1="510.6" y1="246.0" x2="539.6" y2="246.0" stroke="#858585" stroke-width="0.4"/>
<text x="517.4" y="238.6" font-size="3.56" font-family='"Liberation Serif",serif' fill="#333" stroke="#333" stroke-width="0.12" textLength="18.3" lengthAdjust="spacingAndGlyphs">M.S. ANGLE</text>
<text x="517.4" y="242.5" font-size="3.56" font-family='"Liberation Serif",serif' fill="#333" stroke="#333" stroke-width="0.12" textLength="11.4" lengthAdjust="spacingAndGlyphs">FRAME</text>
<line x1="516.8" y1="239.3" x2="511.5" y2="239.3" stroke="#858585" stroke-width="0.35"/>
<line x1="516.8" y1="239.3" x2="516.8" y2="246.0" stroke="#858585" stroke-width="0.3"/>
<line x1="530.9" y1="246.0" x2="530.9" y2="257.6" stroke="#858585" stroke-width="0.4"/>
<line x1="530.9" y1="257.6" x2="535.7" y2="257.6" stroke="#858585" stroke-width="0.4"/>
<line x1="525.0" y1="266.3" x2="535.7" y2="257.6" stroke="#858585" stroke-width="0.35"/>
<line x1="460.4" y1="280.7" x2="510.6" y2="246.0" stroke="#858585" stroke-width="0.35" stroke-dasharray="2,1.2"/>
<line x1="468.2" y1="274.0" x2="532.8" y2="274.0" stroke="#858585" stroke-width="0.45"/>
<line x1="459.5" y1="280.7" x2="532.0" y2="280.7" stroke="#858585" stroke-width="0.45"/>
<line x1="531.0" y1="270.1" x2="531.0" y2="280.7" stroke="#858585" stroke-width="0.4"/>
<line x1="537.7" y1="246.0" x2="537.7" y2="280.7" stroke="#858585" stroke-width="0.35"/>
<line x1="536.4" y1="246.0" x2="539.0" y2="246.0" stroke="#858585" stroke-width="0.35"/>
<line x1="536.4" y1="280.7" x2="539.0" y2="280.7" stroke="#858585" stroke-width="0.35"/>
<text x="537.3" y="263.4" font-size="2.5" font-family='"Liberation Sans",sans-serif' fill="#444" stroke="#444" stroke-width="0.09" text-anchor="middle" transform="rotate(-90 537.3 263.4)">80</text>
<line x1="458.9" y1="232.5" x2="458.9" y2="278.8" stroke="#858585" stroke-width="0.35"/>
<line x1="457.6" y1="232.5" x2="460.2" y2="232.5" stroke="#858585" stroke-width="0.35"/>
<line x1="457.6" y1="273.0" x2="460.2" y2="273.0" stroke="#858585" stroke-width="0.35"/>
<text x="458.5" y="253.7" font-size="2.5" font-family='"Liberation Sans",sans-serif' fill="#444" stroke="#444" stroke-width="0.09" text-anchor="middle" transform="rotate(-90 458.5 253.7)">300</text>
<text x="458.5" y="276.8" font-size="2.5" font-family='"Liberation Sans",sans-serif' fill="#444" stroke="#444" stroke-width="0.09" text-anchor="middle" transform="rotate(-90 458.5 276.8)">50</text>
<text x="499.0" y="285.9" font-size="6.27" font-family='"Liberation Serif",serif' fill="#333" stroke="#333" stroke-width="0.22" text-anchor="middle" textLength="25.7" lengthAdjust="spacingAndGlyphs">DETAIL B</text>
<line x1="598.4" y1="88.4" x2="598.4" y2="100.4" stroke="#b6b6b6" stroke-width="0.4"/>
<line x1="598.4" y1="88.4" x2="605.8" y2="88.4" stroke="#b6b6b6" stroke-width="0.4"/>
<text x="603.3" y="96.7" font-size="8.8" font-family='"Liberation Serif",serif' fill="#222" stroke="#222" stroke-width="0.31" text-anchor="middle">F</text>
<line x1="598.3" y1="141.5" x2="598.3" y2="154.4" stroke="#b6b6b6" stroke-width="0.4"/>
<line x1="598.3" y1="152.3" x2="605.9" y2="152.3" stroke="#c2c2c2" stroke-width="0.35"/>
<line x1="598.3" y1="154.3" x2="605.9" y2="154.3" stroke="#b6b6b6" stroke-width="0.4"/>
<text x="602.9" y="150.6" font-size="8.5" font-family='"Liberation Serif",serif' fill="#222" stroke="#222" stroke-width="0.30" text-anchor="middle">F</text>
<line x1="598.4" y1="100.4" x2="598.4" y2="141.5" stroke="#858585" stroke-width="0.3" stroke-dasharray="2.5,0.8,0.6,0.8"/>
<line x1="583.7" y1="100.4" x2="660.1" y2="100.4" stroke="#858585" stroke-width="0.5"/>
<line x1="583.7" y1="100.4" x2="583.7" y2="117.2" stroke="#858585" stroke-width="0.5"/>
<path d="M583.7,117.2 L581.5,119.8 L585.8,122 L583.7,124.5" fill="none" stroke="#858585" stroke-width="0.4"/>
<line x1="583.7" y1="124.5" x2="583.7" y2="157.7" stroke="#858585" stroke-width="0.5"/>
<line x1="583.7" y1="157.7" x2="660.1" y2="157.7" stroke="#858585" stroke-width="0.5"/>
<line x1="583.7" y1="112.3" x2="626.7" y2="112.3" stroke="#858585" stroke-width="0.4" stroke-dasharray="2,1"/>
<line x1="583.7" y1="117.6" x2="626.7" y2="117.6" stroke="#858585" stroke-width="0.45"/>
<line x1="589.6" y1="126.7" x2="626.7" y2="126.7" stroke="#858585" stroke-width="0.45"/>
<rect x="589.6" y="126.7" width="37.1" height="4.3" fill="rgba(0,0,0,0.14)"/>
<line x1="589.6" y1="131.0" x2="626.7" y2="131.0" stroke="#858585" stroke-width="0.45"/>
<line x1="589.6" y1="126.7" x2="589.6" y2="131.0" stroke="#858585" stroke-width="0.4"/>
<line x1="583.7" y1="141.5" x2="626.7" y2="141.5" stroke="#858585" stroke-width="0.45"/>
<text x="608.7" y="126.2" font-size="2.75" font-family='"Liberation Sans",sans-serif' fill="#444" stroke="#444" stroke-width="0.10" text-anchor="middle">100</text>
<text x="608.7" y="137.8" font-size="2.75" font-family='"Liberation Sans",sans-serif' fill="#444" stroke="#444" stroke-width="0.10" text-anchor="middle">↓</text>
<rect x="627.9" y="100.4" width="32.2" height="8.4" fill="rgba(0,0,0,0.18)"/>
<rect x="627.9" y="100.4" width="32.2" height="8.4" fill="url(#xh)"/>
<rect x="627.9" y="100.4" width="32.2" height="8.4" fill="none" stroke="#858585" stroke-width="0.45"/>
<rect x="627.9" y="108.8" width="32.2" height="48.9" fill="url(#dhw)"/>
<line x1="637.4" y1="108.8" x2="637.4" y2="157.7" stroke="#858585" stroke-width="0.45"/>
<line x1="642.2" y1="108.8" x2="642.2" y2="157.7" stroke="#858585" stroke-width="0.45"/>
<line x1="647.0" y1="108.8" x2="647.0" y2="157.7" stroke="#858585" stroke-width="0.45"/>
<line x1="651.8" y1="108.8" x2="651.8" y2="157.7" stroke="#858585" stroke-width="0.45"/>
<line x1="660.1" y1="100.4" x2="660.1" y2="118.0" stroke="#858585" stroke-width="0.5"/>
<path d="M660.1,118 L657.9,120.6 L662.2,122.8 L660.1,125.3" fill="none" stroke="#858585" stroke-width="0.4"/>
<line x1="660.1" y1="125.3" x2="660.1" y2="157.7" stroke="#858585" stroke-width="0.5"/>
<rect x="626.7" y="100.4" width="3.6" height="57.3" fill="rgba(0,0,0,0.12)"/>
<line x1="626.7" y1="100.4" x2="626.7" y2="157.7" stroke="#858585" stroke-width="0.45"/>
<line x1="630.3" y1="100.4" x2="630.3" y2="157.7" stroke="#858585" stroke-width="0.45"/>
<polygon points="626.5,112.3 623.5,110.8 623.5,113.8" fill="#111"/>
<polygon points="626.5,117.6 623.5,116.1 623.5,119.1" fill="#111"/>
<line x1="629.0" y1="83.2" x2="629.0" y2="100.4" stroke="#858585" stroke-width="0.45"/>
<line x1="625.0" y1="83.2" x2="635.0" y2="83.2" stroke="#858585" stroke-width="0.35"/>
<text x="626.5" y="82.6" font-size="2.5" font-family='"Liberation Sans",sans-serif' fill="#444" stroke="#444" stroke-width="0.09" text-anchor="middle">4</text>
<text x="587.3" y="79.0" font-size="3.59" font-family='"Liberation Serif",serif' fill="#333" stroke="#333" stroke-width="0.13" textLength="57.3" lengthAdjust="spacingAndGlyphs">5mm THK. FILLET WELD ALL ROUND</text>
<text x="587.3" y="82.1" font-size="3.58" font-family='"Liberation Serif",serif' fill="#333" stroke="#333" stroke-width="0.13" textLength="24.8" lengthAdjust="spacingAndGlyphs">ON BOTH SIDES</text>
<line x1="612.3" y1="82.5" x2="626.5" y2="112.0" stroke="#858585" stroke-width="0.35"/>
<text x="575.3" y="93.4" font-size="3.59" font-family='"Liberation Sans",sans-serif' fill="#333" stroke="#333" stroke-width="0.13" textLength="6.0" lengthAdjust="spacingAndGlyphs">T16</text>
<line x1="581.3" y1="98.0" x2="594.4" y2="112.3" stroke="#858585" stroke-width="0.35"/>
<text x="563.4" y="122.9" font-size="2.85" font-family='"Liberation Sans",sans-serif' fill="#333" stroke="#333" stroke-width="0.10" textLength="14.3" lengthAdjust="spacingAndGlyphs">MIN. 35mm</text>
<text x="563.4" y="125.8" font-size="2.85" font-family='"Liberation Sans",sans-serif' fill="#333" stroke="#333" stroke-width="0.10" textLength="13.6" lengthAdjust="spacingAndGlyphs">FROM T16</text>
<line x1="570.5" y1="112.3" x2="570.5" y2="133.8" stroke="#858585" stroke-width="0.35"/>
<line x1="569.0" y1="112.3" x2="572.0" y2="112.3" stroke="#858585" stroke-width="0.35"/>
<line x1="569.0" y1="133.8" x2="572.0" y2="133.8" stroke="#858585" stroke-width="0.35"/>
<text x="556.2" y="147.8" font-size="3.64" font-family='"Liberation Serif",serif' fill="#333" stroke="#333" stroke-width="0.13" textLength="33.4" lengthAdjust="spacingAndGlyphs">MIN. 100mm BEND-IN</text>
<line x1="589.6" y1="147.0" x2="610.0" y2="131.0" stroke="#858585" stroke-width="0.35"/>
<text x="660.1" y="86.9" font-size="3.61" font-family='"Liberation Serif",serif' fill="#333" stroke="#333" stroke-width="0.13" textLength="63.7" lengthAdjust="spacingAndGlyphs">T10 TO PENETRATE THROUGH 6mm THK.</text>
<text x="660.1" y="90.2" font-size="3.61" font-family='"Liberation Serif",serif' fill="#333" stroke="#333" stroke-width="0.13" textLength="17.4" lengthAdjust="spacingAndGlyphs">M.S. PLATE</text>
<line x1="660.1" y1="88.5" x2="641.0" y2="105.0" stroke="#858585" stroke-width="0.35"/>
<text x="682.4" y="150.7" font-size="7.27" font-family='"Liberation Serif",serif' fill="#333" stroke="#333" stroke-width="0.25" text-anchor="middle" textLength="29.8" lengthAdjust="spacingAndGlyphs">DETAIL C</text>
<rect x="599.5" y="203.4" width="33.4" height="29.3" fill="rgba(0,0,0,0.05)"/>
<pattern id="xf" width="6" height="6" patternUnits="userSpaceOnUse"><path d="M0,0L6,6M6,0L0,6" stroke="#777" stroke-width="0.45"/></pattern>
<rect x="599.5" y="203.4" width="33.4" height="29.3" fill="url(#xf)"/>
<rect x="599.5" y="203.4" width="33.4" height="29.3" fill="none" stroke="#858585" stroke-width="0.5"/>
<rect x="597.5" y="203.4" width="3.0" height="57.6" fill="rgba(0,0,0,0.12)"/>
<rect x="597.5" y="203.4" width="3.0" height="57.6" fill="none" stroke="#858585" stroke-width="0.4"/>
<line x1="597.5" y1="204.5" x2="600.5" y2="204.5" stroke="#a9a9a9" stroke-width="0.3"/>
<line x1="597.5" y1="206.1" x2="600.5" y2="206.1" stroke="#a9a9a9" stroke-width="0.3"/>
<line x1="597.5" y1="207.7" x2="600.5" y2="207.7" stroke="#a9a9a9" stroke-width="0.3"/>
<line x1="597.5" y1="209.3" x2="600.5" y2="209.3" stroke="#a9a9a9" stroke-width="0.3"/>
<line x1="597.5" y1="210.9" x2="600.5" y2="210.9" stroke="#a9a9a9" stroke-width="0.3"/>
<line x1="597.5" y1="212.5" x2="600.5" y2="212.5" stroke="#a9a9a9" stroke-width="0.3"/>
<line x1="597.5" y1="214.1" x2="600.5" y2="214.1" stroke="#a9a9a9" stroke-width="0.3"/>
<line x1="597.5" y1="215.7" x2="600.5" y2="215.7" stroke="#a9a9a9" stroke-width="0.3"/>
<line x1="597.5" y1="217.3" x2="600.5" y2="217.3" stroke="#a9a9a9" stroke-width="0.3"/>
<line x1="597.5" y1="218.9" x2="600.5" y2="218.9" stroke="#a9a9a9" stroke-width="0.3"/>
<line x1="597.5" y1="220.5" x2="600.5" y2="220.5" stroke="#a9a9a9" stroke-width="0.3"/>
<line x1="597.5" y1="222.1" x2="600.5" y2="222.1" stroke="#a9a9a9" stroke-width="0.3"/>
<line x1="597.5" y1="223.7" x2="600.5" y2="223.7" stroke="#a9a9a9" stroke-width="0.3"/>
<line x1="597.5" y1="225.3" x2="600.5" y2="225.3" stroke="#a9a9a9" stroke-width="0.3"/>
<line x1="597.5" y1="226.9" x2="600.5" y2="226.9" stroke="#a9a9a9" stroke-width="0.3"/>
<line x1="597.5" y1="228.5" x2="600.5" y2="228.5" stroke="#a9a9a9" stroke-width="0.3"/>
<line x1="597.5" y1="230.1" x2="600.5" y2="230.1" stroke="#a9a9a9" stroke-width="0.3"/>
<line x1="597.5" y1="231.7" x2="600.5" y2="231.7" stroke="#a9a9a9" stroke-width="0.3"/>
<line x1="597.5" y1="233.3" x2="600.5" y2="233.3" stroke="#a9a9a9" stroke-width="0.3"/>
<line x1="597.5" y1="234.9" x2="600.5" y2="234.9" stroke="#a9a9a9" stroke-width="0.3"/>
<line x1="597.5" y1="236.5" x2="600.5" y2="236.5" stroke="#a9a9a9" stroke-width="0.3"/>
<line x1="597.5" y1="238.1" x2="600.5" y2="238.1" stroke="#a9a9a9" stroke-width="0.3"/>
<line x1="597.5" y1="239.7" x2="600.5" y2="239.7" stroke="#a9a9a9" stroke-width="0.3"/>
<line x1="597.5" y1="241.3" x2="600.5" y2="241.3" stroke="#a9a9a9" stroke-width="0.3"/>
<line x1="597.5" y1="242.9" x2="600.5" y2="242.9" stroke="#a9a9a9" stroke-width="0.3"/>
<line x1="597.5" y1="244.5" x2="600.5" y2="244.5" stroke="#a9a9a9" stroke-width="0.3"/>
<line x1="597.5" y1="246.1" x2="600.5" y2="246.1" stroke="#a9a9a9" stroke-width="0.3"/>
<line x1="597.5" y1="247.7" x2="600.5" y2="247.7" stroke="#a9a9a9" stroke-width="0.3"/>
<line x1="597.5" y1="249.3" x2="600.5" y2="249.3" stroke="#a9a9a9" stroke-width="0.3"/>
<line x1="597.5" y1="250.9" x2="600.5" y2="250.9" stroke="#a9a9a9" stroke-width="0.3"/>
<line x1="597.5" y1="252.5" x2="600.5" y2="252.5" stroke="#a9a9a9" stroke-width="0.3"/>
<line x1="597.5" y1="254.1" x2="600.5" y2="254.1" stroke="#a9a9a9" stroke-width="0.3"/>
<line x1="597.5" y1="255.7" x2="600.5" y2="255.7" stroke="#a9a9a9" stroke-width="0.3"/>
<line x1="597.5" y1="257.3" x2="600.5" y2="257.3" stroke="#a9a9a9" stroke-width="0.3"/>
<line x1="597.5" y1="258.9" x2="600.5" y2="258.9" stroke="#a9a9a9" stroke-width="0.3"/>
<line x1="597.5" y1="260.5" x2="600.5" y2="260.5" stroke="#a9a9a9" stroke-width="0.3"/>
<ellipse cx="615.7" cy="217.9" rx="3.1" ry="2.8" fill="#fff" stroke="#444" stroke-width="0.6"/>
<line x1="619.7" y1="203.4" x2="619.7" y2="265.0" stroke="#858585" stroke-width="0.45"/>
<rect x="599.5" y="232.7" width="33.4" height="2.0" fill="rgba(0,0,0,0.18)"/>
<line x1="632.9" y1="203.4" x2="632.9" y2="261.0" stroke="#858585" stroke-width="0.45"/>
<line x1="638.9" y1="203.4" x2="638.9" y2="261.0" stroke="#858585" stroke-width="0.45"/>
<line x1="644.0" y1="208.0" x2="644.0" y2="261.0" stroke="#858585" stroke-width="0.45"/>
<path d="M632.9,203.4 Q641,207 644,215" fill="none" stroke="#858585" stroke-width="0.45"/>
<line x1="632.9" y1="215.0" x2="644.0" y2="252.0" stroke="#858585" stroke-width="0.35"/>
<rect x="626.8" y="247.9" width="12.1" height="13.1" fill="none" stroke="#858585" stroke-width="0.45"/>
<line x1="588.4" y1="262.0" x2="646.0" y2="262.0" stroke="#858585" stroke-width="0.45"/>
<line x1="588.4" y1="197.0" x2="588.4" y2="230.6" stroke="#858585" stroke-width="0.35"/>
<line x1="595.4" y1="192.0" x2="595.4" y2="203.4" stroke="#858585" stroke-width="0.35"/>
<line x1="595.4" y1="203.4" x2="664.2" y2="203.4" stroke="#858585" stroke-width="0.45"/>
<text x="605.6" y="179.8" font-size="3.63" font-family='"Liberation Serif",serif' fill="#333" stroke="#333" stroke-width="0.13" textLength="48.4" lengthAdjust="spacingAndGlyphs">25mm x 4mm THICK M.S. PLATE</text>
<text x="605.6" y="183.2" font-size="3.63" font-family='"Liberation Serif",serif' fill="#333" stroke="#333" stroke-width="0.13" textLength="46.9" lengthAdjust="spacingAndGlyphs">FILLET WELD TO UNDERSIDE</text>
<text x="605.6" y="186.5" font-size="3.63" font-family='"Liberation Serif",serif' fill="#333" stroke="#333" stroke-width="0.13" textLength="32.1" lengthAdjust="spacingAndGlyphs">OF CHEQUER PLATE</text>
<line x1="629.0" y1="186.0" x2="626.0" y2="204.0" stroke="#858585" stroke-width="0.35"/>
<text x="568.1" y="190.5" font-size="3.71" font-family='"Liberation Serif",serif' fill="#333" stroke="#333" stroke-width="0.13" textLength="17.3" lengthAdjust="spacingAndGlyphs">MIN. 40mm</text>
<text x="568.1" y="194.6" font-size="3.71" font-family='"Liberation Serif",serif' fill="#333" stroke="#333" stroke-width="0.13" textLength="28.4" lengthAdjust="spacingAndGlyphs">FROM SIDE EDGE</text>
<text x="557.0" y="214.0" font-size="3.17" font-family='"Liberation Sans",sans-serif' fill="#333" stroke="#333" stroke-width="0.11" textLength="27.7" lengthAdjust="spacingAndGlyphs">6mm THK. FILLET</text>
<text x="557.0" y="216.6" font-size="3.17" font-family='"Liberation Sans",sans-serif' fill="#333" stroke="#333" stroke-width="0.11" textLength="29.3" lengthAdjust="spacingAndGlyphs">WELD ALL ROUND</text>
<text x="557.0" y="219.2" font-size="3.17" font-family='"Liberation Sans",sans-serif' fill="#333" stroke="#333" stroke-width="0.11" textLength="20.2" lengthAdjust="spacingAndGlyphs">BOTH SIDES</text>
<line x1="586.3" y1="217.9" x2="612.7" y2="217.9" stroke="#858585" stroke-width="0.35"/>
<text x="660.2" y="185.3" font-size="3.68" font-family='"Liberation Serif",serif' fill="#333" stroke="#333" stroke-width="0.13" textLength="31.2" lengthAdjust="spacingAndGlyphs">2 NOS. OF DIA. 5mm</text>
<text x="660.2" y="188.8" font-size="3.68" font-family='"Liberation Serif",serif' fill="#333" stroke="#333" stroke-width="0.13" textLength="38.3" lengthAdjust="spacingAndGlyphs">STAINLESS STEEL BOLT</text>
<text x="660.2" y="192.2" font-size="3.68" font-family='"Liberation Serif",serif' fill="#333" stroke="#333" stroke-width="0.13" textLength="32.5" lengthAdjust="spacingAndGlyphs">(REFER TO NOTE 25)</text>
<line x1="660.0" y1="186.0" x2="634.0" y2="206.0" stroke="#858585" stroke-width="0.35"/>
<text x="676.0" y="203.2" font-size="3.1" font-family='"Liberation Serif",serif' fill="#333" stroke="#333" stroke-width="0.11" textLength="24.0" lengthAdjust="spacingAndGlyphs">REFER TO NOTE 4</text>
<text x="665.2" y="208.6" font-size="3.2" font-family='"Liberation Serif",serif' fill="#333" stroke="#333" stroke-width="0.11" textLength="14.9" lengthAdjust="spacingAndGlyphs">MIN. 35mm</text>
<text x="665.2" y="211.6" font-size="3.21" font-family='"Liberation Serif",serif' fill="#333" stroke="#333" stroke-width="0.11" textLength="23.3" lengthAdjust="spacingAndGlyphs">FROM TOP EDGE</text>
<text x="655.1" y="229.6" font-size="2.68" font-family='"Liberation Sans",sans-serif' fill="#333" stroke="#333" stroke-width="0.09" textLength="25.0" lengthAdjust="spacingAndGlyphs">35mm x 6mm THICK</text>
<text x="655.1" y="232.6" font-size="2.68" font-family='"Liberation Sans",sans-serif' fill="#333" stroke="#333" stroke-width="0.09" textLength="34.4" lengthAdjust="spacingAndGlyphs">PLATE FILLET WELD TO 10</text>
<text x="655.1" y="235.7" font-size="2.68" font-family='"Liberation Sans",sans-serif' fill="#333" stroke="#333" stroke-width="0.09" textLength="33.7" lengthAdjust="spacingAndGlyphs">NOS. OF T10 GALVANIZED</text>
<text x="655.1" y="238.7" font-size="2.68" font-family='"Liberation Sans",sans-serif' fill="#333" stroke="#333" stroke-width="0.09" textLength="14.7" lengthAdjust="spacingAndGlyphs">STEEL BAR</text>
<line x1="654.5" y1="229.5" x2="634.0" y2="212.0" stroke="#858585" stroke-width="0.35"/>
<text x="653.0" y="246.1" font-size="3.64" font-family='"Liberation Serif",serif' fill="#333" stroke="#333" stroke-width="0.13" textLength="32.4" lengthAdjust="spacingAndGlyphs">6mm THK. CHEQUER</text>
<text x="653.0" y="249.7" font-size="3.64" font-family='"Liberation Serif",serif' fill="#333" stroke="#333" stroke-width="0.13" textLength="29.6" lengthAdjust="spacingAndGlyphs">PLATE MIN. 100mm</text>
<text x="653.0" y="253.2" font-size="3.64" font-family='"Liberation Serif",serif' fill="#333" stroke="#333" stroke-width="0.13" textLength="13.9" lengthAdjust="spacingAndGlyphs">BEND-IN</text>
<line x1="652.5" y1="246.0" x2="640.0" y2="238.0" stroke="#858585" stroke-width="0.35"/>
<text x="574.2" y="245.4" font-size="3.48" font-family='"Liberation Sans",sans-serif' fill="#333" stroke="#333" stroke-width="0.12" textLength="5.1" lengthAdjust="spacingAndGlyphs">T16</text>
<line x1="580.2" y1="244.8" x2="614.6" y2="244.8" stroke="#858585" stroke-width="0.35"/>
<polygon points="615.6,244.8 614.2,245.3 614.2,244.3" fill="#555"/>
<text x="672.6" y="265.0" font-size="6.87" font-family='"Liberation Serif",serif' fill="#333" stroke="#333" stroke-width="0.24" text-anchor="middle" textLength="37.8" lengthAdjust="spacingAndGlyphs">SECTION F-F</text>
<line x1="653.7" y1="266.2" x2="691.5" y2="266.2" stroke="#858585" stroke-width="0.5"/>
<pattern id="gh" width="1.6" height="1.6" patternUnits="userSpaceOnUse" patternTransform="rotate(45)"><line x1="0" y1="0" x2="0" y2="1.6" stroke="#888" stroke-width="0.45"/></pattern>
<pattern id="hb" width="8" height="5.6" patternUnits="userSpaceOnUse"><path d="M0,5.6 L4,0 M2,5.6 L6,0 M4,5.6 L8,0 M4,0 L8,5.6 M0,0 L2,2.8" fill="none" stroke="#999" stroke-width="0.45"/></pattern>
<rect x="741.9" y="81.9" width="82.3" height="2.5" fill="url(#gh)"/>
<line x1="741.9" y1="84.4" x2="824.2" y2="84.4" stroke="#858585" stroke-width="0.45"/>
<line x1="798.5" y1="84.4" x2="798.5" y2="97.3" stroke="#858585" stroke-width="0.4"/>
<polygon points="798.5,97.3 798.0,95.9 799.0,95.9" fill="#555"/>
<text x="799.7" y="90.5" font-size="4.31" font-family='"Liberation Sans",sans-serif' fill="#333" stroke="#333" stroke-width="0.26" text-anchor="middle" textLength="15.5" lengthAdjust="spacingAndGlyphs">VARIES</text>
<rect x="743.7" y="98.3" width="69.5" height="63.3" fill="none" stroke="#9d9d9d" stroke-width="0.55"/>
<ellipse cx="778.4" cy="129.8" rx="19.6" ry="18.0" fill="none" stroke="#888" stroke-width="0.8"/>
<line x1="765.0" y1="143.5" x2="790.8" y2="118.5" stroke="#858585" stroke-width="0.4"/>
<text x="777.5" y="130.3" font-size="4.16" font-family='"Liberation Sans",sans-serif' fill="#333" stroke="#333" stroke-width="0.25" text-anchor="middle" transform="rotate(-40 777.5 130.3)" textLength="16.2" lengthAdjust="spacingAndGlyphs">250 DIA.</text>
<line x1="778.4" y1="98.3" x2="778.4" y2="102.3" stroke="#858585" stroke-width="0.4"/>
<line x1="778.4" y1="106.6" x2="778.4" y2="111.8" stroke="#858585" stroke-width="0.4"/>
<text x="777.3" y="106.0" font-size="4.2" font-family='"Liberation Sans",sans-serif' fill="#333" stroke="#333" stroke-width="0.25" text-anchor="middle" textLength="7.0" lengthAdjust="spacingAndGlyphs">100</text>
<line x1="739.3" y1="129.8" x2="744.5" y2="129.8" stroke="#858585" stroke-width="0.4"/>
<line x1="752.8" y1="129.8" x2="758.8" y2="129.8" stroke="#858585" stroke-width="0.4"/>
<text x="748.6" y="131.3" font-size="4.2" font-family='"Liberation Sans",sans-serif' fill="#333" stroke="#333" stroke-width="0.25" text-anchor="middle" textLength="7.0" lengthAdjust="spacingAndGlyphs">100</text>
<line x1="794.6" y1="129.8" x2="800.2" y2="129.8" stroke="#858585" stroke-width="0.4"/>
<line x1="808.3" y1="129.8" x2="817.8" y2="129.8" stroke="#858585" stroke-width="0.4"/>
<text x="804.2" y="128.8" font-size="4.2" font-family='"Liberation Sans",sans-serif' fill="#333" stroke="#333" stroke-width="0.25" text-anchor="middle" textLength="7.0" lengthAdjust="spacingAndGlyphs">100</text>
<text x="744.9" y="146.4" font-size="4.21" font-family='"Liberation Sans",sans-serif' fill="#333" stroke="#333" stroke-width="0.21" textLength="13.6" lengthAdjust="spacingAndGlyphs">C20/25</text>
<text x="744.9" y="150.1" font-size="4.21" font-family='"Liberation Sans",sans-serif' fill="#333" stroke="#333" stroke-width="0.21" textLength="23.6" lengthAdjust="spacingAndGlyphs">CONCRETE</text>
<line x1="778.4" y1="147.7" x2="778.4" y2="161.6" stroke="#858585" stroke-width="0.4"/>
<text x="777.9" y="155.5" font-size="4.16" font-family='"Liberation Sans",sans-serif' fill="#333" stroke="#333" stroke-width="0.25" text-anchor="middle" textLength="15.7" lengthAdjust="spacingAndGlyphs">VARIES</text>
<rect x="743.7" y="161.6" width="69.5" height="5.6" fill="url(#hb)"/>
<text x="777.2" y="171.2" font-size="3.61" font-family='"Liberation Serif",serif' fill="#444" stroke="#444" stroke-width="0.13" text-anchor="middle" textLength="39.9" lengthAdjust="spacingAndGlyphs">WELL COMPACTED BASE</text>
<text x="748.8" y="178.3" font-size="4.88" font-family='"Liberation Serif",serif' fill="#333" stroke="#333" stroke-width="0.17" textLength="74.2" lengthAdjust="spacingAndGlyphs">CONCRETE HAUNCH FOR JOINTED</text>
<text x="748.8" y="182.9" font-size="4.85" font-family='"Liberation Serif",serif' fill="#333" stroke="#333" stroke-width="0.17" textLength="66.4" lengthAdjust="spacingAndGlyphs">UPVC PIPE (REFER TO NOTE 18)</text>
<rect x="743.9" y="206.2" width="61.5" height="2.2" fill="url(#gh)"/>
<line x1="743.9" y1="208.4" x2="805.4" y2="208.4" stroke="#858585" stroke-width="0.45"/>
<line x1="791.7" y1="204.7" x2="791.7" y2="221.2" stroke="#858585" stroke-width="0.4"/>
<text x="791.0" y="212.8" font-size="2.18" font-family='"Liberation Sans",sans-serif' fill="#333" stroke="#333" stroke-width="0.08" text-anchor="middle" transform="rotate(-90 791.0 212.8)" textLength="8.5" lengthAdjust="spacingAndGlyphs">1200mm</text>
<line x1="778.0" y1="221.2" x2="793.5" y2="221.2" stroke="#858585" stroke-width="0.35"/>
<ellipse cx="777.8" cy="239.1" rx="19.75" ry="17.9" fill="none" stroke="#888" stroke-width="0.8"/>
<line x1="764.0" y1="251.5" x2="791.7" y2="226.8" stroke="#858585" stroke-width="0.4"/>
<text x="777.8" y="240.2" font-size="2.96" font-family='"Liberation Sans",sans-serif' fill="#333" stroke="#333" stroke-width="0.10" text-anchor="middle" transform="rotate(-42 777.8 240.2)" textLength="11.5" lengthAdjust="spacingAndGlyphs">250 DIA.</text>
<line x1="738.4" y1="250.6" x2="764.0" y2="250.6" stroke="#858585" stroke-width="0.35"/>
<line x1="738.4" y1="249.0" x2="738.4" y2="252.2" stroke="#858585" stroke-width="0.35"/>
<text x="751.2" y="250.1" font-size="2.76" font-family='"Liberation Sans",sans-serif' fill="#333" stroke="#333" stroke-width="0.10" text-anchor="middle" textLength="4.6" lengthAdjust="spacingAndGlyphs">100</text>
<line x1="738.4" y1="256.5" x2="802.7" y2="256.5" stroke="#858585" stroke-width="0.45"/>
<rect x="738.4" y="256.5" width="64.3" height="4.2" fill="url(#dh)"/>
<text x="806.4" y="253.4" font-size="3.7" font-family='"Liberation Serif",serif' fill="#333" stroke="#333" stroke-width="0.13" textLength="42.2" lengthAdjust="spacingAndGlyphs">UPVC (HEAVY DUTY) PIPE</text>
<line x1="797.0" y1="247.0" x2="809.0" y2="247.0" stroke="#858585" stroke-width="0.35"/>
<line x1="809.0" y1="247.0" x2="809.0" y2="249.8" stroke="#858585" stroke-width="0.35"/>
<text x="805.4" y="264.8" font-size="3.67" font-family='"Liberation Serif",serif' fill="#333" stroke="#333" stroke-width="0.13" textLength="41.6" lengthAdjust="spacingAndGlyphs">100mm BASE COMPACTED</text>
<text x="805.4" y="268.5" font-size="3.67" font-family='"Liberation Serif",serif' fill="#333" stroke="#333" stroke-width="0.13" textLength="43.2" lengthAdjust="spacingAndGlyphs">TO 95% OF MAXIMUM DRY</text>
<text x="805.4" y="272.1" font-size="3.67" font-family='"Liberation Serif",serif' fill="#333" stroke="#333" stroke-width="0.13" textLength="42.6" lengthAdjust="spacingAndGlyphs">DENSITY (BS 1377 TEST 13)</text>
<line x1="796.3" y1="259.8" x2="796.3" y2="267.2" stroke="#858585" stroke-width="0.35"/>
<line x1="796.3" y1="267.2" x2="804.5" y2="267.2" stroke="#858585" stroke-width="0.35"/>
<text x="765.5" y="274.9" font-size="6.07" font-family='"Liberation Serif",serif' fill="#333" stroke="#333" stroke-width="0.21" text-anchor="middle" textLength="34.0" lengthAdjust="spacingAndGlyphs">SECTION E-E</text>
<line x1="748.5" y1="276.2" x2="782.5" y2="276.2" stroke="#858585" stroke-width="0.5"/></svg><div id="notes">
<div class="l"><b>NOTES:</b></div>
<div class="l"><span class="n" style="left:3.4px">1.</span><span class="t" style="letter-spacing:0.786px">ALL DIMENSIONS ARE IN MILLIMETRES UNLESS OTHERWISE STATED</span></div>
<div class="l"><span class="n" style="left:3.4px">2.</span><span class="t" style="letter-spacing:0.774px">THE KERB AND DROP-INLET CHAMBER SHALL BE CAST IN ONE OPERATION</span></div>
<div class="l"><span class="n" style="left:3.4px">3.</span><span class="t" style="letter-spacing:0.746px">MINIMUM C28/35 CONCRETE TO BE USED FOR THE PRECAST SECTION OF DROP-INLET CHAMBER</span></div>
<div class="l"><span class="n" style="left:3.4px">4.</span><span class="t" style="letter-spacing:0.786px">LTA APPROVED ANTI-SKID COATING SHALL BE APPLIED ON TOP OF THE EXPOSED 6MM THICK CHEQUER PLATE</span></div>
<div class="l"><span class="n" style="left:3.4px">5.</span><span class="t" style="letter-spacing:0.768px">TOP SECTION OF 6MM THICK CHEQUER PLATE SHALL BE EXTENDED AND FLUSH TO PRECASTER REQUIREMENT</span></div>
<div class="l"><span class="n" style="left:3.4px">6.</span><span class="t" style="letter-spacing:0.796px">ALL WELD SHALL BE FULL STRENGTH BUTT WELD UNLESS OTHERWISE STATED</span></div>
<div class="l"><span class="n" style="left:3.4px">7.</span><span class="t" style="letter-spacing:0.788px">MINIMUM FILLET WELD THICKNESS&nbsp; SHALL BE 3MM OF THROAT SIZE OF 2.1MM</span></div>
<div class="l"><span class="n" style="left:3.4px">8.</span><span class="t" style="letter-spacing:0.760px">DRILLED HOLE ON CHEQUER PLATE SHALL BE 2MM LARGER THAN THE DIAMETER OF REBAR TO ALLOW INSERTION OF REBAR</span></div>
<div class="l"><span class="n" style="left:3.4px">9.</span><span class="t" style="letter-spacing:0.776px">DRILLED HOLE ON CHEQUER PLATE SHALL HAVE A MINIMUM DISTANCE OF 35MM FROM TOP EDGE AND 40MM FROM SIDE EDGE OF CHEQUER PLATE</span></div>
<div class="l"><span class="n">10.</span><span class="t" style="letter-spacing:0.786px">THE BEND-IN CHEQUER PLATE ON BOTH SIDES SHALL HAVE A MINIMUM BEND-IN DISTANCE OF 100MM</span></div>
<div class="l"><span class="n">11.</span><span class="t" style="letter-spacing:0.778px">THE BEND-IN 6MM CHEQUER PLATE SHALL HAVE A MIN. DISTANCE OF 35MM FROM BOTTOM EDGE OF T16</span></div>
<div class="l"><span class="n">12.</span><span class="t" style="letter-spacing:0.772px">10 NOS. OF VERTICAL T10 GALVANIZED STEEL BAR SHALL HAVE A MINIMUM RECESS OF 5MM TO 20MM MEASURING FROM OUTER FACE OF KERB</span></div>
<div class="l"><span class="n">13.</span><span class="t" style="letter-spacing:0.720px">A SECTION OF UPVC PIPE SHALL BE CUT [MEASURE FROM TOP OF PIPE: 100MM (HEIGHT) , 70MM (WIDTH)]</span></div>
<div class="l"><span class="n">14.</span><span class="t" style="letter-spacing:0.782px">GRATINGS AND FRAMES ARE TO BE GALVANIZED BY HOT-DIP GALVANISING PROCESS IN ACCORDANCE WITH ISO1461:2009</span></div>
<div class="l"><span class="n">15.</span><span class="t" style="letter-spacing:0.782px">THE COMPLETE ASSEMBLY EXCEPT FISH TAIL ARE TO BE GALVANIZED BY HOT-DIP GALVANISING PROCESS IN ACCORDANCE WITH ISO1461:2009</span></div>
<div class="l"><span class="n">16.</span><span class="t" style="letter-spacing:0.800px">FISH TAIL TO BE WELDED TO M.S. ANGLE AND PLACED AT ALL CORNERS OF THE FRAME</span></div>
<div class="l"><span class="n">17.</span><span class="t" style="letter-spacing:0.744px">THE HINGE MUST BE LOCATED SUCH THAT GRATING WILL BE CLOSED IN THE DIRECTION OF TRAFFIC FLOW</span></div>
<div class="l"><span class="n">18.</span><span class="t" style="letter-spacing:0.740px">UPVC PIPE (INTERNAL DIAMETER 250MM) SHALL CONFORM TO SS 141 WITHOUT JOINTING (MINIMUM WALL THICKNESS 9.7MM)</span></div>
<div class="l"><span class="n">19.</span><span class="t" style="letter-spacing:0.776px">ENHANCED DROP-INLET CHAMBER SHALL NOT BE INSTALLED WITHIN THE WIDTH OF WALKWAY</span></div>
<div class="l"><span class="n">20.</span><span class="t" style="letter-spacing:0.760px">75MM UPVC PIPE IN THE DROP-INLET CHAMBER SHALL BE SEALED AFTER LAYING THE FINAL ASPHALTIC WEARING COURSE</span></div>
<div class="l"><span class="n">21.</span><span class="t" style="letter-spacing:0.738px">EXTENT OF CONCRETE HAUNCH SHALL BE 150MM FROM THE POINT OF JOINT ON BOTH SIDES FOR JOINTED UPVC PIPES</span></div>
<div class="l"><span class="n">22.</span><span class="t" style="letter-spacing:0.806px">WSFR MEANS WELDED STEEL REINFORCEMENT MANUFACTURES TO SS561</span></div>
<div class="l"><span class="n">23.</span><span class="t" style="letter-spacing:0.726px">ALL UPVC PIPES SHALL CONFORM TO SS272. ALL DIAMETER OF UPVC PIPE SPECIFIED SHALL BE OF NOMINAL SIZE</span></div>
<div class="l"><span class="n">24.</span><span class="t" style="letter-spacing:0.762px">6MM THICK CHEQUER PLATE TO EXTEND TO MATCH HALF OF THE CIRCULAR SHAPE OF UPVC PIPE AS PER PRECASTER REQUIREMENT</span></div>
<div class="l"><span class="n">25.</span><span class="t" style="letter-spacing:0.800px">BOLT ASSEMBLY SERVE TO FASTEN THE VERTICAL GRATING TO THE MILD STEEL PLATE</span></div>
<div class="l"><span class="n">26.</span><span class="t" style="letter-spacing:0.800px">BOLT ASSEMBLY SHALL BE WITHIN 6MM THICK CHEQUER PLATES</span></div>
<div class="l"><span class="n">27.</span><span class="t" style="letter-spacing:0.754px">GAP BETWEEN DIA. 250MM UPVC (HEAVY DUTY) PIPE AND EXTENDED 6MM THICK SIDE CHEQUER PLATE SHALL BE SEALED OFF WITH</span></div>
<div class="l"><span class="t" style="left:25.6px;letter-spacing:0.760px">CEMENT MORTAR AFTER INSTALLATION OF DIA. 250MM UPVC (HEAVY DUTY) PIPE.</span></div>
</div></body></html>
